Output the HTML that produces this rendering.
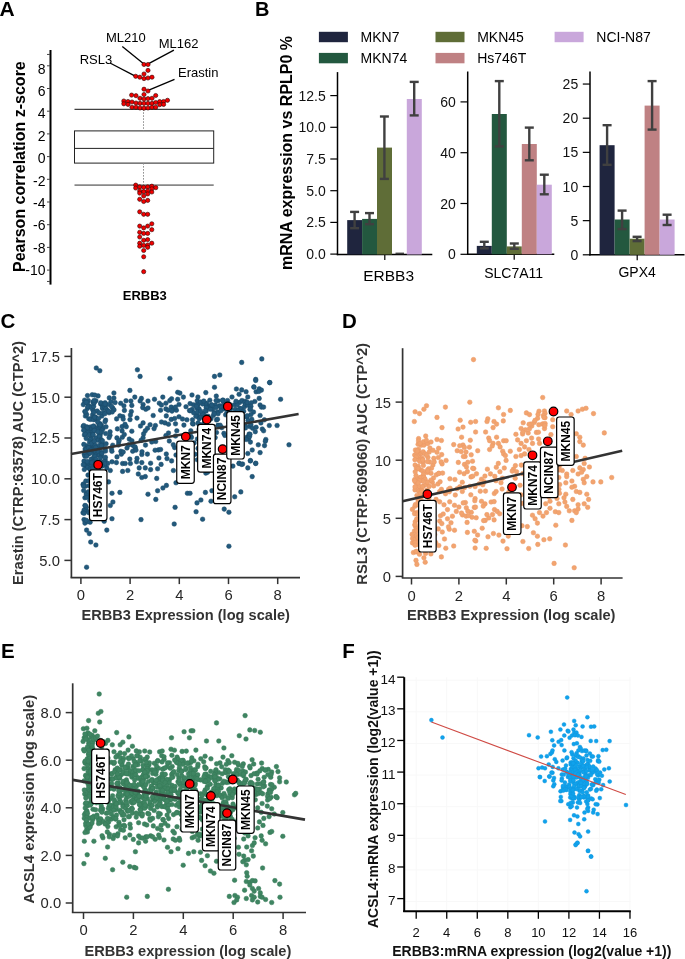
<!DOCTYPE html>
<html><head><meta charset="utf-8"><style>
html,body{margin:0;padding:0;background:#fff;width:685px;height:959px;overflow:hidden}
svg{display:block;will-change:transform}
text{font-family:"Liberation Sans",sans-serif}
</style></head><body>
<svg width="685" height="959" viewBox="0 0 685 959">
<rect width="685" height="959" fill="#fff"/>
<text x="-0.50" y="15.50" font-size="21" text-anchor="start" font-weight="bold" fill="#000">A</text>
<line x1="50.50" y1="50.00" x2="50.50" y2="284.60" stroke="#000" stroke-width="2"/>
<line x1="47.00" y1="54.45" x2="50.00" y2="54.45" stroke="#444" stroke-width="1"/>
<line x1="47.00" y1="65.80" x2="50.00" y2="65.80" stroke="#444" stroke-width="1"/>
<line x1="47.00" y1="88.50" x2="50.00" y2="88.50" stroke="#444" stroke-width="1"/>
<line x1="47.00" y1="111.20" x2="50.00" y2="111.20" stroke="#444" stroke-width="1"/>
<line x1="47.00" y1="133.90" x2="50.00" y2="133.90" stroke="#444" stroke-width="1"/>
<line x1="47.00" y1="156.60" x2="50.00" y2="156.60" stroke="#444" stroke-width="1"/>
<line x1="47.00" y1="179.30" x2="50.00" y2="179.30" stroke="#444" stroke-width="1"/>
<line x1="47.00" y1="202.00" x2="50.00" y2="202.00" stroke="#444" stroke-width="1"/>
<line x1="47.00" y1="224.70" x2="50.00" y2="224.70" stroke="#444" stroke-width="1"/>
<line x1="47.00" y1="247.40" x2="50.00" y2="247.40" stroke="#444" stroke-width="1"/>
<line x1="47.00" y1="270.10" x2="50.00" y2="270.10" stroke="#444" stroke-width="1"/>
<line x1="47.00" y1="281.45" x2="50.00" y2="281.45" stroke="#444" stroke-width="1"/>
<text x="45.50" y="73.68" font-size="14" text-anchor="end" font-weight="normal" fill="#000">8</text>
<text x="45.50" y="96.06" font-size="14" text-anchor="end" font-weight="normal" fill="#000">6</text>
<text x="45.50" y="118.44" font-size="14" text-anchor="end" font-weight="normal" fill="#000">4</text>
<text x="45.50" y="140.82" font-size="14" text-anchor="end" font-weight="normal" fill="#000">2</text>
<text x="45.50" y="163.20" font-size="14" text-anchor="end" font-weight="normal" fill="#000">0</text>
<text x="45.50" y="185.58" font-size="14" text-anchor="end" font-weight="normal" fill="#000">-2</text>
<text x="45.50" y="207.96" font-size="14" text-anchor="end" font-weight="normal" fill="#000">-4</text>
<text x="45.50" y="230.34" font-size="14" text-anchor="end" font-weight="normal" fill="#000">-6</text>
<text x="45.50" y="252.72" font-size="14" text-anchor="end" font-weight="normal" fill="#000">-8</text>
<text x="45.50" y="275.10" font-size="14" text-anchor="end" font-weight="normal" fill="#000">-10</text>
<text x="25.00" y="166.60" font-size="16" text-anchor="middle" font-weight="bold" fill="#000" transform="rotate(-90 25 166.6)">Pearson correlation z-score</text>
<rect x="74.5" y="130.9" width="139.2" height="32.2" fill="none" stroke="#222" stroke-width="1"/>
<line x1="74.50" y1="148.40" x2="213.70" y2="148.40" stroke="#222" stroke-width="1"/>
<line x1="74.50" y1="109.30" x2="213.70" y2="109.30" stroke="#111" stroke-width="1"/>
<line x1="74.50" y1="185.10" x2="213.70" y2="185.10" stroke="#888" stroke-width="1.6"/>
<line x1="143.50" y1="109.30" x2="143.50" y2="130.90" stroke="#888" stroke-width="1" stroke-dasharray="1.5,1.5"/>
<line x1="143.50" y1="163.10" x2="143.50" y2="185.10" stroke="#888" stroke-width="1" stroke-dasharray="1.5,1.5"/>
<text x="166.80" y="299.70" font-size="13" text-anchor="end" font-weight="bold" fill="#000">ERBB3</text>
<text x="106.00" y="41.70" font-size="13" text-anchor="start" font-weight="normal" fill="#000">ML210</text>
<line x1="122.30" y1="46.60" x2="143.90" y2="64.10" stroke="#000" stroke-width="1.3"/>
<text x="79.70" y="63.50" font-size="13" text-anchor="start" font-weight="normal" fill="#000">RSL3</text>
<line x1="110.00" y1="63.00" x2="135.70" y2="76.40" stroke="#000" stroke-width="1.3"/>
<text x="158.70" y="47.50" font-size="13" text-anchor="start" font-weight="normal" fill="#000">ML162</text>
<line x1="173.90" y1="50.10" x2="148.20" y2="63.90" stroke="#000" stroke-width="1.3"/>
<text x="178.00" y="77.30" font-size="13" text-anchor="start" font-weight="normal" fill="#000">Erastin</text>
<line x1="174.50" y1="79.30" x2="147.60" y2="90.70" stroke="#000" stroke-width="1.3"/>
<circle cx="144.00" cy="64.50" r="2.1" fill="#f20000" stroke="#300000" stroke-width="0.6"/>
<circle cx="148.00" cy="64.50" r="2.1" fill="#f20000" stroke="#300000" stroke-width="0.6"/>
<circle cx="148.00" cy="70.40" r="2.1" fill="#f20000" stroke="#300000" stroke-width="0.6"/>
<circle cx="144.00" cy="74.00" r="2.1" fill="#f20000" stroke="#300000" stroke-width="0.6"/>
<circle cx="135.70" cy="76.30" r="2.1" fill="#f20000" stroke="#300000" stroke-width="0.6"/>
<circle cx="139.80" cy="77.20" r="2.1" fill="#f20000" stroke="#300000" stroke-width="0.6"/>
<circle cx="144.00" cy="78.60" r="2.1" fill="#f20000" stroke="#300000" stroke-width="0.6"/>
<circle cx="148.00" cy="78.00" r="2.1" fill="#f20000" stroke="#300000" stroke-width="0.6"/>
<circle cx="152.00" cy="77.20" r="2.1" fill="#f20000" stroke="#300000" stroke-width="0.6"/>
<circle cx="144.00" cy="89.20" r="2.1" fill="#f20000" stroke="#300000" stroke-width="0.6"/>
<circle cx="148.00" cy="91.00" r="2.1" fill="#f20000" stroke="#300000" stroke-width="0.6"/>
<circle cx="131.60" cy="95.10" r="2.1" fill="#f20000" stroke="#300000" stroke-width="0.6"/>
<circle cx="136.00" cy="95.70" r="2.1" fill="#f20000" stroke="#300000" stroke-width="0.6"/>
<circle cx="144.00" cy="94.50" r="2.1" fill="#f20000" stroke="#300000" stroke-width="0.6"/>
<circle cx="155.70" cy="95.50" r="2.1" fill="#f20000" stroke="#300000" stroke-width="0.6"/>
<circle cx="140.00" cy="98.30" r="2.1" fill="#f20000" stroke="#300000" stroke-width="0.6"/>
<circle cx="144.00" cy="99.00" r="2.1" fill="#f20000" stroke="#300000" stroke-width="0.6"/>
<circle cx="148.00" cy="98.60" r="2.1" fill="#f20000" stroke="#300000" stroke-width="0.6"/>
<circle cx="152.00" cy="98.30" r="2.1" fill="#f20000" stroke="#300000" stroke-width="0.6"/>
<circle cx="123.80" cy="101.00" r="2.1" fill="#f20000" stroke="#300000" stroke-width="0.6"/>
<circle cx="128.00" cy="101.50" r="2.1" fill="#f20000" stroke="#300000" stroke-width="0.6"/>
<circle cx="132.00" cy="102.00" r="2.1" fill="#f20000" stroke="#300000" stroke-width="0.6"/>
<circle cx="136.00" cy="103.00" r="2.1" fill="#f20000" stroke="#300000" stroke-width="0.6"/>
<circle cx="140.00" cy="103.40" r="2.1" fill="#f20000" stroke="#300000" stroke-width="0.6"/>
<circle cx="144.00" cy="103.40" r="2.1" fill="#f20000" stroke="#300000" stroke-width="0.6"/>
<circle cx="148.00" cy="103.40" r="2.1" fill="#f20000" stroke="#300000" stroke-width="0.6"/>
<circle cx="152.00" cy="103.40" r="2.1" fill="#f20000" stroke="#300000" stroke-width="0.6"/>
<circle cx="155.70" cy="102.50" r="2.1" fill="#f20000" stroke="#300000" stroke-width="0.6"/>
<circle cx="159.70" cy="101.60" r="2.1" fill="#f20000" stroke="#300000" stroke-width="0.6"/>
<circle cx="163.60" cy="101.50" r="2.1" fill="#f20000" stroke="#300000" stroke-width="0.6"/>
<circle cx="167.50" cy="100.30" r="2.1" fill="#f20000" stroke="#300000" stroke-width="0.6"/>
<circle cx="123.80" cy="103.80" r="2.1" fill="#f20000" stroke="#300000" stroke-width="0.6"/>
<circle cx="128.00" cy="104.40" r="2.1" fill="#f20000" stroke="#300000" stroke-width="0.6"/>
<circle cx="159.70" cy="104.70" r="2.1" fill="#f20000" stroke="#300000" stroke-width="0.6"/>
<circle cx="163.60" cy="104.40" r="2.1" fill="#f20000" stroke="#300000" stroke-width="0.6"/>
<circle cx="132.00" cy="107.30" r="2.1" fill="#f20000" stroke="#300000" stroke-width="0.6"/>
<circle cx="136.00" cy="107.30" r="2.1" fill="#f20000" stroke="#300000" stroke-width="0.6"/>
<circle cx="140.00" cy="108.00" r="2.1" fill="#f20000" stroke="#300000" stroke-width="0.6"/>
<circle cx="144.00" cy="108.20" r="2.1" fill="#f20000" stroke="#300000" stroke-width="0.6"/>
<circle cx="148.00" cy="108.00" r="2.1" fill="#f20000" stroke="#300000" stroke-width="0.6"/>
<circle cx="152.00" cy="107.30" r="2.1" fill="#f20000" stroke="#300000" stroke-width="0.6"/>
<circle cx="155.70" cy="107.30" r="2.1" fill="#f20000" stroke="#300000" stroke-width="0.6"/>
<circle cx="135.70" cy="185.10" r="2.1" fill="#f20000" stroke="#300000" stroke-width="0.6"/>
<circle cx="135.70" cy="188.00" r="2.1" fill="#f20000" stroke="#300000" stroke-width="0.6"/>
<circle cx="139.70" cy="186.90" r="2.1" fill="#f20000" stroke="#300000" stroke-width="0.6"/>
<circle cx="143.70" cy="187.30" r="2.1" fill="#f20000" stroke="#300000" stroke-width="0.6"/>
<circle cx="147.70" cy="186.90" r="2.1" fill="#f20000" stroke="#300000" stroke-width="0.6"/>
<circle cx="151.80" cy="186.20" r="2.1" fill="#f20000" stroke="#300000" stroke-width="0.6"/>
<circle cx="155.80" cy="187.70" r="2.1" fill="#f20000" stroke="#300000" stroke-width="0.6"/>
<circle cx="151.80" cy="188.80" r="2.1" fill="#f20000" stroke="#300000" stroke-width="0.6"/>
<circle cx="139.70" cy="191.00" r="2.1" fill="#f20000" stroke="#300000" stroke-width="0.6"/>
<circle cx="143.70" cy="191.70" r="2.1" fill="#f20000" stroke="#300000" stroke-width="0.6"/>
<circle cx="147.70" cy="191.00" r="2.1" fill="#f20000" stroke="#300000" stroke-width="0.6"/>
<circle cx="151.80" cy="192.00" r="2.1" fill="#f20000" stroke="#300000" stroke-width="0.6"/>
<circle cx="139.70" cy="193.10" r="2.1" fill="#f20000" stroke="#300000" stroke-width="0.6"/>
<circle cx="147.70" cy="193.90" r="2.1" fill="#f20000" stroke="#300000" stroke-width="0.6"/>
<circle cx="143.70" cy="196.00" r="2.1" fill="#f20000" stroke="#300000" stroke-width="0.6"/>
<circle cx="139.70" cy="199.30" r="2.1" fill="#f20000" stroke="#300000" stroke-width="0.6"/>
<circle cx="143.70" cy="201.50" r="2.1" fill="#f20000" stroke="#300000" stroke-width="0.6"/>
<circle cx="147.70" cy="200.40" r="2.1" fill="#f20000" stroke="#300000" stroke-width="0.6"/>
<circle cx="139.70" cy="211.80" r="2.1" fill="#f20000" stroke="#300000" stroke-width="0.6"/>
<circle cx="143.70" cy="214.30" r="2.1" fill="#f20000" stroke="#300000" stroke-width="0.6"/>
<circle cx="147.70" cy="214.30" r="2.1" fill="#f20000" stroke="#300000" stroke-width="0.6"/>
<circle cx="139.70" cy="226.10" r="2.1" fill="#f20000" stroke="#300000" stroke-width="0.6"/>
<circle cx="143.70" cy="227.90" r="2.1" fill="#f20000" stroke="#300000" stroke-width="0.6"/>
<circle cx="147.70" cy="226.10" r="2.1" fill="#f20000" stroke="#300000" stroke-width="0.6"/>
<circle cx="151.80" cy="223.80" r="2.1" fill="#f20000" stroke="#300000" stroke-width="0.6"/>
<circle cx="151.80" cy="229.70" r="2.1" fill="#f20000" stroke="#300000" stroke-width="0.6"/>
<circle cx="139.70" cy="232.30" r="2.1" fill="#f20000" stroke="#300000" stroke-width="0.6"/>
<circle cx="143.70" cy="233.40" r="2.1" fill="#f20000" stroke="#300000" stroke-width="0.6"/>
<circle cx="147.70" cy="233.40" r="2.1" fill="#f20000" stroke="#300000" stroke-width="0.6"/>
<circle cx="139.70" cy="237.00" r="2.1" fill="#f20000" stroke="#300000" stroke-width="0.6"/>
<circle cx="143.70" cy="240.30" r="2.1" fill="#f20000" stroke="#300000" stroke-width="0.6"/>
<circle cx="147.70" cy="239.60" r="2.1" fill="#f20000" stroke="#300000" stroke-width="0.6"/>
<circle cx="139.70" cy="243.20" r="2.1" fill="#f20000" stroke="#300000" stroke-width="0.6"/>
<circle cx="151.80" cy="243.20" r="2.1" fill="#f20000" stroke="#300000" stroke-width="0.6"/>
<circle cx="139.70" cy="246.20" r="2.1" fill="#f20000" stroke="#300000" stroke-width="0.6"/>
<circle cx="143.70" cy="245.40" r="2.1" fill="#f20000" stroke="#300000" stroke-width="0.6"/>
<circle cx="147.70" cy="245.00" r="2.1" fill="#f20000" stroke="#300000" stroke-width="0.6"/>
<circle cx="147.70" cy="247.30" r="2.1" fill="#f20000" stroke="#300000" stroke-width="0.6"/>
<circle cx="143.70" cy="250.50" r="2.1" fill="#f20000" stroke="#300000" stroke-width="0.6"/>
<circle cx="143.70" cy="256.80" r="2.1" fill="#f20000" stroke="#300000" stroke-width="0.6"/>
<circle cx="143.70" cy="271.70" r="2.1" fill="#f20000" stroke="#300000" stroke-width="0.6"/>
<text x="255.00" y="15.50" font-size="20" text-anchor="start" font-weight="bold" fill="#000">B</text>
<rect x="318.90" y="31.80" width="29.00" height="10.40" fill="#1f253e"/>
<text x="360.60" y="42.10" font-size="14" text-anchor="start" font-weight="normal" fill="#000">MKN7</text>
<rect x="318.90" y="52.90" width="29.00" height="10.40" fill="#23583f"/>
<text x="360.60" y="63.20" font-size="14" text-anchor="start" font-weight="normal" fill="#000">MKN74</text>
<rect x="435.50" y="31.80" width="29.00" height="10.40" fill="#5f6d37"/>
<text x="477.20" y="42.10" font-size="14" text-anchor="start" font-weight="normal" fill="#000">MKN45</text>
<rect x="435.50" y="52.90" width="29.00" height="10.40" fill="#bf8183"/>
<text x="477.20" y="63.20" font-size="14" text-anchor="start" font-weight="normal" fill="#000">Hs746T</text>
<rect x="554.60" y="31.80" width="29.00" height="10.40" fill="#c9a7db"/>
<text x="596.30" y="42.10" font-size="14" text-anchor="start" font-weight="normal" fill="#000">NCI-N87</text>
<text x="292.00" y="153.00" font-size="16" text-anchor="middle" font-weight="bold" fill="#000" transform="rotate(-90 292 153)">mRNA expression vs RPLP0 %</text>
<line x1="337.50" y1="72.10" x2="337.50" y2="255.20" stroke="#000" stroke-width="1.5"/>
<line x1="336.80" y1="254.50" x2="432.30" y2="254.50" stroke="#000" stroke-width="1.5"/>
<line x1="330.30" y1="254.10" x2="337.50" y2="254.10" stroke="#000" stroke-width="1.2"/>
<text x="325.70" y="259.10" font-size="14" text-anchor="end" font-weight="normal" fill="#111">0.0</text>
<line x1="330.30" y1="222.40" x2="337.50" y2="222.40" stroke="#000" stroke-width="1.2"/>
<text x="325.70" y="227.40" font-size="14" text-anchor="end" font-weight="normal" fill="#111">2.5</text>
<line x1="330.30" y1="190.70" x2="337.50" y2="190.70" stroke="#000" stroke-width="1.2"/>
<text x="325.70" y="195.70" font-size="14" text-anchor="end" font-weight="normal" fill="#111">5.0</text>
<line x1="330.30" y1="159.00" x2="337.50" y2="159.00" stroke="#000" stroke-width="1.2"/>
<text x="325.70" y="164.00" font-size="14" text-anchor="end" font-weight="normal" fill="#111">7.5</text>
<line x1="330.30" y1="127.30" x2="337.50" y2="127.30" stroke="#000" stroke-width="1.2"/>
<text x="325.70" y="132.30" font-size="14" text-anchor="end" font-weight="normal" fill="#111">10.0</text>
<line x1="330.30" y1="95.60" x2="337.50" y2="95.60" stroke="#000" stroke-width="1.2"/>
<text x="325.70" y="100.60" font-size="14" text-anchor="end" font-weight="normal" fill="#111">12.5</text>
<line x1="384.80" y1="254.50" x2="384.80" y2="260.00" stroke="#000" stroke-width="1.2"/>
<rect x="347.20" y="220.10" width="15.00" height="34.40" fill="#1f253e"/>
<rect x="362.10" y="218.90" width="15.00" height="35.60" fill="#23583f"/>
<rect x="377.00" y="147.60" width="15.00" height="106.90" fill="#5f6d37"/>
<rect x="391.90" y="254.50" width="15.00" height="0.00" fill="#bf8183"/>
<rect x="406.80" y="99.00" width="15.00" height="155.50" fill="#c9a7db"/>
<line x1="354.60" y1="211.90" x2="354.60" y2="228.20" stroke="#404040" stroke-width="2.4"/>
<line x1="350.10" y1="211.90" x2="359.10" y2="211.90" stroke="#404040" stroke-width="2.4"/>
<line x1="350.10" y1="228.20" x2="359.10" y2="228.20" stroke="#404040" stroke-width="2.4"/>
<line x1="369.50" y1="213.10" x2="369.50" y2="224.20" stroke="#404040" stroke-width="2.4"/>
<line x1="365.00" y1="213.10" x2="374.00" y2="213.10" stroke="#404040" stroke-width="2.4"/>
<line x1="365.00" y1="224.20" x2="374.00" y2="224.20" stroke="#404040" stroke-width="2.4"/>
<line x1="384.40" y1="116.50" x2="384.40" y2="178.90" stroke="#404040" stroke-width="2.4"/>
<line x1="379.90" y1="116.50" x2="388.90" y2="116.50" stroke="#404040" stroke-width="2.4"/>
<line x1="379.90" y1="178.90" x2="388.90" y2="178.90" stroke="#404040" stroke-width="2.4"/>
<line x1="414.20" y1="81.90" x2="414.20" y2="115.40" stroke="#404040" stroke-width="2.4"/>
<line x1="409.70" y1="81.90" x2="418.70" y2="81.90" stroke="#404040" stroke-width="2.4"/>
<line x1="409.70" y1="115.40" x2="418.70" y2="115.40" stroke="#404040" stroke-width="2.4"/>
<text x="363.20" y="280.70" font-size="15.5" text-anchor="start" font-weight="normal" fill="#000">ERBB3</text>
<line x1="395.50" y1="253.40" x2="404.00" y2="253.40" stroke="#404040" stroke-width="1.6"/>
<line x1="467.70" y1="71.50" x2="467.70" y2="255.00" stroke="#000" stroke-width="1.5"/>
<line x1="467.00" y1="254.30" x2="554.30" y2="254.30" stroke="#000" stroke-width="1.5"/>
<line x1="460.50" y1="254.30" x2="467.70" y2="254.30" stroke="#000" stroke-width="1.2"/>
<text x="455.90" y="259.30" font-size="14" text-anchor="end" font-weight="normal" fill="#111">0</text>
<line x1="460.50" y1="203.50" x2="467.70" y2="203.50" stroke="#000" stroke-width="1.2"/>
<text x="455.90" y="208.50" font-size="14" text-anchor="end" font-weight="normal" fill="#111">20</text>
<line x1="460.50" y1="152.70" x2="467.70" y2="152.70" stroke="#000" stroke-width="1.2"/>
<text x="455.90" y="157.70" font-size="14" text-anchor="end" font-weight="normal" fill="#111">40</text>
<line x1="460.50" y1="101.90" x2="467.70" y2="101.90" stroke="#000" stroke-width="1.2"/>
<text x="455.90" y="106.90" font-size="14" text-anchor="end" font-weight="normal" fill="#111">60</text>
<line x1="514.20" y1="254.30" x2="514.20" y2="259.80" stroke="#000" stroke-width="1.2"/>
<rect x="476.80" y="245.90" width="15.00" height="8.40" fill="#1f253e"/>
<rect x="491.80" y="114.00" width="15.00" height="140.30" fill="#23583f"/>
<rect x="506.80" y="246.40" width="15.00" height="7.90" fill="#5f6d37"/>
<rect x="521.80" y="144.00" width="15.00" height="110.30" fill="#bf8183"/>
<rect x="536.80" y="184.70" width="15.00" height="69.60" fill="#c9a7db"/>
<line x1="484.30" y1="241.80" x2="484.30" y2="248.30" stroke="#404040" stroke-width="2.4"/>
<line x1="479.80" y1="241.80" x2="488.80" y2="241.80" stroke="#404040" stroke-width="2.4"/>
<line x1="479.80" y1="248.30" x2="488.80" y2="248.30" stroke="#404040" stroke-width="2.4"/>
<line x1="499.30" y1="81.10" x2="499.30" y2="146.40" stroke="#404040" stroke-width="2.4"/>
<line x1="494.80" y1="81.10" x2="503.80" y2="81.10" stroke="#404040" stroke-width="2.4"/>
<line x1="494.80" y1="146.40" x2="503.80" y2="146.40" stroke="#404040" stroke-width="2.4"/>
<line x1="514.30" y1="243.50" x2="514.30" y2="248.80" stroke="#404040" stroke-width="2.4"/>
<line x1="509.80" y1="243.50" x2="518.80" y2="243.50" stroke="#404040" stroke-width="2.4"/>
<line x1="509.80" y1="248.80" x2="518.80" y2="248.80" stroke="#404040" stroke-width="2.4"/>
<line x1="529.30" y1="127.60" x2="529.30" y2="160.30" stroke="#404040" stroke-width="2.4"/>
<line x1="524.80" y1="127.60" x2="533.80" y2="127.60" stroke="#404040" stroke-width="2.4"/>
<line x1="524.80" y1="160.30" x2="533.80" y2="160.30" stroke="#404040" stroke-width="2.4"/>
<line x1="544.30" y1="174.70" x2="544.30" y2="194.30" stroke="#404040" stroke-width="2.4"/>
<line x1="539.80" y1="174.70" x2="548.80" y2="174.70" stroke="#404040" stroke-width="2.4"/>
<line x1="539.80" y1="194.30" x2="548.80" y2="194.30" stroke="#404040" stroke-width="2.4"/>
<text x="513.60" y="277.70" font-size="14" text-anchor="middle" font-weight="normal" fill="#000">SLC7A11</text>
<line x1="590.00" y1="71.50" x2="590.00" y2="255.50" stroke="#000" stroke-width="1.5"/>
<line x1="589.30" y1="254.80" x2="684.50" y2="254.80" stroke="#000" stroke-width="1.5"/>
<line x1="582.80" y1="254.80" x2="590.00" y2="254.80" stroke="#000" stroke-width="1.2"/>
<text x="578.20" y="259.80" font-size="14" text-anchor="end" font-weight="normal" fill="#111">0</text>
<line x1="582.80" y1="220.65" x2="590.00" y2="220.65" stroke="#000" stroke-width="1.2"/>
<text x="578.20" y="225.65" font-size="14" text-anchor="end" font-weight="normal" fill="#111">5</text>
<line x1="582.80" y1="186.50" x2="590.00" y2="186.50" stroke="#000" stroke-width="1.2"/>
<text x="578.20" y="191.50" font-size="14" text-anchor="end" font-weight="normal" fill="#111">10</text>
<line x1="582.80" y1="152.35" x2="590.00" y2="152.35" stroke="#000" stroke-width="1.2"/>
<text x="578.20" y="157.35" font-size="14" text-anchor="end" font-weight="normal" fill="#111">15</text>
<line x1="582.80" y1="118.20" x2="590.00" y2="118.20" stroke="#000" stroke-width="1.2"/>
<text x="578.20" y="123.20" font-size="14" text-anchor="end" font-weight="normal" fill="#111">20</text>
<line x1="582.80" y1="84.05" x2="590.00" y2="84.05" stroke="#000" stroke-width="1.2"/>
<text x="578.20" y="89.05" font-size="14" text-anchor="end" font-weight="normal" fill="#111">25</text>
<line x1="637.20" y1="254.80" x2="637.20" y2="260.30" stroke="#000" stroke-width="1.2"/>
<rect x="599.60" y="145.20" width="15.00" height="109.60" fill="#1f253e"/>
<rect x="614.60" y="219.50" width="15.00" height="35.30" fill="#23583f"/>
<rect x="629.60" y="238.70" width="15.00" height="16.10" fill="#5f6d37"/>
<rect x="644.60" y="105.60" width="15.00" height="149.20" fill="#bf8183"/>
<rect x="659.60" y="219.50" width="15.00" height="35.30" fill="#c9a7db"/>
<line x1="607.10" y1="125.20" x2="607.10" y2="164.80" stroke="#404040" stroke-width="2.4"/>
<line x1="602.60" y1="125.20" x2="611.60" y2="125.20" stroke="#404040" stroke-width="2.4"/>
<line x1="602.60" y1="164.80" x2="611.60" y2="164.80" stroke="#404040" stroke-width="2.4"/>
<line x1="622.10" y1="210.60" x2="622.10" y2="229.10" stroke="#404040" stroke-width="2.4"/>
<line x1="617.60" y1="210.60" x2="626.60" y2="210.60" stroke="#404040" stroke-width="2.4"/>
<line x1="617.60" y1="229.10" x2="626.60" y2="229.10" stroke="#404040" stroke-width="2.4"/>
<line x1="637.10" y1="236.80" x2="637.10" y2="241.10" stroke="#404040" stroke-width="2.4"/>
<line x1="632.60" y1="236.80" x2="641.60" y2="236.80" stroke="#404040" stroke-width="2.4"/>
<line x1="632.60" y1="241.10" x2="641.60" y2="241.10" stroke="#404040" stroke-width="2.4"/>
<line x1="652.10" y1="81.10" x2="652.10" y2="129.60" stroke="#404040" stroke-width="2.4"/>
<line x1="647.60" y1="81.10" x2="656.60" y2="81.10" stroke="#404040" stroke-width="2.4"/>
<line x1="647.60" y1="129.60" x2="656.60" y2="129.60" stroke="#404040" stroke-width="2.4"/>
<line x1="667.10" y1="214.70" x2="667.10" y2="225.00" stroke="#404040" stroke-width="2.4"/>
<line x1="662.60" y1="214.70" x2="671.60" y2="214.70" stroke="#404040" stroke-width="2.4"/>
<line x1="662.60" y1="225.00" x2="671.60" y2="225.00" stroke="#404040" stroke-width="2.4"/>
<text x="637.10" y="277.30" font-size="14" text-anchor="middle" font-weight="normal" fill="#000">GPX4</text>
<text x="0.50" y="328.00" font-size="20.5" text-anchor="start" font-weight="bold" fill="#000">C</text>
<line x1="71.40" y1="348.00" x2="71.40" y2="577.60" stroke="#333" stroke-width="1.7"/>
<line x1="70.55" y1="577.60" x2="300.00" y2="577.60" stroke="#333" stroke-width="1.7"/>
<line x1="64.40" y1="560.40" x2="71.40" y2="560.40" stroke="#333" stroke-width="1.5"/>
<text x="59.90" y="565.80" font-size="14.8" text-anchor="end" font-weight="normal" fill="#262626">5.0</text>
<line x1="64.40" y1="519.60" x2="71.40" y2="519.60" stroke="#333" stroke-width="1.5"/>
<text x="59.90" y="525.00" font-size="14.8" text-anchor="end" font-weight="normal" fill="#262626">7.5</text>
<line x1="64.40" y1="478.80" x2="71.40" y2="478.80" stroke="#333" stroke-width="1.5"/>
<text x="59.90" y="484.20" font-size="14.8" text-anchor="end" font-weight="normal" fill="#262626">10.0</text>
<line x1="64.40" y1="438.00" x2="71.40" y2="438.00" stroke="#333" stroke-width="1.5"/>
<text x="59.90" y="443.40" font-size="14.8" text-anchor="end" font-weight="normal" fill="#262626">12.5</text>
<line x1="64.40" y1="397.20" x2="71.40" y2="397.20" stroke="#333" stroke-width="1.5"/>
<text x="59.90" y="402.60" font-size="14.8" text-anchor="end" font-weight="normal" fill="#262626">15.0</text>
<line x1="64.40" y1="356.40" x2="71.40" y2="356.40" stroke="#333" stroke-width="1.5"/>
<text x="59.90" y="361.80" font-size="14.8" text-anchor="end" font-weight="normal" fill="#262626">17.5</text>
<line x1="80.90" y1="577.60" x2="80.90" y2="584.10" stroke="#333" stroke-width="1.5"/>
<text x="80.90" y="600.40" font-size="14.8" text-anchor="middle" font-weight="normal" fill="#262626">0</text>
<line x1="130.10" y1="577.60" x2="130.10" y2="584.10" stroke="#333" stroke-width="1.5"/>
<text x="130.10" y="600.40" font-size="14.8" text-anchor="middle" font-weight="normal" fill="#262626">2</text>
<line x1="179.30" y1="577.60" x2="179.30" y2="584.10" stroke="#333" stroke-width="1.5"/>
<text x="179.30" y="600.40" font-size="14.8" text-anchor="middle" font-weight="normal" fill="#262626">4</text>
<line x1="228.50" y1="577.60" x2="228.50" y2="584.10" stroke="#333" stroke-width="1.5"/>
<text x="228.50" y="600.40" font-size="14.8" text-anchor="middle" font-weight="normal" fill="#262626">6</text>
<line x1="277.70" y1="577.60" x2="277.70" y2="584.10" stroke="#333" stroke-width="1.5"/>
<text x="277.70" y="600.40" font-size="14.8" text-anchor="middle" font-weight="normal" fill="#262626">8</text>
<text x="23.00" y="463.00" font-size="14.65" text-anchor="middle" font-weight="bold" fill="#333" transform="rotate(-90 23 463)">Erastin (CTRP:63578) AUC (CTP^2)</text>
<text x="81.50" y="619.50" font-size="14.6" text-anchor="start" font-weight="bold" fill="#333">ERBB3 Expression (log scale)</text>
<text x="342.10" y="327.70" font-size="20.5" text-anchor="start" font-weight="bold" fill="#000">D</text>
<line x1="402.60" y1="348.20" x2="402.60" y2="578.00" stroke="#333" stroke-width="1.7"/>
<line x1="401.75" y1="578.00" x2="622.60" y2="578.00" stroke="#333" stroke-width="1.7"/>
<line x1="395.60" y1="576.40" x2="402.60" y2="576.40" stroke="#333" stroke-width="1.5"/>
<text x="391.10" y="581.80" font-size="14.8" text-anchor="end" font-weight="normal" fill="#262626">0</text>
<line x1="395.60" y1="518.30" x2="402.60" y2="518.30" stroke="#333" stroke-width="1.5"/>
<text x="391.10" y="523.70" font-size="14.8" text-anchor="end" font-weight="normal" fill="#262626">5</text>
<line x1="395.60" y1="460.20" x2="402.60" y2="460.20" stroke="#333" stroke-width="1.5"/>
<text x="391.10" y="465.60" font-size="14.8" text-anchor="end" font-weight="normal" fill="#262626">10</text>
<line x1="395.60" y1="402.10" x2="402.60" y2="402.10" stroke="#333" stroke-width="1.5"/>
<text x="391.10" y="407.50" font-size="14.8" text-anchor="end" font-weight="normal" fill="#262626">15</text>
<line x1="411.50" y1="578.00" x2="411.50" y2="584.50" stroke="#333" stroke-width="1.5"/>
<text x="411.50" y="600.80" font-size="14.8" text-anchor="middle" font-weight="normal" fill="#262626">0</text>
<line x1="458.90" y1="578.00" x2="458.90" y2="584.50" stroke="#333" stroke-width="1.5"/>
<text x="458.90" y="600.80" font-size="14.8" text-anchor="middle" font-weight="normal" fill="#262626">2</text>
<line x1="506.30" y1="578.00" x2="506.30" y2="584.50" stroke="#333" stroke-width="1.5"/>
<text x="506.30" y="600.80" font-size="14.8" text-anchor="middle" font-weight="normal" fill="#262626">4</text>
<line x1="553.70" y1="578.00" x2="553.70" y2="584.50" stroke="#333" stroke-width="1.5"/>
<text x="553.70" y="600.80" font-size="14.8" text-anchor="middle" font-weight="normal" fill="#262626">6</text>
<line x1="601.10" y1="578.00" x2="601.10" y2="584.50" stroke="#333" stroke-width="1.5"/>
<text x="601.10" y="600.80" font-size="14.8" text-anchor="middle" font-weight="normal" fill="#262626">8</text>
<text x="367.00" y="463.80" font-size="14.75" text-anchor="middle" font-weight="bold" fill="#333" transform="rotate(-90 367 463.8)">RSL3 (CTRP:609060) AUC (CTP^2)</text>
<text x="407.00" y="619.50" font-size="14.6" text-anchor="start" font-weight="bold" fill="#333">ERBB3 Expression (log scale)</text>
<text x="1.00" y="658.00" font-size="20.5" text-anchor="start" font-weight="bold" fill="#000">E</text>
<line x1="72.70" y1="683.30" x2="72.70" y2="912.50" stroke="#333" stroke-width="1.7"/>
<line x1="71.85" y1="912.50" x2="306.00" y2="912.50" stroke="#333" stroke-width="1.7"/>
<line x1="65.70" y1="903.00" x2="72.70" y2="903.00" stroke="#333" stroke-width="1.5"/>
<text x="61.20" y="908.40" font-size="14.8" text-anchor="end" font-weight="normal" fill="#262626">0.0</text>
<line x1="65.70" y1="855.40" x2="72.70" y2="855.40" stroke="#333" stroke-width="1.5"/>
<text x="61.20" y="860.80" font-size="14.8" text-anchor="end" font-weight="normal" fill="#262626">2.0</text>
<line x1="65.70" y1="807.80" x2="72.70" y2="807.80" stroke="#333" stroke-width="1.5"/>
<text x="61.20" y="813.20" font-size="14.8" text-anchor="end" font-weight="normal" fill="#262626">4.0</text>
<line x1="65.70" y1="760.20" x2="72.70" y2="760.20" stroke="#333" stroke-width="1.5"/>
<text x="61.20" y="765.60" font-size="14.8" text-anchor="end" font-weight="normal" fill="#262626">6.0</text>
<line x1="65.70" y1="712.60" x2="72.70" y2="712.60" stroke="#333" stroke-width="1.5"/>
<text x="61.20" y="718.00" font-size="14.8" text-anchor="end" font-weight="normal" fill="#262626">8.0</text>
<line x1="83.50" y1="912.50" x2="83.50" y2="919.00" stroke="#333" stroke-width="1.5"/>
<text x="83.50" y="935.30" font-size="14.8" text-anchor="middle" font-weight="normal" fill="#262626">0</text>
<line x1="133.40" y1="912.50" x2="133.40" y2="919.00" stroke="#333" stroke-width="1.5"/>
<text x="133.40" y="935.30" font-size="14.8" text-anchor="middle" font-weight="normal" fill="#262626">2</text>
<line x1="183.30" y1="912.50" x2="183.30" y2="919.00" stroke="#333" stroke-width="1.5"/>
<text x="183.30" y="935.30" font-size="14.8" text-anchor="middle" font-weight="normal" fill="#262626">4</text>
<line x1="233.20" y1="912.50" x2="233.20" y2="919.00" stroke="#333" stroke-width="1.5"/>
<text x="233.20" y="935.30" font-size="14.8" text-anchor="middle" font-weight="normal" fill="#262626">6</text>
<line x1="283.10" y1="912.50" x2="283.10" y2="919.00" stroke="#333" stroke-width="1.5"/>
<text x="283.10" y="935.30" font-size="14.8" text-anchor="middle" font-weight="normal" fill="#262626">8</text>
<text x="34.50" y="799.20" font-size="14.85" text-anchor="middle" font-weight="bold" fill="#333" transform="rotate(-90 34.5 799.2)">ACSL4 expression (log scale)</text>
<text x="84.50" y="955.50" font-size="14.6" text-anchor="start" font-weight="bold" fill="#333">ERBB3 expression (log scale)</text>
<text x="342.30" y="657.60" font-size="20.5" text-anchor="start" font-weight="bold" fill="#000">F</text>
<line x1="404.20" y1="901.61" x2="630.80" y2="901.61" stroke="#f8f8f8" stroke-width="1"/>
<line x1="404.20" y1="869.98" x2="630.80" y2="869.98" stroke="#f8f8f8" stroke-width="1"/>
<line x1="404.20" y1="838.35" x2="630.80" y2="838.35" stroke="#f8f8f8" stroke-width="1"/>
<line x1="404.20" y1="806.72" x2="630.80" y2="806.72" stroke="#f8f8f8" stroke-width="1"/>
<line x1="404.20" y1="775.09" x2="630.80" y2="775.09" stroke="#f8f8f8" stroke-width="1"/>
<line x1="404.20" y1="743.46" x2="630.80" y2="743.46" stroke="#f8f8f8" stroke-width="1"/>
<line x1="404.20" y1="711.83" x2="630.80" y2="711.83" stroke="#f8f8f8" stroke-width="1"/>
<line x1="404.20" y1="680.20" x2="630.80" y2="680.20" stroke="#f8f8f8" stroke-width="1"/>
<line x1="416.20" y1="677.20" x2="416.20" y2="911.00" stroke="#f8f8f8" stroke-width="1"/>
<line x1="446.74" y1="677.20" x2="446.74" y2="911.00" stroke="#f8f8f8" stroke-width="1"/>
<line x1="477.28" y1="677.20" x2="477.28" y2="911.00" stroke="#f8f8f8" stroke-width="1"/>
<line x1="507.82" y1="677.20" x2="507.82" y2="911.00" stroke="#f8f8f8" stroke-width="1"/>
<line x1="538.36" y1="677.20" x2="538.36" y2="911.00" stroke="#f8f8f8" stroke-width="1"/>
<line x1="568.90" y1="677.20" x2="568.90" y2="911.00" stroke="#f8f8f8" stroke-width="1"/>
<line x1="599.44" y1="677.20" x2="599.44" y2="911.00" stroke="#f8f8f8" stroke-width="1"/>
<line x1="629.98" y1="677.20" x2="629.98" y2="911.00" stroke="#f8f8f8" stroke-width="1"/>
<line x1="404.20" y1="677.20" x2="404.20" y2="912.00" stroke="#000" stroke-width="2"/>
<line x1="403.20" y1="911.20" x2="630.80" y2="911.20" stroke="#000" stroke-width="2"/>
<line x1="397.20" y1="898.61" x2="404.20" y2="898.61" stroke="#000" stroke-width="1.3"/>
<text x="395.50" y="905.11" font-size="13.5" text-anchor="end" font-weight="normal" fill="#111">7</text>
<line x1="397.20" y1="866.98" x2="404.20" y2="866.98" stroke="#000" stroke-width="1.3"/>
<text x="395.50" y="873.48" font-size="13.5" text-anchor="end" font-weight="normal" fill="#111">8</text>
<line x1="397.20" y1="835.35" x2="404.20" y2="835.35" stroke="#000" stroke-width="1.3"/>
<text x="395.50" y="841.85" font-size="13.5" text-anchor="end" font-weight="normal" fill="#111">9</text>
<line x1="397.20" y1="803.72" x2="404.20" y2="803.72" stroke="#000" stroke-width="1.3"/>
<text x="395.50" y="810.22" font-size="13.5" text-anchor="end" font-weight="normal" fill="#111">10</text>
<line x1="397.20" y1="772.09" x2="404.20" y2="772.09" stroke="#000" stroke-width="1.3"/>
<text x="395.50" y="778.59" font-size="13.5" text-anchor="end" font-weight="normal" fill="#111">11</text>
<line x1="397.20" y1="740.46" x2="404.20" y2="740.46" stroke="#000" stroke-width="1.3"/>
<text x="395.50" y="746.96" font-size="13.5" text-anchor="end" font-weight="normal" fill="#111">12</text>
<line x1="397.20" y1="708.83" x2="404.20" y2="708.83" stroke="#000" stroke-width="1.3"/>
<text x="395.50" y="715.33" font-size="13.5" text-anchor="end" font-weight="normal" fill="#111">13</text>
<line x1="397.20" y1="677.20" x2="404.20" y2="677.20" stroke="#000" stroke-width="1.3"/>
<text x="395.50" y="683.70" font-size="13.5" text-anchor="end" font-weight="normal" fill="#111">14</text>
<line x1="416.20" y1="911.20" x2="416.20" y2="918.80" stroke="#000" stroke-width="1.3"/>
<text x="416.20" y="936.60" font-size="13" text-anchor="middle" font-weight="normal" fill="#111">2</text>
<line x1="446.74" y1="911.20" x2="446.74" y2="918.80" stroke="#000" stroke-width="1.3"/>
<text x="446.74" y="936.60" font-size="13" text-anchor="middle" font-weight="normal" fill="#111">4</text>
<line x1="477.28" y1="911.20" x2="477.28" y2="918.80" stroke="#000" stroke-width="1.3"/>
<text x="477.28" y="936.60" font-size="13" text-anchor="middle" font-weight="normal" fill="#111">6</text>
<line x1="507.82" y1="911.20" x2="507.82" y2="918.80" stroke="#000" stroke-width="1.3"/>
<text x="507.82" y="936.60" font-size="13" text-anchor="middle" font-weight="normal" fill="#111">8</text>
<line x1="538.36" y1="911.20" x2="538.36" y2="918.80" stroke="#000" stroke-width="1.3"/>
<text x="538.36" y="936.60" font-size="13" text-anchor="middle" font-weight="normal" fill="#111">10</text>
<line x1="568.90" y1="911.20" x2="568.90" y2="918.80" stroke="#000" stroke-width="1.3"/>
<text x="568.90" y="936.60" font-size="13" text-anchor="middle" font-weight="normal" fill="#111">12</text>
<line x1="599.44" y1="911.20" x2="599.44" y2="918.80" stroke="#000" stroke-width="1.3"/>
<text x="599.44" y="936.60" font-size="13" text-anchor="middle" font-weight="normal" fill="#111">14</text>
<line x1="629.98" y1="911.20" x2="629.98" y2="918.80" stroke="#000" stroke-width="1.3"/>
<text x="629.98" y="936.60" font-size="13" text-anchor="middle" font-weight="normal" fill="#111">16</text>
<text x="378.00" y="789.20" font-size="14" text-anchor="middle" font-weight="bold" fill="#111" transform="rotate(-90 378.0 789.2)">ACSL4:mRNA expression (log2(value +1))</text>
<text x="392.20" y="955.50" font-size="14" text-anchor="start" font-weight="bold" fill="#111">ERBB3:mRNA expression (log2(value +1))</text>
<g fill="#22597c" stroke="#1a4a68" stroke-width="0.5">
<circle cx="96.3" cy="368.0" r="2.3"/>
<circle cx="99.8" cy="370.7" r="2.3"/>
<circle cx="137.4" cy="369.8" r="2.3"/>
<circle cx="140.1" cy="376.4" r="2.3"/>
<circle cx="169.9" cy="378.5" r="2.3"/>
<circle cx="261.8" cy="358.9" r="2.3"/>
<circle cx="241.7" cy="362.4" r="2.3"/>
<circle cx="214.5" cy="376.4" r="2.3"/>
<circle cx="219.8" cy="375.0" r="2.3"/>
<circle cx="255.7" cy="379.4" r="2.3"/>
<circle cx="269.7" cy="382.6" r="2.3"/>
<circle cx="253.9" cy="387.0" r="2.3"/>
<circle cx="214.5" cy="387.3" r="2.3"/>
<circle cx="236.4" cy="389.0" r="2.3"/>
<circle cx="241.7" cy="389.9" r="2.3"/>
<circle cx="87.5" cy="395.6" r="2.3"/>
<circle cx="92.2" cy="394.7" r="2.3"/>
<circle cx="98.1" cy="395.9" r="2.3"/>
<circle cx="94.8" cy="395.1" r="2.3"/>
<circle cx="109.3" cy="397.9" r="2.3"/>
<circle cx="113.9" cy="393.0" r="2.3"/>
<circle cx="113.9" cy="398.1" r="2.3"/>
<circle cx="129.9" cy="390.4" r="2.3"/>
<circle cx="92.8" cy="409.6" r="2.3"/>
<circle cx="89.5" cy="406.2" r="2.3"/>
<circle cx="84.6" cy="400.2" r="2.3"/>
<circle cx="88.3" cy="400.6" r="2.3"/>
<circle cx="84.9" cy="402.4" r="2.3"/>
<circle cx="83.3" cy="404.6" r="2.3"/>
<circle cx="87.4" cy="408.4" r="2.3"/>
<circle cx="88.2" cy="406.4" r="2.3"/>
<circle cx="88.0" cy="406.6" r="2.3"/>
<circle cx="87.6" cy="402.8" r="2.3"/>
<circle cx="93.0" cy="410.0" r="2.3"/>
<circle cx="91.4" cy="407.1" r="2.3"/>
<circle cx="86.2" cy="402.3" r="2.3"/>
<circle cx="95.9" cy="400.7" r="2.3"/>
<circle cx="100.7" cy="404.0" r="2.3"/>
<circle cx="101.5" cy="403.9" r="2.3"/>
<circle cx="102.6" cy="408.5" r="2.3"/>
<circle cx="93.0" cy="402.1" r="2.3"/>
<circle cx="102.1" cy="404.7" r="2.3"/>
<circle cx="102.8" cy="404.0" r="2.3"/>
<circle cx="93.7" cy="406.3" r="2.3"/>
<circle cx="100.8" cy="402.7" r="2.3"/>
<circle cx="93.9" cy="403.3" r="2.3"/>
<circle cx="102.6" cy="407.6" r="2.3"/>
<circle cx="94.2" cy="402.5" r="2.3"/>
<circle cx="94.0" cy="400.6" r="2.3"/>
<circle cx="111.0" cy="401.8" r="2.3"/>
<circle cx="108.6" cy="404.5" r="2.3"/>
<circle cx="104.9" cy="407.3" r="2.3"/>
<circle cx="104.3" cy="406.4" r="2.3"/>
<circle cx="104.2" cy="404.2" r="2.3"/>
<circle cx="105.1" cy="402.7" r="2.3"/>
<circle cx="112.7" cy="408.0" r="2.3"/>
<circle cx="106.0" cy="408.8" r="2.3"/>
<circle cx="105.1" cy="403.9" r="2.3"/>
<circle cx="111.5" cy="406.4" r="2.3"/>
<circle cx="114.0" cy="409.9" r="2.3"/>
<circle cx="115.1" cy="402.6" r="2.3"/>
<circle cx="120.7" cy="403.3" r="2.3"/>
<circle cx="126.0" cy="400.7" r="2.3"/>
<circle cx="123.9" cy="405.8" r="2.3"/>
<circle cx="85.4" cy="416.0" r="2.3"/>
<circle cx="86.7" cy="414.5" r="2.3"/>
<circle cx="92.6" cy="414.8" r="2.3"/>
<circle cx="88.7" cy="418.7" r="2.3"/>
<circle cx="84.8" cy="411.5" r="2.3"/>
<circle cx="92.1" cy="418.2" r="2.3"/>
<circle cx="85.5" cy="411.9" r="2.3"/>
<circle cx="90.4" cy="419.4" r="2.3"/>
<circle cx="95.0" cy="419.5" r="2.3"/>
<circle cx="101.8" cy="416.0" r="2.3"/>
<circle cx="97.2" cy="411.0" r="2.3"/>
<circle cx="93.4" cy="419.6" r="2.3"/>
<circle cx="95.4" cy="417.0" r="2.3"/>
<circle cx="95.6" cy="418.2" r="2.3"/>
<circle cx="99.0" cy="412.9" r="2.3"/>
<circle cx="94.8" cy="417.2" r="2.3"/>
<circle cx="93.7" cy="412.3" r="2.3"/>
<circle cx="98.6" cy="418.5" r="2.3"/>
<circle cx="109.1" cy="412.8" r="2.3"/>
<circle cx="112.2" cy="412.0" r="2.3"/>
<circle cx="103.2" cy="412.7" r="2.3"/>
<circle cx="107.5" cy="410.6" r="2.3"/>
<circle cx="104.8" cy="413.7" r="2.3"/>
<circle cx="108.7" cy="411.3" r="2.3"/>
<circle cx="116.6" cy="418.9" r="2.3"/>
<circle cx="122.8" cy="416.6" r="2.3"/>
<circle cx="119.9" cy="415.8" r="2.3"/>
<circle cx="124.4" cy="410.4" r="2.3"/>
<circle cx="123.2" cy="419.1" r="2.3"/>
<circle cx="130.0" cy="419.6" r="2.3"/>
<circle cx="83.2" cy="426.4" r="2.3"/>
<circle cx="87.8" cy="427.3" r="2.3"/>
<circle cx="86.2" cy="430.0" r="2.3"/>
<circle cx="83.8" cy="425.5" r="2.3"/>
<circle cx="90.4" cy="429.0" r="2.3"/>
<circle cx="90.4" cy="427.0" r="2.3"/>
<circle cx="90.9" cy="429.2" r="2.3"/>
<circle cx="86.5" cy="426.9" r="2.3"/>
<circle cx="92.0" cy="428.7" r="2.3"/>
<circle cx="87.2" cy="427.9" r="2.3"/>
<circle cx="101.6" cy="425.7" r="2.3"/>
<circle cx="99.2" cy="423.8" r="2.3"/>
<circle cx="98.8" cy="426.1" r="2.3"/>
<circle cx="93.8" cy="426.4" r="2.3"/>
<circle cx="102.9" cy="428.8" r="2.3"/>
<circle cx="100.3" cy="423.9" r="2.3"/>
<circle cx="100.4" cy="425.8" r="2.3"/>
<circle cx="97.4" cy="428.4" r="2.3"/>
<circle cx="93.8" cy="427.5" r="2.3"/>
<circle cx="93.3" cy="426.0" r="2.3"/>
<circle cx="97.8" cy="422.3" r="2.3"/>
<circle cx="100.0" cy="425.0" r="2.3"/>
<circle cx="99.1" cy="429.2" r="2.3"/>
<circle cx="105.6" cy="420.1" r="2.3"/>
<circle cx="106.0" cy="426.8" r="2.3"/>
<circle cx="105.0" cy="421.7" r="2.3"/>
<circle cx="122.1" cy="426.6" r="2.3"/>
<circle cx="117.4" cy="428.9" r="2.3"/>
<circle cx="126.3" cy="426.7" r="2.3"/>
<circle cx="125.0" cy="424.3" r="2.3"/>
<circle cx="91.1" cy="439.1" r="2.3"/>
<circle cx="91.8" cy="433.8" r="2.3"/>
<circle cx="88.8" cy="433.2" r="2.3"/>
<circle cx="84.4" cy="435.0" r="2.3"/>
<circle cx="91.4" cy="438.5" r="2.3"/>
<circle cx="90.1" cy="439.5" r="2.3"/>
<circle cx="85.8" cy="431.7" r="2.3"/>
<circle cx="87.5" cy="432.8" r="2.3"/>
<circle cx="85.1" cy="434.1" r="2.3"/>
<circle cx="89.3" cy="434.9" r="2.3"/>
<circle cx="86.2" cy="438.4" r="2.3"/>
<circle cx="92.8" cy="434.5" r="2.3"/>
<circle cx="83.7" cy="430.3" r="2.3"/>
<circle cx="101.7" cy="430.4" r="2.3"/>
<circle cx="100.1" cy="435.7" r="2.3"/>
<circle cx="96.1" cy="437.9" r="2.3"/>
<circle cx="93.2" cy="431.4" r="2.3"/>
<circle cx="97.5" cy="430.2" r="2.3"/>
<circle cx="101.3" cy="432.4" r="2.3"/>
<circle cx="94.4" cy="430.5" r="2.3"/>
<circle cx="99.3" cy="434.5" r="2.3"/>
<circle cx="99.3" cy="436.6" r="2.3"/>
<circle cx="101.1" cy="439.6" r="2.3"/>
<circle cx="99.8" cy="432.0" r="2.3"/>
<circle cx="97.8" cy="431.8" r="2.3"/>
<circle cx="93.1" cy="434.7" r="2.3"/>
<circle cx="110.1" cy="431.8" r="2.3"/>
<circle cx="105.7" cy="433.5" r="2.3"/>
<circle cx="110.0" cy="435.2" r="2.3"/>
<circle cx="109.1" cy="437.6" r="2.3"/>
<circle cx="116.9" cy="437.9" r="2.3"/>
<circle cx="122.1" cy="430.9" r="2.3"/>
<circle cx="122.3" cy="437.2" r="2.3"/>
<circle cx="124.3" cy="434.5" r="2.3"/>
<circle cx="129.3" cy="439.1" r="2.3"/>
<circle cx="86.8" cy="445.7" r="2.3"/>
<circle cx="91.8" cy="448.0" r="2.3"/>
<circle cx="92.4" cy="444.6" r="2.3"/>
<circle cx="89.5" cy="442.0" r="2.3"/>
<circle cx="90.2" cy="448.2" r="2.3"/>
<circle cx="89.4" cy="447.2" r="2.3"/>
<circle cx="85.1" cy="449.0" r="2.3"/>
<circle cx="92.8" cy="449.8" r="2.3"/>
<circle cx="88.4" cy="447.9" r="2.3"/>
<circle cx="86.2" cy="449.1" r="2.3"/>
<circle cx="91.6" cy="443.5" r="2.3"/>
<circle cx="83.8" cy="444.4" r="2.3"/>
<circle cx="88.5" cy="447.7" r="2.3"/>
<circle cx="97.9" cy="440.3" r="2.3"/>
<circle cx="101.1" cy="440.6" r="2.3"/>
<circle cx="101.0" cy="441.7" r="2.3"/>
<circle cx="96.4" cy="447.9" r="2.3"/>
<circle cx="94.4" cy="441.5" r="2.3"/>
<circle cx="98.2" cy="447.2" r="2.3"/>
<circle cx="101.4" cy="446.9" r="2.3"/>
<circle cx="102.5" cy="444.9" r="2.3"/>
<circle cx="102.5" cy="440.9" r="2.3"/>
<circle cx="95.2" cy="445.3" r="2.3"/>
<circle cx="95.9" cy="447.3" r="2.3"/>
<circle cx="99.4" cy="445.2" r="2.3"/>
<circle cx="101.4" cy="445.6" r="2.3"/>
<circle cx="106.1" cy="443.8" r="2.3"/>
<circle cx="111.5" cy="449.0" r="2.3"/>
<circle cx="105.1" cy="448.5" r="2.3"/>
<circle cx="112.7" cy="445.2" r="2.3"/>
<circle cx="118.7" cy="442.0" r="2.3"/>
<circle cx="118.4" cy="445.0" r="2.3"/>
<circle cx="119.1" cy="440.3" r="2.3"/>
<circle cx="132.7" cy="445.2" r="2.3"/>
<circle cx="127.0" cy="448.0" r="2.3"/>
<circle cx="128.6" cy="444.9" r="2.3"/>
<circle cx="89.9" cy="450.7" r="2.3"/>
<circle cx="88.4" cy="454.1" r="2.3"/>
<circle cx="92.6" cy="459.2" r="2.3"/>
<circle cx="85.7" cy="454.7" r="2.3"/>
<circle cx="84.3" cy="454.3" r="2.3"/>
<circle cx="91.2" cy="459.0" r="2.3"/>
<circle cx="87.8" cy="453.2" r="2.3"/>
<circle cx="84.9" cy="456.2" r="2.3"/>
<circle cx="92.3" cy="451.3" r="2.3"/>
<circle cx="90.8" cy="450.2" r="2.3"/>
<circle cx="84.9" cy="452.3" r="2.3"/>
<circle cx="89.9" cy="453.2" r="2.3"/>
<circle cx="86.6" cy="456.2" r="2.3"/>
<circle cx="94.0" cy="457.3" r="2.3"/>
<circle cx="94.2" cy="455.1" r="2.3"/>
<circle cx="95.5" cy="452.0" r="2.3"/>
<circle cx="98.3" cy="454.4" r="2.3"/>
<circle cx="96.8" cy="454.1" r="2.3"/>
<circle cx="98.3" cy="451.6" r="2.3"/>
<circle cx="95.0" cy="456.3" r="2.3"/>
<circle cx="99.4" cy="455.3" r="2.3"/>
<circle cx="101.5" cy="456.1" r="2.3"/>
<circle cx="101.6" cy="452.3" r="2.3"/>
<circle cx="100.4" cy="458.1" r="2.3"/>
<circle cx="102.0" cy="453.2" r="2.3"/>
<circle cx="96.1" cy="459.2" r="2.3"/>
<circle cx="105.2" cy="460.0" r="2.3"/>
<circle cx="111.9" cy="451.3" r="2.3"/>
<circle cx="105.4" cy="457.3" r="2.3"/>
<circle cx="105.6" cy="451.0" r="2.3"/>
<circle cx="121.3" cy="454.2" r="2.3"/>
<circle cx="120.9" cy="451.3" r="2.3"/>
<circle cx="117.0" cy="456.9" r="2.3"/>
<circle cx="123.2" cy="452.0" r="2.3"/>
<circle cx="129.8" cy="459.1" r="2.3"/>
<circle cx="132.7" cy="451.2" r="2.3"/>
<circle cx="177.7" cy="392.3" r="2.3"/>
<circle cx="179.9" cy="393.1" r="2.3"/>
<circle cx="134.8" cy="397.1" r="2.3"/>
<circle cx="141.4" cy="398.4" r="2.3"/>
<circle cx="140.1" cy="401.0" r="2.3"/>
<circle cx="148.0" cy="401.0" r="2.3"/>
<circle cx="154.5" cy="399.3" r="2.3"/>
<circle cx="162.8" cy="397.1" r="2.3"/>
<circle cx="171.6" cy="398.8" r="2.3"/>
<circle cx="177.7" cy="399.3" r="2.3"/>
<circle cx="183.4" cy="397.1" r="2.3"/>
<circle cx="169.8" cy="400.6" r="2.3"/>
<circle cx="159.3" cy="403.2" r="2.3"/>
<circle cx="161.5" cy="405.0" r="2.3"/>
<circle cx="165.9" cy="403.2" r="2.3"/>
<circle cx="179.0" cy="404.5" r="2.3"/>
<circle cx="186.0" cy="406.7" r="2.3"/>
<circle cx="130.9" cy="401.0" r="2.3"/>
<circle cx="131.8" cy="405.4" r="2.3"/>
<circle cx="131.3" cy="411.5" r="2.3"/>
<circle cx="130.4" cy="415.0" r="2.3"/>
<circle cx="143.1" cy="404.5" r="2.3"/>
<circle cx="142.7" cy="407.6" r="2.3"/>
<circle cx="145.8" cy="409.3" r="2.3"/>
<circle cx="148.0" cy="408.0" r="2.3"/>
<circle cx="160.6" cy="410.2" r="2.3"/>
<circle cx="165.9" cy="408.9" r="2.3"/>
<circle cx="168.1" cy="410.2" r="2.3"/>
<circle cx="171.2" cy="407.1" r="2.3"/>
<circle cx="173.8" cy="408.9" r="2.3"/>
<circle cx="172.0" cy="411.1" r="2.3"/>
<circle cx="176.4" cy="410.2" r="2.3"/>
<circle cx="175.5" cy="407.1" r="2.3"/>
<circle cx="189.5" cy="410.6" r="2.3"/>
<circle cx="153.2" cy="415.5" r="2.3"/>
<circle cx="166.3" cy="415.9" r="2.3"/>
<circle cx="137.0" cy="418.1" r="2.3"/>
<circle cx="171.2" cy="419.4" r="2.3"/>
<circle cx="174.7" cy="418.5" r="2.3"/>
<circle cx="179.0" cy="416.8" r="2.3"/>
<circle cx="182.5" cy="419.0" r="2.3"/>
<circle cx="186.9" cy="419.8" r="2.3"/>
<circle cx="161.5" cy="422.0" r="2.3"/>
<circle cx="165.0" cy="422.9" r="2.3"/>
<circle cx="168.5" cy="424.2" r="2.3"/>
<circle cx="175.5" cy="423.8" r="2.3"/>
<circle cx="183.9" cy="425.1" r="2.3"/>
<circle cx="143.1" cy="422.9" r="2.3"/>
<circle cx="140.5" cy="426.0" r="2.3"/>
<circle cx="150.1" cy="424.7" r="2.3"/>
<circle cx="155.4" cy="425.5" r="2.3"/>
<circle cx="154.1" cy="428.6" r="2.3"/>
<circle cx="147.5" cy="428.2" r="2.3"/>
<circle cx="145.3" cy="430.8" r="2.3"/>
<circle cx="143.6" cy="433.9" r="2.3"/>
<circle cx="143.1" cy="437.8" r="2.3"/>
<circle cx="131.8" cy="431.2" r="2.3"/>
<circle cx="176.8" cy="430.8" r="2.3"/>
<circle cx="168.5" cy="433.0" r="2.3"/>
<circle cx="165.9" cy="435.6" r="2.3"/>
<circle cx="175.5" cy="436.0" r="2.3"/>
<circle cx="135.1" cy="447.6" r="2.3"/>
<circle cx="135.0" cy="446.9" r="2.3"/>
<circle cx="131.9" cy="440.7" r="2.3"/>
<circle cx="141.1" cy="440.4" r="2.3"/>
<circle cx="145.5" cy="445.1" r="2.3"/>
<circle cx="155.7" cy="441.5" r="2.3"/>
<circle cx="151.8" cy="442.0" r="2.3"/>
<circle cx="158.4" cy="449.9" r="2.3"/>
<circle cx="169.3" cy="441.0" r="2.3"/>
<circle cx="160.6" cy="449.5" r="2.3"/>
<circle cx="174.6" cy="447.6" r="2.3"/>
<circle cx="173.3" cy="444.7" r="2.3"/>
<circle cx="185.2" cy="444.3" r="2.3"/>
<circle cx="136.0" cy="450.1" r="2.3"/>
<circle cx="137.0" cy="458.4" r="2.3"/>
<circle cx="141.8" cy="454.5" r="2.3"/>
<circle cx="147.4" cy="454.1" r="2.3"/>
<circle cx="142.0" cy="451.7" r="2.3"/>
<circle cx="155.1" cy="450.2" r="2.3"/>
<circle cx="158.9" cy="458.0" r="2.3"/>
<circle cx="167.0" cy="458.6" r="2.3"/>
<circle cx="166.3" cy="454.0" r="2.3"/>
<circle cx="176.0" cy="455.0" r="2.3"/>
<circle cx="179.8" cy="458.0" r="2.3"/>
<circle cx="182.6" cy="459.1" r="2.3"/>
<circle cx="197.4" cy="407.8" r="2.3"/>
<circle cx="198.1" cy="404.1" r="2.3"/>
<circle cx="199.0" cy="408.8" r="2.3"/>
<circle cx="196.9" cy="407.7" r="2.3"/>
<circle cx="197.7" cy="404.1" r="2.3"/>
<circle cx="197.2" cy="400.7" r="2.3"/>
<circle cx="193.4" cy="404.7" r="2.3"/>
<circle cx="190.1" cy="403.6" r="2.3"/>
<circle cx="196.4" cy="406.2" r="2.3"/>
<circle cx="192.3" cy="409.4" r="2.3"/>
<circle cx="206.7" cy="403.4" r="2.3"/>
<circle cx="206.6" cy="405.7" r="2.3"/>
<circle cx="205.3" cy="403.9" r="2.3"/>
<circle cx="210.0" cy="406.4" r="2.3"/>
<circle cx="207.0" cy="407.6" r="2.3"/>
<circle cx="209.8" cy="400.2" r="2.3"/>
<circle cx="206.2" cy="407.4" r="2.3"/>
<circle cx="202.6" cy="404.0" r="2.3"/>
<circle cx="200.5" cy="402.0" r="2.3"/>
<circle cx="203.8" cy="401.0" r="2.3"/>
<circle cx="212.5" cy="409.1" r="2.3"/>
<circle cx="215.5" cy="405.1" r="2.3"/>
<circle cx="219.7" cy="405.7" r="2.3"/>
<circle cx="220.0" cy="406.4" r="2.3"/>
<circle cx="218.1" cy="400.8" r="2.3"/>
<circle cx="216.0" cy="407.6" r="2.3"/>
<circle cx="210.5" cy="409.3" r="2.3"/>
<circle cx="211.6" cy="404.7" r="2.3"/>
<circle cx="211.7" cy="405.0" r="2.3"/>
<circle cx="216.1" cy="400.6" r="2.3"/>
<circle cx="229.5" cy="404.2" r="2.3"/>
<circle cx="225.3" cy="406.0" r="2.3"/>
<circle cx="223.7" cy="402.9" r="2.3"/>
<circle cx="226.6" cy="405.6" r="2.3"/>
<circle cx="222.8" cy="407.2" r="2.3"/>
<circle cx="223.0" cy="400.1" r="2.3"/>
<circle cx="222.5" cy="400.4" r="2.3"/>
<circle cx="221.6" cy="407.5" r="2.3"/>
<circle cx="223.9" cy="409.0" r="2.3"/>
<circle cx="227.5" cy="400.5" r="2.3"/>
<circle cx="239.9" cy="409.4" r="2.3"/>
<circle cx="230.7" cy="409.1" r="2.3"/>
<circle cx="234.3" cy="404.8" r="2.3"/>
<circle cx="239.7" cy="402.4" r="2.3"/>
<circle cx="235.2" cy="409.4" r="2.3"/>
<circle cx="237.2" cy="404.7" r="2.3"/>
<circle cx="239.8" cy="408.2" r="2.3"/>
<circle cx="236.0" cy="401.2" r="2.3"/>
<circle cx="246.2" cy="404.6" r="2.3"/>
<circle cx="242.0" cy="400.5" r="2.3"/>
<circle cx="245.3" cy="401.2" r="2.3"/>
<circle cx="244.4" cy="406.7" r="2.3"/>
<circle cx="244.6" cy="402.6" r="2.3"/>
<circle cx="245.8" cy="404.2" r="2.3"/>
<circle cx="247.8" cy="405.3" r="2.3"/>
<circle cx="250.0" cy="409.5" r="2.3"/>
<circle cx="247.3" cy="402.4" r="2.3"/>
<circle cx="241.1" cy="408.9" r="2.3"/>
<circle cx="197.8" cy="416.2" r="2.3"/>
<circle cx="193.6" cy="412.7" r="2.3"/>
<circle cx="196.9" cy="415.6" r="2.3"/>
<circle cx="195.9" cy="416.3" r="2.3"/>
<circle cx="197.5" cy="411.9" r="2.3"/>
<circle cx="192.5" cy="419.8" r="2.3"/>
<circle cx="199.2" cy="418.8" r="2.3"/>
<circle cx="190.4" cy="410.6" r="2.3"/>
<circle cx="202.7" cy="414.3" r="2.3"/>
<circle cx="206.2" cy="411.0" r="2.3"/>
<circle cx="205.4" cy="410.7" r="2.3"/>
<circle cx="200.9" cy="416.8" r="2.3"/>
<circle cx="205.5" cy="416.3" r="2.3"/>
<circle cx="203.7" cy="414.8" r="2.3"/>
<circle cx="202.1" cy="413.4" r="2.3"/>
<circle cx="207.4" cy="418.4" r="2.3"/>
<circle cx="200.7" cy="411.2" r="2.3"/>
<circle cx="208.1" cy="416.2" r="2.3"/>
<circle cx="217.7" cy="412.1" r="2.3"/>
<circle cx="214.2" cy="412.6" r="2.3"/>
<circle cx="218.1" cy="413.7" r="2.3"/>
<circle cx="216.5" cy="419.9" r="2.3"/>
<circle cx="213.3" cy="415.5" r="2.3"/>
<circle cx="217.5" cy="419.2" r="2.3"/>
<circle cx="214.3" cy="413.7" r="2.3"/>
<circle cx="211.0" cy="418.8" r="2.3"/>
<circle cx="220.8" cy="410.8" r="2.3"/>
<circle cx="225.6" cy="414.8" r="2.3"/>
<circle cx="226.9" cy="413.0" r="2.3"/>
<circle cx="237.8" cy="410.8" r="2.3"/>
<circle cx="232.1" cy="416.6" r="2.3"/>
<circle cx="240.8" cy="413.0" r="2.3"/>
<circle cx="247.2" cy="416.9" r="2.3"/>
<circle cx="242.8" cy="411.4" r="2.3"/>
<circle cx="243.6" cy="417.3" r="2.3"/>
<circle cx="243.7" cy="411.2" r="2.3"/>
<circle cx="247.1" cy="415.7" r="2.3"/>
<circle cx="199.2" cy="429.4" r="2.3"/>
<circle cx="199.1" cy="424.4" r="2.3"/>
<circle cx="198.0" cy="423.0" r="2.3"/>
<circle cx="193.2" cy="424.0" r="2.3"/>
<circle cx="199.3" cy="428.9" r="2.3"/>
<circle cx="192.5" cy="423.6" r="2.3"/>
<circle cx="203.7" cy="423.6" r="2.3"/>
<circle cx="204.0" cy="423.9" r="2.3"/>
<circle cx="201.9" cy="425.6" r="2.3"/>
<circle cx="218.0" cy="425.4" r="2.3"/>
<circle cx="218.4" cy="425.6" r="2.3"/>
<circle cx="221.8" cy="427.6" r="2.3"/>
<circle cx="228.8" cy="422.8" r="2.3"/>
<circle cx="220.2" cy="425.2" r="2.3"/>
<circle cx="245.4" cy="425.7" r="2.3"/>
<circle cx="249.7" cy="426.5" r="2.3"/>
<circle cx="248.0" cy="420.6" r="2.3"/>
<circle cx="245.5" cy="427.9" r="2.3"/>
<circle cx="190.8" cy="430.8" r="2.3"/>
<circle cx="197.4" cy="439.0" r="2.3"/>
<circle cx="190.8" cy="436.3" r="2.3"/>
<circle cx="191.4" cy="437.5" r="2.3"/>
<circle cx="216.5" cy="432.5" r="2.3"/>
<circle cx="212.2" cy="437.7" r="2.3"/>
<circle cx="215.2" cy="437.6" r="2.3"/>
<circle cx="223.9" cy="433.4" r="2.3"/>
<circle cx="229.7" cy="436.7" r="2.3"/>
<circle cx="224.9" cy="435.4" r="2.3"/>
<circle cx="247.2" cy="437.1" r="2.3"/>
<circle cx="249.1" cy="434.1" r="2.3"/>
<circle cx="248.3" cy="436.7" r="2.3"/>
<circle cx="248.5" cy="438.1" r="2.3"/>
<circle cx="248.3" cy="438.9" r="2.3"/>
<circle cx="249.6" cy="436.4" r="2.3"/>
<circle cx="205.8" cy="392.6" r="2.3"/>
<circle cx="197.9" cy="397.0" r="2.3"/>
<circle cx="216.3" cy="396.1" r="2.3"/>
<circle cx="232.0" cy="397.0" r="2.3"/>
<circle cx="239.1" cy="394.3" r="2.3"/>
<circle cx="246.1" cy="391.7" r="2.3"/>
<circle cx="247.8" cy="397.0" r="2.3"/>
<circle cx="192.0" cy="395.0" r="2.3"/>
<circle cx="255.7" cy="380.4" r="2.3"/>
<circle cx="269.7" cy="382.6" r="2.3"/>
<circle cx="253.9" cy="387.0" r="2.3"/>
<circle cx="259.2" cy="388.8" r="2.3"/>
<circle cx="261.4" cy="390.1" r="2.3"/>
<circle cx="256.1" cy="391.8" r="2.3"/>
<circle cx="258.8" cy="391.4" r="2.3"/>
<circle cx="259.2" cy="398.4" r="2.3"/>
<circle cx="280.6" cy="399.3" r="2.3"/>
<circle cx="254.8" cy="401.5" r="2.3"/>
<circle cx="251.3" cy="402.8" r="2.3"/>
<circle cx="250.9" cy="406.3" r="2.3"/>
<circle cx="250.4" cy="408.9" r="2.3"/>
<circle cx="260.1" cy="405.0" r="2.3"/>
<circle cx="261.4" cy="407.1" r="2.3"/>
<circle cx="263.6" cy="407.1" r="2.3"/>
<circle cx="253.5" cy="412.0" r="2.3"/>
<circle cx="250.9" cy="414.6" r="2.3"/>
<circle cx="260.1" cy="415.5" r="2.3"/>
<circle cx="251.8" cy="419.4" r="2.3"/>
<circle cx="264.4" cy="419.8" r="2.3"/>
<circle cx="260.9" cy="422.9" r="2.3"/>
<circle cx="269.3" cy="425.5" r="2.3"/>
<circle cx="277.1" cy="425.5" r="2.3"/>
<circle cx="250.9" cy="424.7" r="2.3"/>
<circle cx="252.6" cy="428.2" r="2.3"/>
<circle cx="256.1" cy="427.3" r="2.3"/>
<circle cx="255.3" cy="431.7" r="2.3"/>
<circle cx="262.3" cy="429.0" r="2.3"/>
<circle cx="263.6" cy="430.8" r="2.3"/>
<circle cx="250.0" cy="434.3" r="2.3"/>
<circle cx="265.8" cy="439.5" r="2.3"/>
<circle cx="246.1" cy="439.5" r="2.3"/>
<circle cx="250.4" cy="442.1" r="2.3"/>
<circle cx="258.3" cy="444.8" r="2.3"/>
<circle cx="265.3" cy="441.3" r="2.3"/>
<circle cx="264.5" cy="445.6" r="2.3"/>
<circle cx="289.0" cy="444.8" r="2.3"/>
<circle cx="252.2" cy="450.0" r="2.3"/>
<circle cx="260.1" cy="452.6" r="2.3"/>
<circle cx="247.8" cy="453.5" r="2.3"/>
<circle cx="250.4" cy="460.5" r="2.3"/>
<circle cx="255.7" cy="463.2" r="2.3"/>
<circle cx="239.1" cy="463.2" r="2.3"/>
<circle cx="242.6" cy="464.0" r="2.3"/>
<circle cx="195.2" cy="454.2" r="2.3"/>
<circle cx="198.0" cy="448.4" r="2.3"/>
<circle cx="194.2" cy="442.9" r="2.3"/>
<circle cx="197.4" cy="459.8" r="2.3"/>
<circle cx="112.0" cy="461.8" r="2.3"/>
<circle cx="116.4" cy="462.6" r="2.3"/>
<circle cx="122.6" cy="463.5" r="2.3"/>
<circle cx="125.2" cy="463.5" r="2.3"/>
<circle cx="130.4" cy="463.5" r="2.3"/>
<circle cx="136.6" cy="461.8" r="2.3"/>
<circle cx="141.8" cy="462.6" r="2.3"/>
<circle cx="150.6" cy="463.2" r="2.3"/>
<circle cx="161.1" cy="464.4" r="2.3"/>
<circle cx="171.6" cy="460.9" r="2.3"/>
<circle cx="139.2" cy="467.9" r="2.3"/>
<circle cx="145.3" cy="467.9" r="2.3"/>
<circle cx="150.6" cy="469.6" r="2.3"/>
<circle cx="157.6" cy="468.8" r="2.3"/>
<circle cx="173.4" cy="470.5" r="2.3"/>
<circle cx="122.6" cy="471.4" r="2.3"/>
<circle cx="127.8" cy="470.5" r="2.3"/>
<circle cx="110.3" cy="470.5" r="2.3"/>
<circle cx="106.8" cy="467.9" r="2.3"/>
<circle cx="138.3" cy="474.0" r="2.3"/>
<circle cx="141.8" cy="477.5" r="2.3"/>
<circle cx="145.3" cy="476.6" r="2.3"/>
<circle cx="156.7" cy="478.4" r="2.3"/>
<circle cx="166.4" cy="485.4" r="2.3"/>
<circle cx="162.9" cy="488.0" r="2.3"/>
<circle cx="157.6" cy="490.7" r="2.3"/>
<circle cx="176.0" cy="482.8" r="2.3"/>
<circle cx="187.4" cy="493.3" r="2.3"/>
<circle cx="148.0" cy="494.2" r="2.3"/>
<circle cx="155.8" cy="499.4" r="2.3"/>
<circle cx="175.1" cy="507.3" r="2.3"/>
<circle cx="174.2" cy="524.0" r="2.3"/>
<circle cx="141.0" cy="519.6" r="2.3"/>
<circle cx="119.9" cy="492.4" r="2.3"/>
<circle cx="112.0" cy="493.3" r="2.3"/>
<circle cx="112.9" cy="502.0" r="2.3"/>
<circle cx="110.3" cy="505.5" r="2.3"/>
<circle cx="112.0" cy="518.7" r="2.3"/>
<circle cx="106.8" cy="530.1" r="2.3"/>
<circle cx="95.9" cy="545.0" r="2.3"/>
<circle cx="90.7" cy="542.0" r="2.3"/>
<circle cx="86.6" cy="530.1" r="2.3"/>
<circle cx="89.3" cy="533.6" r="2.3"/>
<circle cx="84.0" cy="519.6" r="2.3"/>
<circle cx="84.9" cy="523.1" r="2.3"/>
<circle cx="90.1" cy="522.2" r="2.3"/>
<circle cx="104.2" cy="521.3" r="2.3"/>
<circle cx="86.6" cy="567.2" r="2.3"/>
<circle cx="83.1" cy="484.5" r="2.3"/>
<circle cx="85.8" cy="481.0" r="2.3"/>
<circle cx="86.6" cy="493.3" r="2.3"/>
<circle cx="84.9" cy="505.5" r="2.3"/>
<circle cx="86.6" cy="510.8" r="2.3"/>
<circle cx="108.5" cy="481.9" r="2.3"/>
<circle cx="205.8" cy="473.1" r="2.3"/>
<circle cx="207.5" cy="472.3" r="2.3"/>
<circle cx="232.9" cy="466.1" r="2.3"/>
<circle cx="239.1" cy="463.5" r="2.3"/>
<circle cx="241.7" cy="464.4" r="2.3"/>
<circle cx="250.4" cy="460.9" r="2.3"/>
<circle cx="255.7" cy="463.5" r="2.3"/>
<circle cx="247.8" cy="467.9" r="2.3"/>
<circle cx="252.2" cy="476.6" r="2.3"/>
<circle cx="240.8" cy="491.9" r="2.3"/>
<circle cx="234.7" cy="496.8" r="2.3"/>
<circle cx="205.4" cy="492.4" r="2.3"/>
<circle cx="211.9" cy="490.7" r="2.3"/>
<circle cx="200.9" cy="500.0" r="2.3"/>
<circle cx="197.0" cy="502.9" r="2.3"/>
<circle cx="211.0" cy="501.2" r="2.3"/>
<circle cx="196.1" cy="511.7" r="2.3"/>
<circle cx="202.6" cy="519.2" r="2.3"/>
<circle cx="224.2" cy="509.1" r="2.3"/>
<circle cx="228.9" cy="512.2" r="2.3"/>
<circle cx="228.9" cy="546.2" r="2.3"/>
<circle cx="190.0" cy="493.3" r="2.3"/>
<circle cx="93.1" cy="461.7" r="2.3"/>
<circle cx="88.5" cy="464.2" r="2.3"/>
<circle cx="90.9" cy="469.7" r="2.3"/>
<circle cx="84.6" cy="463.1" r="2.3"/>
<circle cx="86.1" cy="466.5" r="2.3"/>
<circle cx="104.0" cy="461.8" r="2.3"/>
<circle cx="84.7" cy="464.6" r="2.3"/>
<circle cx="98.8" cy="469.1" r="2.3"/>
<circle cx="84.0" cy="461.1" r="2.3"/>
<circle cx="88.0" cy="462.2" r="2.3"/>
<circle cx="89.4" cy="467.2" r="2.3"/>
<circle cx="99.1" cy="462.2" r="2.3"/>
<circle cx="88.0" cy="462.8" r="2.3"/>
<circle cx="87.7" cy="467.6" r="2.3"/>
<circle cx="91.4" cy="465.5" r="2.3"/>
<circle cx="105.1" cy="464.8" r="2.3"/>
<circle cx="90.0" cy="468.9" r="2.3"/>
<circle cx="107.7" cy="463.4" r="2.3"/>
<circle cx="97.8" cy="469.6" r="2.3"/>
<circle cx="96.0" cy="462.2" r="2.3"/>
<circle cx="84.3" cy="469.5" r="2.3"/>
<circle cx="104.6" cy="463.8" r="2.3"/>
<circle cx="97.2" cy="465.2" r="2.3"/>
<circle cx="90.4" cy="469.9" r="2.3"/>
<circle cx="100.8" cy="462.4" r="2.3"/>
<circle cx="83.3" cy="464.7" r="2.3"/>
<circle cx="93.0" cy="468.0" r="2.3"/>
<circle cx="102.3" cy="466.1" r="2.3"/>
<circle cx="87.2" cy="461.6" r="2.3"/>
<circle cx="91.7" cy="462.6" r="2.3"/>
<circle cx="89.1" cy="496.8" r="2.3"/>
<circle cx="87.5" cy="521.6" r="2.3"/>
<circle cx="84.9" cy="497.8" r="2.3"/>
<circle cx="84.1" cy="510.1" r="2.3"/>
<circle cx="83.0" cy="512.7" r="2.3"/>
<circle cx="88.9" cy="512.7" r="2.3"/>
<circle cx="83.6" cy="484.0" r="2.3"/>
<circle cx="88.0" cy="475.1" r="2.3"/>
<circle cx="86.4" cy="494.4" r="2.3"/>
<circle cx="89.7" cy="500.5" r="2.3"/>
<circle cx="89.0" cy="485.8" r="2.3"/>
<circle cx="88.5" cy="491.7" r="2.3"/>
<circle cx="89.4" cy="474.7" r="2.3"/>
<circle cx="88.8" cy="480.8" r="2.3"/>
<circle cx="86.8" cy="497.3" r="2.3"/>
<circle cx="84.1" cy="513.3" r="2.3"/>
<circle cx="85.2" cy="486.2" r="2.3"/>
<circle cx="83.5" cy="485.9" r="2.3"/>
<circle cx="86.3" cy="507.2" r="2.3"/>
<circle cx="85.5" cy="505.7" r="2.3"/>
<circle cx="83.7" cy="490.5" r="2.3"/>
<circle cx="86.2" cy="520.3" r="2.3"/>
</g>
<line x1="71.00" y1="454.00" x2="298.60" y2="414.00" stroke="#333" stroke-width="2.6"/>
<circle cx="98.10" cy="464.80" r="4.3" fill="#f00" stroke="#000" stroke-width="1.2"/>
<rect x="89.45" y="469.80" width="17.5" height="50.80" rx="2.5" fill="#fff" stroke="#000" stroke-width="1.2"/>
<text x="102.50" y="495.20" font-size="12" font-weight="bold" text-anchor="middle" fill="#000" transform="rotate(-90 102.50 495.20)">HS746T</text>
<circle cx="185.80" cy="436.60" r="4.3" fill="#f00" stroke="#000" stroke-width="1.2"/>
<rect x="176.75" y="441.20" width="17.5" height="42.10" rx="2.5" fill="#fff" stroke="#000" stroke-width="1.2"/>
<text x="189.80" y="462.25" font-size="12" font-weight="bold" text-anchor="middle" fill="#000" transform="rotate(-90 189.80 462.25)">MKN7</text>
<circle cx="206.80" cy="419.60" r="4.3" fill="#f00" stroke="#000" stroke-width="1.2"/>
<rect x="197.65" y="424.40" width="17.5" height="47.70" rx="2.5" fill="#fff" stroke="#000" stroke-width="1.2"/>
<text x="210.70" y="448.25" font-size="12" font-weight="bold" text-anchor="middle" fill="#000" transform="rotate(-90 210.70 448.25)">MKN74</text>
<circle cx="222.60" cy="449.10" r="4.3" fill="#f00" stroke="#000" stroke-width="1.2"/>
<rect x="213.45" y="454.10" width="17.5" height="49.60" rx="2.5" fill="#fff" stroke="#000" stroke-width="1.2"/>
<text x="226.50" y="478.90" font-size="12" font-weight="bold" text-anchor="middle" fill="#000" transform="rotate(-90 226.50 478.90)">NCIN87</text>
<circle cx="227.80" cy="406.40" r="4.3" fill="#f00" stroke="#000" stroke-width="1.2"/>
<rect x="226.75" y="411.70" width="17.5" height="47.30" rx="2.5" fill="#fff" stroke="#000" stroke-width="1.2"/>
<text x="239.80" y="435.35" font-size="12" font-weight="bold" text-anchor="middle" fill="#000" transform="rotate(-90 239.80 435.35)">MKN45</text>
<g fill="#f2a46f" stroke="#ea9866" stroke-width="0.5">
<circle cx="473.5" cy="359.6" r="2.3"/>
<circle cx="469.8" cy="402.2" r="2.3"/>
<circle cx="426.5" cy="405.7" r="2.3"/>
<circle cx="423.9" cy="409.2" r="2.3"/>
<circle cx="415.1" cy="411.8" r="2.3"/>
<circle cx="419.5" cy="413.6" r="2.3"/>
<circle cx="445.4" cy="407.1" r="2.3"/>
<circle cx="414.3" cy="421.5" r="2.3"/>
<circle cx="437.0" cy="417.4" r="2.3"/>
<circle cx="442.0" cy="427.6" r="2.3"/>
<circle cx="460.2" cy="420.2" r="2.3"/>
<circle cx="458.1" cy="429.0" r="2.3"/>
<circle cx="463.0" cy="427.1" r="2.3"/>
<circle cx="470.7" cy="422.3" r="2.3"/>
<circle cx="475.6" cy="421.5" r="2.3"/>
<circle cx="475.6" cy="432.0" r="2.3"/>
<circle cx="498.4" cy="407.8" r="2.3"/>
<circle cx="510.3" cy="410.4" r="2.3"/>
<circle cx="503.6" cy="414.5" r="2.3"/>
<circle cx="503.3" cy="420.9" r="2.3"/>
<circle cx="487.8" cy="418.8" r="2.3"/>
<circle cx="487.0" cy="421.5" r="2.3"/>
<circle cx="494.0" cy="421.5" r="2.3"/>
<circle cx="496.6" cy="424.1" r="2.3"/>
<circle cx="493.1" cy="427.6" r="2.3"/>
<circle cx="485.6" cy="432.0" r="2.3"/>
<circle cx="521.1" cy="428.5" r="2.3"/>
<circle cx="418.6" cy="438.6" r="2.3"/>
<circle cx="425.7" cy="436.0" r="2.3"/>
<circle cx="437.0" cy="439.5" r="2.3"/>
<circle cx="461.6" cy="437.2" r="2.3"/>
<circle cx="470.3" cy="440.2" r="2.3"/>
<circle cx="469.4" cy="447.2" r="2.3"/>
<circle cx="477.7" cy="450.7" r="2.3"/>
<circle cx="466.0" cy="452.1" r="2.3"/>
<circle cx="471.2" cy="454.8" r="2.3"/>
<circle cx="465.1" cy="456.5" r="2.3"/>
<circle cx="489.6" cy="449.5" r="2.3"/>
<circle cx="496.6" cy="437.2" r="2.3"/>
<circle cx="488.7" cy="438.1" r="2.3"/>
<circle cx="489.6" cy="440.7" r="2.3"/>
<circle cx="493.1" cy="443.4" r="2.3"/>
<circle cx="492.2" cy="446.0" r="2.3"/>
<circle cx="503.6" cy="440.7" r="2.3"/>
<circle cx="506.2" cy="440.7" r="2.3"/>
<circle cx="498.4" cy="443.4" r="2.3"/>
<circle cx="500.1" cy="446.9" r="2.3"/>
<circle cx="502.7" cy="451.2" r="2.3"/>
<circle cx="503.6" cy="453.9" r="2.3"/>
<circle cx="505.4" cy="455.6" r="2.3"/>
<circle cx="510.3" cy="451.2" r="2.3"/>
<circle cx="515.9" cy="434.3" r="2.3"/>
<circle cx="517.6" cy="439.9" r="2.3"/>
<circle cx="521.1" cy="443.4" r="2.3"/>
<circle cx="519.4" cy="449.5" r="2.3"/>
<circle cx="515.9" cy="456.5" r="2.3"/>
<circle cx="521.1" cy="455.6" r="2.3"/>
<circle cx="542.7" cy="397.5" r="2.3"/>
<circle cx="544.4" cy="411.0" r="2.3"/>
<circle cx="552.7" cy="419.7" r="2.3"/>
<circle cx="552.7" cy="426.7" r="2.3"/>
<circle cx="566.7" cy="411.0" r="2.3"/>
<circle cx="571.1" cy="414.5" r="2.3"/>
<circle cx="578.1" cy="411.0" r="2.3"/>
<circle cx="582.4" cy="409.2" r="2.3"/>
<circle cx="586.0" cy="408.3" r="2.3"/>
<circle cx="593.5" cy="413.6" r="2.3"/>
<circle cx="604.3" cy="432.9" r="2.3"/>
<circle cx="576.3" cy="433.7" r="2.3"/>
<circle cx="579.8" cy="437.2" r="2.3"/>
<circle cx="579.8" cy="441.6" r="2.3"/>
<circle cx="583.3" cy="445.1" r="2.3"/>
<circle cx="550.9" cy="434.6" r="2.3"/>
<circle cx="538.6" cy="439.0" r="2.3"/>
<circle cx="531.6" cy="438.1" r="2.3"/>
<circle cx="526.4" cy="440.7" r="2.3"/>
<circle cx="532.5" cy="443.4" r="2.3"/>
<circle cx="539.5" cy="443.4" r="2.3"/>
<circle cx="524.6" cy="446.9" r="2.3"/>
<circle cx="529.0" cy="449.5" r="2.3"/>
<circle cx="524.6" cy="453.9" r="2.3"/>
<circle cx="576.3" cy="456.5" r="2.3"/>
<circle cx="585.1" cy="458.3" r="2.3"/>
<circle cx="545.0" cy="413.4" r="2.3"/>
<circle cx="522.6" cy="434.0" r="2.3"/>
<circle cx="526.4" cy="412.9" r="2.3"/>
<circle cx="537.6" cy="418.3" r="2.3"/>
<circle cx="543.3" cy="415.6" r="2.3"/>
<circle cx="545.0" cy="417.7" r="2.3"/>
<circle cx="536.4" cy="432.4" r="2.3"/>
<circle cx="538.4" cy="432.2" r="2.3"/>
<circle cx="539.0" cy="411.2" r="2.3"/>
<circle cx="543.2" cy="424.1" r="2.3"/>
<circle cx="529.5" cy="414.6" r="2.3"/>
<circle cx="542.4" cy="424.0" r="2.3"/>
<circle cx="544.5" cy="428.6" r="2.3"/>
<circle cx="545.1" cy="423.6" r="2.3"/>
<circle cx="538.8" cy="424.7" r="2.3"/>
<circle cx="528.2" cy="433.0" r="2.3"/>
<circle cx="529.5" cy="428.7" r="2.3"/>
<circle cx="544.9" cy="425.6" r="2.3"/>
<circle cx="525.4" cy="429.8" r="2.3"/>
<circle cx="538.0" cy="414.4" r="2.3"/>
<circle cx="523.2" cy="422.8" r="2.3"/>
<circle cx="522.8" cy="432.2" r="2.3"/>
<circle cx="534.2" cy="422.4" r="2.3"/>
<circle cx="531.8" cy="425.9" r="2.3"/>
<circle cx="544.0" cy="417.4" r="2.3"/>
<circle cx="531.0" cy="424.0" r="2.3"/>
<circle cx="529.1" cy="424.3" r="2.3"/>
<circle cx="535.0" cy="420.4" r="2.3"/>
<circle cx="421.2" cy="445.3" r="2.3"/>
<circle cx="415.4" cy="450.0" r="2.3"/>
<circle cx="418.1" cy="444.3" r="2.3"/>
<circle cx="418.5" cy="449.3" r="2.3"/>
<circle cx="424.0" cy="445.1" r="2.3"/>
<circle cx="418.5" cy="441.0" r="2.3"/>
<circle cx="423.5" cy="441.7" r="2.3"/>
<circle cx="420.0" cy="443.5" r="2.3"/>
<circle cx="427.8" cy="443.6" r="2.3"/>
<circle cx="426.4" cy="440.4" r="2.3"/>
<circle cx="429.9" cy="448.0" r="2.3"/>
<circle cx="431.0" cy="442.0" r="2.3"/>
<circle cx="441.4" cy="440.5" r="2.3"/>
<circle cx="438.6" cy="448.3" r="2.3"/>
<circle cx="453.7" cy="444.6" r="2.3"/>
<circle cx="463.0" cy="445.0" r="2.3"/>
<circle cx="459.7" cy="445.8" r="2.3"/>
<circle cx="464.4" cy="447.4" r="2.3"/>
<circle cx="419.2" cy="457.3" r="2.3"/>
<circle cx="420.9" cy="453.5" r="2.3"/>
<circle cx="422.3" cy="458.2" r="2.3"/>
<circle cx="420.6" cy="459.4" r="2.3"/>
<circle cx="414.7" cy="455.0" r="2.3"/>
<circle cx="420.8" cy="453.4" r="2.3"/>
<circle cx="416.2" cy="456.9" r="2.3"/>
<circle cx="418.8" cy="452.7" r="2.3"/>
<circle cx="414.9" cy="459.7" r="2.3"/>
<circle cx="418.0" cy="451.2" r="2.3"/>
<circle cx="416.7" cy="452.5" r="2.3"/>
<circle cx="423.2" cy="451.8" r="2.3"/>
<circle cx="417.3" cy="451.0" r="2.3"/>
<circle cx="429.2" cy="452.1" r="2.3"/>
<circle cx="427.9" cy="457.3" r="2.3"/>
<circle cx="433.8" cy="458.3" r="2.3"/>
<circle cx="424.9" cy="453.8" r="2.3"/>
<circle cx="433.0" cy="450.3" r="2.3"/>
<circle cx="426.5" cy="454.9" r="2.3"/>
<circle cx="438.3" cy="457.5" r="2.3"/>
<circle cx="441.7" cy="454.6" r="2.3"/>
<circle cx="437.0" cy="452.3" r="2.3"/>
<circle cx="457.2" cy="450.7" r="2.3"/>
<circle cx="461.2" cy="451.6" r="2.3"/>
<circle cx="463.4" cy="456.5" r="2.3"/>
<circle cx="415.1" cy="465.0" r="2.3"/>
<circle cx="420.5" cy="460.4" r="2.3"/>
<circle cx="419.4" cy="460.3" r="2.3"/>
<circle cx="422.2" cy="460.0" r="2.3"/>
<circle cx="420.8" cy="469.9" r="2.3"/>
<circle cx="423.0" cy="462.3" r="2.3"/>
<circle cx="419.8" cy="461.4" r="2.3"/>
<circle cx="417.9" cy="468.6" r="2.3"/>
<circle cx="422.7" cy="460.1" r="2.3"/>
<circle cx="418.3" cy="466.4" r="2.3"/>
<circle cx="416.3" cy="468.0" r="2.3"/>
<circle cx="423.4" cy="465.5" r="2.3"/>
<circle cx="418.1" cy="468.5" r="2.3"/>
<circle cx="429.6" cy="461.9" r="2.3"/>
<circle cx="427.3" cy="461.6" r="2.3"/>
<circle cx="432.9" cy="465.1" r="2.3"/>
<circle cx="431.5" cy="468.2" r="2.3"/>
<circle cx="434.2" cy="461.9" r="2.3"/>
<circle cx="428.6" cy="468.7" r="2.3"/>
<circle cx="442.1" cy="463.9" r="2.3"/>
<circle cx="441.1" cy="461.9" r="2.3"/>
<circle cx="446.1" cy="460.5" r="2.3"/>
<circle cx="458.3" cy="462.4" r="2.3"/>
<circle cx="419.7" cy="479.7" r="2.3"/>
<circle cx="416.0" cy="475.6" r="2.3"/>
<circle cx="423.1" cy="476.0" r="2.3"/>
<circle cx="419.8" cy="477.7" r="2.3"/>
<circle cx="414.7" cy="479.5" r="2.3"/>
<circle cx="421.4" cy="478.1" r="2.3"/>
<circle cx="422.8" cy="471.0" r="2.3"/>
<circle cx="415.2" cy="471.8" r="2.3"/>
<circle cx="419.5" cy="479.4" r="2.3"/>
<circle cx="423.6" cy="474.1" r="2.3"/>
<circle cx="420.7" cy="477.4" r="2.3"/>
<circle cx="417.8" cy="479.7" r="2.3"/>
<circle cx="423.9" cy="477.3" r="2.3"/>
<circle cx="433.5" cy="478.0" r="2.3"/>
<circle cx="431.0" cy="473.2" r="2.3"/>
<circle cx="427.3" cy="472.4" r="2.3"/>
<circle cx="425.1" cy="479.3" r="2.3"/>
<circle cx="427.5" cy="470.2" r="2.3"/>
<circle cx="427.7" cy="471.0" r="2.3"/>
<circle cx="439.0" cy="473.3" r="2.3"/>
<circle cx="436.3" cy="474.8" r="2.3"/>
<circle cx="438.6" cy="473.5" r="2.3"/>
<circle cx="442.6" cy="473.1" r="2.3"/>
<circle cx="449.9" cy="478.8" r="2.3"/>
<circle cx="464.1" cy="473.7" r="2.3"/>
<circle cx="454.9" cy="479.5" r="2.3"/>
<circle cx="459.6" cy="472.2" r="2.3"/>
<circle cx="415.8" cy="482.4" r="2.3"/>
<circle cx="417.6" cy="481.4" r="2.3"/>
<circle cx="415.0" cy="489.9" r="2.3"/>
<circle cx="422.7" cy="481.1" r="2.3"/>
<circle cx="419.3" cy="488.0" r="2.3"/>
<circle cx="419.5" cy="480.7" r="2.3"/>
<circle cx="417.9" cy="483.8" r="2.3"/>
<circle cx="423.6" cy="485.8" r="2.3"/>
<circle cx="419.1" cy="486.3" r="2.3"/>
<circle cx="415.0" cy="486.9" r="2.3"/>
<circle cx="422.6" cy="486.7" r="2.3"/>
<circle cx="418.1" cy="482.9" r="2.3"/>
<circle cx="414.6" cy="480.8" r="2.3"/>
<circle cx="426.0" cy="484.5" r="2.3"/>
<circle cx="432.3" cy="482.2" r="2.3"/>
<circle cx="429.2" cy="486.4" r="2.3"/>
<circle cx="430.8" cy="480.2" r="2.3"/>
<circle cx="433.7" cy="485.9" r="2.3"/>
<circle cx="427.5" cy="482.4" r="2.3"/>
<circle cx="441.4" cy="489.3" r="2.3"/>
<circle cx="437.9" cy="484.0" r="2.3"/>
<circle cx="440.1" cy="481.7" r="2.3"/>
<circle cx="448.6" cy="489.2" r="2.3"/>
<circle cx="450.1" cy="488.2" r="2.3"/>
<circle cx="457.1" cy="488.7" r="2.3"/>
<circle cx="462.3" cy="482.3" r="2.3"/>
<circle cx="459.8" cy="486.8" r="2.3"/>
<circle cx="420.2" cy="496.0" r="2.3"/>
<circle cx="416.9" cy="495.5" r="2.3"/>
<circle cx="418.0" cy="498.0" r="2.3"/>
<circle cx="418.2" cy="499.8" r="2.3"/>
<circle cx="420.3" cy="492.3" r="2.3"/>
<circle cx="418.7" cy="491.3" r="2.3"/>
<circle cx="421.9" cy="490.5" r="2.3"/>
<circle cx="420.5" cy="493.1" r="2.3"/>
<circle cx="422.3" cy="491.3" r="2.3"/>
<circle cx="421.3" cy="497.1" r="2.3"/>
<circle cx="426.8" cy="491.3" r="2.3"/>
<circle cx="428.2" cy="496.5" r="2.3"/>
<circle cx="427.1" cy="490.1" r="2.3"/>
<circle cx="428.9" cy="498.1" r="2.3"/>
<circle cx="436.1" cy="499.4" r="2.3"/>
<circle cx="439.6" cy="491.6" r="2.3"/>
<circle cx="445.5" cy="493.7" r="2.3"/>
<circle cx="449.3" cy="491.8" r="2.3"/>
<circle cx="455.3" cy="495.0" r="2.3"/>
<circle cx="464.5" cy="464.4" r="2.3"/>
<circle cx="466.5" cy="467.0" r="2.3"/>
<circle cx="467.8" cy="462.3" r="2.3"/>
<circle cx="473.8" cy="468.6" r="2.3"/>
<circle cx="472.5" cy="461.2" r="2.3"/>
<circle cx="472.7" cy="468.3" r="2.3"/>
<circle cx="487.4" cy="469.2" r="2.3"/>
<circle cx="498.3" cy="463.4" r="2.3"/>
<circle cx="496.3" cy="467.3" r="2.3"/>
<circle cx="504.3" cy="468.0" r="2.3"/>
<circle cx="506.1" cy="460.4" r="2.3"/>
<circle cx="515.4" cy="465.6" r="2.3"/>
<circle cx="513.5" cy="469.1" r="2.3"/>
<circle cx="521.3" cy="465.1" r="2.3"/>
<circle cx="471.0" cy="476.9" r="2.3"/>
<circle cx="467.4" cy="471.6" r="2.3"/>
<circle cx="481.5" cy="479.2" r="2.3"/>
<circle cx="476.5" cy="473.8" r="2.3"/>
<circle cx="472.7" cy="476.2" r="2.3"/>
<circle cx="490.5" cy="473.9" r="2.3"/>
<circle cx="484.9" cy="476.1" r="2.3"/>
<circle cx="499.9" cy="471.7" r="2.3"/>
<circle cx="494.8" cy="476.4" r="2.3"/>
<circle cx="502.4" cy="478.2" r="2.3"/>
<circle cx="515.2" cy="478.3" r="2.3"/>
<circle cx="516.5" cy="471.7" r="2.3"/>
<circle cx="512.2" cy="471.1" r="2.3"/>
<circle cx="464.6" cy="487.6" r="2.3"/>
<circle cx="469.9" cy="486.3" r="2.3"/>
<circle cx="475.1" cy="486.6" r="2.3"/>
<circle cx="479.3" cy="483.7" r="2.3"/>
<circle cx="482.8" cy="484.7" r="2.3"/>
<circle cx="484.2" cy="481.9" r="2.3"/>
<circle cx="495.9" cy="480.7" r="2.3"/>
<circle cx="501.0" cy="482.8" r="2.3"/>
<circle cx="511.0" cy="487.4" r="2.3"/>
<circle cx="502.1" cy="489.0" r="2.3"/>
<circle cx="520.1" cy="485.3" r="2.3"/>
<circle cx="470.8" cy="494.8" r="2.3"/>
<circle cx="462.3" cy="491.5" r="2.3"/>
<circle cx="475.1" cy="498.6" r="2.3"/>
<circle cx="480.3" cy="491.2" r="2.3"/>
<circle cx="485.5" cy="491.1" r="2.3"/>
<circle cx="494.3" cy="493.5" r="2.3"/>
<circle cx="496.1" cy="491.5" r="2.3"/>
<circle cx="508.6" cy="492.4" r="2.3"/>
<circle cx="520.9" cy="494.8" r="2.3"/>
<circle cx="466.3" cy="507.7" r="2.3"/>
<circle cx="465.4" cy="502.6" r="2.3"/>
<circle cx="463.2" cy="502.9" r="2.3"/>
<circle cx="474.3" cy="507.4" r="2.3"/>
<circle cx="475.5" cy="507.1" r="2.3"/>
<circle cx="474.8" cy="500.7" r="2.3"/>
<circle cx="485.0" cy="503.9" r="2.3"/>
<circle cx="491.1" cy="502.0" r="2.3"/>
<circle cx="494.1" cy="501.6" r="2.3"/>
<circle cx="494.5" cy="509.6" r="2.3"/>
<circle cx="471.3" cy="512.3" r="2.3"/>
<circle cx="462.5" cy="514.9" r="2.3"/>
<circle cx="467.8" cy="511.1" r="2.3"/>
<circle cx="476.2" cy="517.7" r="2.3"/>
<circle cx="472.0" cy="517.2" r="2.3"/>
<circle cx="488.8" cy="517.9" r="2.3"/>
<circle cx="486.9" cy="514.6" r="2.3"/>
<circle cx="497.2" cy="511.4" r="2.3"/>
<circle cx="467.1" cy="522.4" r="2.3"/>
<circle cx="485.2" cy="520.4" r="2.3"/>
<circle cx="483.6" cy="520.6" r="2.3"/>
<circle cx="467.4" cy="532.4" r="2.3"/>
<circle cx="477.6" cy="535.0" r="2.3"/>
<circle cx="474.3" cy="531.3" r="2.3"/>
<circle cx="488.0" cy="536.8" r="2.3"/>
<circle cx="498.9" cy="535.1" r="2.3"/>
<circle cx="507.8" cy="530.2" r="2.3"/>
<circle cx="475.1" cy="548.0" r="2.3"/>
<circle cx="475.8" cy="541.0" r="2.3"/>
<circle cx="486.2" cy="548.3" r="2.3"/>
<circle cx="503.0" cy="541.1" r="2.3"/>
<circle cx="507.0" cy="548.7" r="2.3"/>
<circle cx="439.7" cy="501.8" r="2.3"/>
<circle cx="444.0" cy="504.8" r="2.3"/>
<circle cx="447.5" cy="509.6" r="2.3"/>
<circle cx="449.7" cy="501.8" r="2.3"/>
<circle cx="454.5" cy="505.3" r="2.3"/>
<circle cx="458.9" cy="507.0" r="2.3"/>
<circle cx="456.3" cy="511.4" r="2.3"/>
<circle cx="461.5" cy="513.1" r="2.3"/>
<circle cx="440.5" cy="515.8" r="2.3"/>
<circle cx="443.2" cy="514.0" r="2.3"/>
<circle cx="447.5" cy="518.8" r="2.3"/>
<circle cx="452.4" cy="516.2" r="2.3"/>
<circle cx="439.7" cy="521.0" r="2.3"/>
<circle cx="441.8" cy="523.6" r="2.3"/>
<circle cx="451.0" cy="522.8" r="2.3"/>
<circle cx="449.3" cy="529.3" r="2.3"/>
<circle cx="454.5" cy="530.2" r="2.3"/>
<circle cx="442.3" cy="532.0" r="2.3"/>
<circle cx="438.3" cy="528.9" r="2.3"/>
<circle cx="444.5" cy="539.0" r="2.3"/>
<circle cx="438.8" cy="545.5" r="2.3"/>
<circle cx="445.8" cy="548.2" r="2.3"/>
<circle cx="453.7" cy="546.0" r="2.3"/>
<circle cx="441.4" cy="556.9" r="2.3"/>
<circle cx="425.6" cy="553.4" r="2.3"/>
<circle cx="430.9" cy="553.9" r="2.3"/>
<circle cx="423.9" cy="557.8" r="2.3"/>
<circle cx="425.2" cy="562.2" r="2.3"/>
<circle cx="416.0" cy="560.4" r="2.3"/>
<circle cx="416.9" cy="564.4" r="2.3"/>
<circle cx="413.4" cy="552.5" r="2.3"/>
<circle cx="419.5" cy="554.3" r="2.3"/>
<circle cx="412.5" cy="542.9" r="2.3"/>
<circle cx="415.1" cy="512.9" r="2.3"/>
<circle cx="418.1" cy="504.9" r="2.3"/>
<circle cx="414.4" cy="531.1" r="2.3"/>
<circle cx="418.8" cy="544.8" r="2.3"/>
<circle cx="414.6" cy="513.8" r="2.3"/>
<circle cx="414.9" cy="506.3" r="2.3"/>
<circle cx="414.2" cy="539.9" r="2.3"/>
<circle cx="419.8" cy="514.1" r="2.3"/>
<circle cx="412.6" cy="538.5" r="2.3"/>
<circle cx="419.7" cy="541.3" r="2.3"/>
<circle cx="415.3" cy="538.7" r="2.3"/>
<circle cx="418.1" cy="538.7" r="2.3"/>
<circle cx="415.9" cy="551.9" r="2.3"/>
<circle cx="418.2" cy="512.2" r="2.3"/>
<circle cx="415.4" cy="504.6" r="2.3"/>
<circle cx="415.0" cy="542.5" r="2.3"/>
<circle cx="415.9" cy="527.3" r="2.3"/>
<circle cx="418.2" cy="504.5" r="2.3"/>
<circle cx="414.8" cy="525.1" r="2.3"/>
<circle cx="416.0" cy="535.6" r="2.3"/>
<circle cx="419.5" cy="541.7" r="2.3"/>
<circle cx="416.4" cy="535.6" r="2.3"/>
<circle cx="416.3" cy="551.3" r="2.3"/>
<circle cx="416.8" cy="530.9" r="2.3"/>
<circle cx="415.2" cy="521.8" r="2.3"/>
<circle cx="418.1" cy="519.4" r="2.3"/>
<circle cx="419.2" cy="537.8" r="2.3"/>
<circle cx="419.6" cy="536.7" r="2.3"/>
<circle cx="416.6" cy="519.1" r="2.3"/>
<circle cx="412.1" cy="534.4" r="2.3"/>
<circle cx="418.0" cy="537.6" r="2.3"/>
<circle cx="418.1" cy="501.9" r="2.3"/>
<circle cx="417.5" cy="514.5" r="2.3"/>
<circle cx="415.1" cy="545.2" r="2.3"/>
<circle cx="415.2" cy="524.3" r="2.3"/>
<circle cx="412.4" cy="509.4" r="2.3"/>
<circle cx="422.6" cy="511.2" r="2.3"/>
<circle cx="427.9" cy="502.5" r="2.3"/>
<circle cx="420.5" cy="504.5" r="2.3"/>
<circle cx="431.5" cy="550.5" r="2.3"/>
<circle cx="431.8" cy="526.8" r="2.3"/>
<circle cx="421.2" cy="540.8" r="2.3"/>
<circle cx="421.2" cy="504.0" r="2.3"/>
<circle cx="427.7" cy="544.8" r="2.3"/>
<circle cx="424.3" cy="544.9" r="2.3"/>
<circle cx="424.6" cy="550.3" r="2.3"/>
<circle cx="431.6" cy="545.0" r="2.3"/>
<circle cx="435.7" cy="542.5" r="2.3"/>
<circle cx="422.3" cy="526.8" r="2.3"/>
<circle cx="428.3" cy="537.6" r="2.3"/>
<circle cx="422.9" cy="530.0" r="2.3"/>
<circle cx="423.8" cy="509.6" r="2.3"/>
<circle cx="426.6" cy="541.8" r="2.3"/>
<circle cx="428.4" cy="518.4" r="2.3"/>
<circle cx="422.8" cy="518.7" r="2.3"/>
<circle cx="425.8" cy="514.1" r="2.3"/>
<circle cx="424.3" cy="511.8" r="2.3"/>
<circle cx="424.0" cy="535.0" r="2.3"/>
<circle cx="429.6" cy="532.6" r="2.3"/>
<circle cx="434.7" cy="534.6" r="2.3"/>
<circle cx="421.2" cy="521.0" r="2.3"/>
<circle cx="427.9" cy="538.8" r="2.3"/>
<circle cx="428.0" cy="504.8" r="2.3"/>
<circle cx="427.1" cy="534.1" r="2.3"/>
<circle cx="432.3" cy="523.2" r="2.3"/>
<circle cx="422.6" cy="501.8" r="2.3"/>
<circle cx="584.2" cy="463.5" r="2.3"/>
<circle cx="589.4" cy="467.0" r="2.3"/>
<circle cx="579.8" cy="467.9" r="2.3"/>
<circle cx="583.3" cy="469.6" r="2.3"/>
<circle cx="572.8" cy="470.5" r="2.3"/>
<circle cx="578.1" cy="474.0" r="2.3"/>
<circle cx="581.6" cy="472.3" r="2.3"/>
<circle cx="586.8" cy="476.6" r="2.3"/>
<circle cx="583.3" cy="479.3" r="2.3"/>
<circle cx="584.2" cy="482.8" r="2.3"/>
<circle cx="593.0" cy="481.9" r="2.3"/>
<circle cx="600.8" cy="481.9" r="2.3"/>
<circle cx="611.7" cy="477.5" r="2.3"/>
<circle cx="571.9" cy="481.0" r="2.3"/>
<circle cx="565.8" cy="482.8" r="2.3"/>
<circle cx="574.6" cy="486.3" r="2.3"/>
<circle cx="571.9" cy="487.2" r="2.3"/>
<circle cx="576.3" cy="491.5" r="2.3"/>
<circle cx="579.8" cy="492.4" r="2.3"/>
<circle cx="586.8" cy="494.2" r="2.3"/>
<circle cx="588.6" cy="499.4" r="2.3"/>
<circle cx="572.8" cy="499.4" r="2.3"/>
<circle cx="565.8" cy="494.2" r="2.3"/>
<circle cx="564.0" cy="497.7" r="2.3"/>
<circle cx="564.9" cy="502.0" r="2.3"/>
<circle cx="557.0" cy="498.5" r="2.3"/>
<circle cx="558.8" cy="503.8" r="2.3"/>
<circle cx="550.0" cy="501.2" r="2.3"/>
<circle cx="545.7" cy="503.8" r="2.3"/>
<circle cx="550.0" cy="508.2" r="2.3"/>
<circle cx="566.7" cy="506.4" r="2.3"/>
<circle cx="569.3" cy="510.8" r="2.3"/>
<circle cx="574.6" cy="510.8" r="2.3"/>
<circle cx="578.1" cy="509.1" r="2.3"/>
<circle cx="576.3" cy="512.6" r="2.3"/>
<circle cx="584.2" cy="503.8" r="2.3"/>
<circle cx="587.7" cy="507.3" r="2.3"/>
<circle cx="578.1" cy="504.7" r="2.3"/>
<circle cx="562.3" cy="470.5" r="2.3"/>
<circle cx="566.7" cy="474.0" r="2.3"/>
<circle cx="566.7" cy="476.6" r="2.3"/>
<circle cx="559.7" cy="484.5" r="2.3"/>
<circle cx="558.8" cy="477.5" r="2.3"/>
<circle cx="557.9" cy="491.5" r="2.3"/>
<circle cx="555.3" cy="511.7" r="2.3"/>
<circle cx="558.8" cy="512.6" r="2.3"/>
<circle cx="546.5" cy="512.6" r="2.3"/>
<circle cx="543.0" cy="516.1" r="2.3"/>
<circle cx="539.5" cy="512.6" r="2.3"/>
<circle cx="532.5" cy="515.2" r="2.3"/>
<circle cx="535.1" cy="518.7" r="2.3"/>
<circle cx="537.4" cy="523.1" r="2.3"/>
<circle cx="527.3" cy="526.6" r="2.3"/>
<circle cx="522.0" cy="525.7" r="2.3"/>
<circle cx="571.9" cy="520.4" r="2.3"/>
<circle cx="555.8" cy="525.2" r="2.3"/>
<circle cx="533.4" cy="532.7" r="2.3"/>
<circle cx="537.4" cy="536.2" r="2.3"/>
<circle cx="543.9" cy="539.7" r="2.3"/>
<circle cx="549.7" cy="538.8" r="2.3"/>
<circle cx="522.9" cy="541.5" r="2.3"/>
<circle cx="537.8" cy="544.4" r="2.3"/>
<circle cx="528.7" cy="548.5" r="2.3"/>
<circle cx="565.4" cy="545.0" r="2.3"/>
<circle cx="554.1" cy="563.4" r="2.3"/>
<circle cx="574.2" cy="567.7" r="2.3"/>
<circle cx="541.1" cy="490.5" r="2.3"/>
<circle cx="526.2" cy="481.9" r="2.3"/>
<circle cx="544.7" cy="483.3" r="2.3"/>
<circle cx="530.8" cy="465.5" r="2.3"/>
<circle cx="522.8" cy="473.6" r="2.3"/>
<circle cx="556.1" cy="477.9" r="2.3"/>
<circle cx="559.5" cy="493.3" r="2.3"/>
<circle cx="544.2" cy="478.7" r="2.3"/>
<circle cx="543.4" cy="493.9" r="2.3"/>
<circle cx="534.7" cy="467.9" r="2.3"/>
<circle cx="556.2" cy="486.0" r="2.3"/>
<circle cx="536.4" cy="477.2" r="2.3"/>
<circle cx="525.8" cy="483.6" r="2.3"/>
<circle cx="551.9" cy="480.9" r="2.3"/>
<circle cx="548.5" cy="490.1" r="2.3"/>
<circle cx="534.6" cy="486.2" r="2.3"/>
<circle cx="558.9" cy="489.2" r="2.3"/>
<circle cx="529.0" cy="487.2" r="2.3"/>
<circle cx="546.5" cy="491.5" r="2.3"/>
<circle cx="548.7" cy="496.7" r="2.3"/>
<circle cx="559.1" cy="470.0" r="2.3"/>
<circle cx="540.2" cy="463.7" r="2.3"/>
<circle cx="559.5" cy="466.1" r="2.3"/>
<circle cx="538.2" cy="485.4" r="2.3"/>
<circle cx="538.3" cy="468.5" r="2.3"/>
<circle cx="483.2" cy="506.1" r="2.3"/>
<circle cx="482.2" cy="528.2" r="2.3"/>
<circle cx="466.1" cy="516.1" r="2.3"/>
<circle cx="494.1" cy="519.9" r="2.3"/>
<circle cx="508.3" cy="536.1" r="2.3"/>
<circle cx="522.2" cy="503.4" r="2.3"/>
<circle cx="481.5" cy="501.3" r="2.3"/>
<circle cx="499.7" cy="513.8" r="2.3"/>
<circle cx="512.4" cy="517.8" r="2.3"/>
<circle cx="508.1" cy="497.4" r="2.3"/>
<circle cx="492.5" cy="514.6" r="2.3"/>
<circle cx="511.0" cy="500.6" r="2.3"/>
<circle cx="448.5" cy="526.9" r="2.3"/>
<circle cx="468.4" cy="515.6" r="2.3"/>
<circle cx="474.9" cy="540.3" r="2.3"/>
<circle cx="493.4" cy="533.5" r="2.3"/>
</g>
<line x1="402.60" y1="501.20" x2="622.20" y2="450.80" stroke="#333" stroke-width="2.6"/>
<circle cx="427.40" cy="494.20" r="4.3" fill="#f00" stroke="#000" stroke-width="1.2"/>
<rect x="418.65" y="500.30" width="17.5" height="51.70" rx="2.5" fill="#fff" stroke="#000" stroke-width="1.2"/>
<text x="431.70" y="526.15" font-size="12" font-weight="bold" text-anchor="middle" fill="#000" transform="rotate(-90 431.70 526.15)">HS746T</text>
<circle cx="512.00" cy="487.20" r="4.3" fill="#f00" stroke="#000" stroke-width="1.2"/>
<rect x="503.45" y="492.90" width="17.5" height="41.60" rx="2.5" fill="#fff" stroke="#000" stroke-width="1.2"/>
<text x="516.50" y="513.70" font-size="12" font-weight="bold" text-anchor="middle" fill="#000" transform="rotate(-90 516.50 513.70)">MKN7</text>
<circle cx="532.50" cy="455.30" r="4.3" fill="#f00" stroke="#000" stroke-width="1.2"/>
<rect x="523.75" y="461.80" width="17.5" height="47.20" rx="2.5" fill="#fff" stroke="#000" stroke-width="1.2"/>
<text x="536.80" y="485.40" font-size="12" font-weight="bold" text-anchor="middle" fill="#000" transform="rotate(-90 536.80 485.40)">MKN74</text>
<circle cx="547.80" cy="441.30" r="4.3" fill="#f00" stroke="#000" stroke-width="1.2"/>
<rect x="540.45" y="447.20" width="17.5" height="50.50" rx="2.5" fill="#fff" stroke="#000" stroke-width="1.2"/>
<text x="553.50" y="472.45" font-size="12" font-weight="bold" text-anchor="middle" fill="#000" transform="rotate(-90 553.50 472.45)">NCIN87</text>
<circle cx="553.50" cy="411.50" r="4.3" fill="#f00" stroke="#000" stroke-width="1.2"/>
<rect x="556.65" y="417.00" width="17.5" height="48.30" rx="2.5" fill="#fff" stroke="#000" stroke-width="1.2"/>
<text x="569.70" y="441.15" font-size="12" font-weight="bold" text-anchor="middle" fill="#000" transform="rotate(-90 569.70 441.15)">MKN45</text>
<g fill="#3f8562" stroke="#377a58" stroke-width="0.5">
<circle cx="99.2" cy="694.0" r="2.3"/>
<circle cx="98.3" cy="713.3" r="2.3"/>
<circle cx="100.9" cy="711.5" r="2.3"/>
<circle cx="88.6" cy="720.6" r="2.3"/>
<circle cx="99.7" cy="722.0" r="2.3"/>
<circle cx="83.4" cy="728.7" r="2.3"/>
<circle cx="86.9" cy="728.2" r="2.3"/>
<circle cx="94.8" cy="730.8" r="2.3"/>
<circle cx="116.7" cy="732.6" r="2.3"/>
<circle cx="128.9" cy="736.9" r="2.3"/>
<circle cx="184.1" cy="731.7" r="2.3"/>
<circle cx="191.1" cy="730.8" r="2.3"/>
<circle cx="189.4" cy="737.8" r="2.3"/>
<circle cx="171.5" cy="737.8" r="2.3"/>
<circle cx="107.9" cy="740.4" r="2.3"/>
<circle cx="122.8" cy="742.2" r="2.3"/>
<circle cx="120.2" cy="744.8" r="2.3"/>
<circle cx="132.4" cy="746.2" r="2.3"/>
<circle cx="128.1" cy="750.1" r="2.3"/>
<circle cx="124.6" cy="753.6" r="2.3"/>
<circle cx="112.3" cy="744.8" r="2.3"/>
<circle cx="114.0" cy="751.8" r="2.3"/>
<circle cx="117.5" cy="755.3" r="2.3"/>
<circle cx="139.4" cy="751.8" r="2.3"/>
<circle cx="144.7" cy="751.0" r="2.3"/>
<circle cx="137.7" cy="755.7" r="2.3"/>
<circle cx="147.3" cy="757.1" r="2.3"/>
<circle cx="159.6" cy="751.8" r="2.3"/>
<circle cx="162.2" cy="751.0" r="2.3"/>
<circle cx="171.0" cy="749.2" r="2.3"/>
<circle cx="171.9" cy="755.3" r="2.3"/>
<circle cx="177.1" cy="757.1" r="2.3"/>
<circle cx="183.2" cy="760.9" r="2.3"/>
<circle cx="157.8" cy="760.6" r="2.3"/>
<circle cx="190.3" cy="767.6" r="2.3"/>
<circle cx="88.7" cy="743.4" r="2.3"/>
<circle cx="91.2" cy="737.0" r="2.3"/>
<circle cx="89.5" cy="748.0" r="2.3"/>
<circle cx="92.1" cy="735.4" r="2.3"/>
<circle cx="89.5" cy="743.1" r="2.3"/>
<circle cx="88.0" cy="749.4" r="2.3"/>
<circle cx="88.3" cy="740.0" r="2.3"/>
<circle cx="92.4" cy="743.4" r="2.3"/>
<circle cx="86.0" cy="737.6" r="2.3"/>
<circle cx="88.0" cy="732.9" r="2.3"/>
<circle cx="89.1" cy="745.2" r="2.3"/>
<circle cx="87.3" cy="747.2" r="2.3"/>
<circle cx="92.3" cy="742.0" r="2.3"/>
<circle cx="89.8" cy="734.1" r="2.3"/>
<circle cx="83.6" cy="749.6" r="2.3"/>
<circle cx="85.8" cy="735.8" r="2.3"/>
<circle cx="92.0" cy="745.5" r="2.3"/>
<circle cx="84.2" cy="737.8" r="2.3"/>
<circle cx="85.4" cy="736.9" r="2.3"/>
<circle cx="83.1" cy="741.4" r="2.3"/>
<circle cx="86.0" cy="739.1" r="2.3"/>
<circle cx="84.9" cy="734.0" r="2.3"/>
<circle cx="92.6" cy="748.1" r="2.3"/>
<circle cx="105.5" cy="743.4" r="2.3"/>
<circle cx="94.2" cy="737.2" r="2.3"/>
<circle cx="94.2" cy="739.7" r="2.3"/>
<circle cx="93.0" cy="739.1" r="2.3"/>
<circle cx="95.7" cy="737.9" r="2.3"/>
<circle cx="103.8" cy="741.9" r="2.3"/>
<circle cx="100.5" cy="740.4" r="2.3"/>
<circle cx="101.7" cy="746.8" r="2.3"/>
<circle cx="97.5" cy="736.1" r="2.3"/>
<circle cx="88.8" cy="753.8" r="2.3"/>
<circle cx="91.8" cy="751.1" r="2.3"/>
<circle cx="92.7" cy="750.1" r="2.3"/>
<circle cx="89.4" cy="754.4" r="2.3"/>
<circle cx="87.2" cy="758.9" r="2.3"/>
<circle cx="91.0" cy="751.6" r="2.3"/>
<circle cx="88.9" cy="756.1" r="2.3"/>
<circle cx="84.3" cy="750.9" r="2.3"/>
<circle cx="90.0" cy="757.3" r="2.3"/>
<circle cx="88.6" cy="754.2" r="2.3"/>
<circle cx="89.1" cy="752.6" r="2.3"/>
<circle cx="92.8" cy="759.6" r="2.3"/>
<circle cx="88.8" cy="750.2" r="2.3"/>
<circle cx="108.0" cy="758.0" r="2.3"/>
<circle cx="107.2" cy="751.1" r="2.3"/>
<circle cx="115.9" cy="757.1" r="2.3"/>
<circle cx="120.2" cy="752.9" r="2.3"/>
<circle cx="120.2" cy="757.6" r="2.3"/>
<circle cx="123.7" cy="758.3" r="2.3"/>
<circle cx="128.3" cy="758.1" r="2.3"/>
<circle cx="133.3" cy="758.7" r="2.3"/>
<circle cx="131.5" cy="755.9" r="2.3"/>
<circle cx="129.1" cy="758.5" r="2.3"/>
<circle cx="140.3" cy="757.2" r="2.3"/>
<circle cx="136.3" cy="750.9" r="2.3"/>
<circle cx="136.7" cy="755.8" r="2.3"/>
<circle cx="149.7" cy="752.0" r="2.3"/>
<circle cx="145.9" cy="759.5" r="2.3"/>
<circle cx="144.7" cy="759.3" r="2.3"/>
<circle cx="161.7" cy="755.7" r="2.3"/>
<circle cx="164.0" cy="756.8" r="2.3"/>
<circle cx="164.1" cy="759.4" r="2.3"/>
<circle cx="178.1" cy="759.2" r="2.3"/>
<circle cx="182.1" cy="751.4" r="2.3"/>
<circle cx="174.4" cy="750.2" r="2.3"/>
<circle cx="191.8" cy="757.9" r="2.3"/>
<circle cx="186.3" cy="751.1" r="2.3"/>
<circle cx="87.7" cy="768.0" r="2.3"/>
<circle cx="91.4" cy="768.7" r="2.3"/>
<circle cx="93.7" cy="767.5" r="2.3"/>
<circle cx="92.4" cy="760.2" r="2.3"/>
<circle cx="84.1" cy="768.6" r="2.3"/>
<circle cx="90.2" cy="763.3" r="2.3"/>
<circle cx="85.3" cy="763.3" r="2.3"/>
<circle cx="87.4" cy="765.0" r="2.3"/>
<circle cx="88.5" cy="762.0" r="2.3"/>
<circle cx="84.8" cy="762.0" r="2.3"/>
<circle cx="85.3" cy="761.0" r="2.3"/>
<circle cx="88.1" cy="761.3" r="2.3"/>
<circle cx="92.0" cy="765.4" r="2.3"/>
<circle cx="98.6" cy="766.4" r="2.3"/>
<circle cx="96.3" cy="760.2" r="2.3"/>
<circle cx="94.8" cy="763.4" r="2.3"/>
<circle cx="97.6" cy="762.5" r="2.3"/>
<circle cx="97.1" cy="768.3" r="2.3"/>
<circle cx="94.1" cy="764.5" r="2.3"/>
<circle cx="107.8" cy="762.8" r="2.3"/>
<circle cx="111.2" cy="762.2" r="2.3"/>
<circle cx="104.4" cy="761.6" r="2.3"/>
<circle cx="113.8" cy="763.5" r="2.3"/>
<circle cx="115.2" cy="769.7" r="2.3"/>
<circle cx="120.5" cy="769.6" r="2.3"/>
<circle cx="117.3" cy="768.1" r="2.3"/>
<circle cx="114.4" cy="762.4" r="2.3"/>
<circle cx="121.9" cy="765.2" r="2.3"/>
<circle cx="121.9" cy="763.9" r="2.3"/>
<circle cx="122.8" cy="760.8" r="2.3"/>
<circle cx="120.2" cy="761.9" r="2.3"/>
<circle cx="126.0" cy="768.8" r="2.3"/>
<circle cx="128.3" cy="768.1" r="2.3"/>
<circle cx="126.8" cy="767.3" r="2.3"/>
<circle cx="133.1" cy="766.3" r="2.3"/>
<circle cx="126.3" cy="766.7" r="2.3"/>
<circle cx="133.5" cy="768.0" r="2.3"/>
<circle cx="128.4" cy="764.0" r="2.3"/>
<circle cx="125.0" cy="767.7" r="2.3"/>
<circle cx="135.6" cy="762.2" r="2.3"/>
<circle cx="134.3" cy="761.6" r="2.3"/>
<circle cx="137.8" cy="764.8" r="2.3"/>
<circle cx="135.8" cy="764.2" r="2.3"/>
<circle cx="141.6" cy="761.0" r="2.3"/>
<circle cx="135.4" cy="765.2" r="2.3"/>
<circle cx="143.0" cy="769.2" r="2.3"/>
<circle cx="139.7" cy="760.9" r="2.3"/>
<circle cx="142.7" cy="769.9" r="2.3"/>
<circle cx="143.0" cy="765.3" r="2.3"/>
<circle cx="147.8" cy="765.9" r="2.3"/>
<circle cx="151.9" cy="769.9" r="2.3"/>
<circle cx="148.9" cy="765.1" r="2.3"/>
<circle cx="147.1" cy="765.4" r="2.3"/>
<circle cx="149.4" cy="762.8" r="2.3"/>
<circle cx="148.6" cy="769.2" r="2.3"/>
<circle cx="146.4" cy="762.5" r="2.3"/>
<circle cx="147.0" cy="768.6" r="2.3"/>
<circle cx="157.0" cy="768.3" r="2.3"/>
<circle cx="163.3" cy="768.8" r="2.3"/>
<circle cx="162.0" cy="761.9" r="2.3"/>
<circle cx="158.5" cy="768.2" r="2.3"/>
<circle cx="156.5" cy="766.0" r="2.3"/>
<circle cx="162.7" cy="769.3" r="2.3"/>
<circle cx="157.5" cy="761.2" r="2.3"/>
<circle cx="154.3" cy="763.2" r="2.3"/>
<circle cx="169.5" cy="762.8" r="2.3"/>
<circle cx="172.2" cy="766.5" r="2.3"/>
<circle cx="170.2" cy="768.3" r="2.3"/>
<circle cx="167.3" cy="766.5" r="2.3"/>
<circle cx="167.5" cy="762.9" r="2.3"/>
<circle cx="165.1" cy="767.9" r="2.3"/>
<circle cx="183.0" cy="760.3" r="2.3"/>
<circle cx="181.2" cy="760.6" r="2.3"/>
<circle cx="178.2" cy="763.2" r="2.3"/>
<circle cx="183.0" cy="764.3" r="2.3"/>
<circle cx="179.1" cy="763.6" r="2.3"/>
<circle cx="176.5" cy="762.4" r="2.3"/>
<circle cx="174.6" cy="760.1" r="2.3"/>
<circle cx="179.5" cy="767.4" r="2.3"/>
<circle cx="190.7" cy="762.6" r="2.3"/>
<circle cx="193.9" cy="760.8" r="2.3"/>
<circle cx="188.3" cy="763.3" r="2.3"/>
<circle cx="185.8" cy="769.6" r="2.3"/>
<circle cx="191.2" cy="761.3" r="2.3"/>
<circle cx="185.8" cy="768.1" r="2.3"/>
<circle cx="187.7" cy="763.0" r="2.3"/>
<circle cx="187.0" cy="763.3" r="2.3"/>
<circle cx="89.9" cy="773.1" r="2.3"/>
<circle cx="89.9" cy="770.6" r="2.3"/>
<circle cx="89.4" cy="775.8" r="2.3"/>
<circle cx="87.2" cy="778.7" r="2.3"/>
<circle cx="93.3" cy="776.6" r="2.3"/>
<circle cx="88.1" cy="771.7" r="2.3"/>
<circle cx="90.3" cy="772.9" r="2.3"/>
<circle cx="85.6" cy="775.3" r="2.3"/>
<circle cx="86.0" cy="776.4" r="2.3"/>
<circle cx="91.6" cy="770.1" r="2.3"/>
<circle cx="90.3" cy="771.9" r="2.3"/>
<circle cx="87.4" cy="777.2" r="2.3"/>
<circle cx="93.7" cy="773.1" r="2.3"/>
<circle cx="101.5" cy="773.5" r="2.3"/>
<circle cx="103.4" cy="771.7" r="2.3"/>
<circle cx="100.6" cy="770.8" r="2.3"/>
<circle cx="99.6" cy="777.4" r="2.3"/>
<circle cx="103.1" cy="777.7" r="2.3"/>
<circle cx="99.5" cy="774.0" r="2.3"/>
<circle cx="100.3" cy="776.5" r="2.3"/>
<circle cx="100.1" cy="777.1" r="2.3"/>
<circle cx="111.5" cy="779.4" r="2.3"/>
<circle cx="110.2" cy="778.8" r="2.3"/>
<circle cx="111.4" cy="773.8" r="2.3"/>
<circle cx="112.0" cy="773.7" r="2.3"/>
<circle cx="112.3" cy="778.8" r="2.3"/>
<circle cx="113.0" cy="779.1" r="2.3"/>
<circle cx="120.9" cy="775.0" r="2.3"/>
<circle cx="116.9" cy="776.4" r="2.3"/>
<circle cx="122.9" cy="773.6" r="2.3"/>
<circle cx="116.1" cy="777.6" r="2.3"/>
<circle cx="123.1" cy="772.1" r="2.3"/>
<circle cx="115.4" cy="771.1" r="2.3"/>
<circle cx="119.5" cy="778.3" r="2.3"/>
<circle cx="116.5" cy="777.9" r="2.3"/>
<circle cx="114.5" cy="772.1" r="2.3"/>
<circle cx="119.5" cy="777.6" r="2.3"/>
<circle cx="118.9" cy="776.9" r="2.3"/>
<circle cx="117.6" cy="773.8" r="2.3"/>
<circle cx="119.2" cy="770.0" r="2.3"/>
<circle cx="126.0" cy="773.5" r="2.3"/>
<circle cx="130.6" cy="772.0" r="2.3"/>
<circle cx="126.4" cy="779.9" r="2.3"/>
<circle cx="130.5" cy="774.1" r="2.3"/>
<circle cx="131.8" cy="777.1" r="2.3"/>
<circle cx="132.2" cy="775.6" r="2.3"/>
<circle cx="130.1" cy="771.0" r="2.3"/>
<circle cx="128.3" cy="773.9" r="2.3"/>
<circle cx="126.6" cy="773.6" r="2.3"/>
<circle cx="132.9" cy="772.2" r="2.3"/>
<circle cx="135.1" cy="773.3" r="2.3"/>
<circle cx="135.7" cy="770.2" r="2.3"/>
<circle cx="143.1" cy="775.5" r="2.3"/>
<circle cx="134.3" cy="775.3" r="2.3"/>
<circle cx="135.7" cy="774.8" r="2.3"/>
<circle cx="143.4" cy="779.8" r="2.3"/>
<circle cx="138.0" cy="777.8" r="2.3"/>
<circle cx="138.9" cy="770.8" r="2.3"/>
<circle cx="138.0" cy="778.1" r="2.3"/>
<circle cx="141.8" cy="777.2" r="2.3"/>
<circle cx="143.9" cy="773.8" r="2.3"/>
<circle cx="141.0" cy="778.2" r="2.3"/>
<circle cx="143.2" cy="778.7" r="2.3"/>
<circle cx="152.7" cy="773.4" r="2.3"/>
<circle cx="147.8" cy="776.2" r="2.3"/>
<circle cx="145.2" cy="773.1" r="2.3"/>
<circle cx="147.7" cy="772.1" r="2.3"/>
<circle cx="145.9" cy="776.5" r="2.3"/>
<circle cx="147.1" cy="770.6" r="2.3"/>
<circle cx="152.0" cy="779.5" r="2.3"/>
<circle cx="146.2" cy="776.8" r="2.3"/>
<circle cx="144.8" cy="772.2" r="2.3"/>
<circle cx="145.6" cy="776.4" r="2.3"/>
<circle cx="159.6" cy="778.2" r="2.3"/>
<circle cx="160.6" cy="777.6" r="2.3"/>
<circle cx="162.7" cy="775.8" r="2.3"/>
<circle cx="156.3" cy="771.6" r="2.3"/>
<circle cx="162.6" cy="778.2" r="2.3"/>
<circle cx="160.5" cy="779.5" r="2.3"/>
<circle cx="162.1" cy="774.0" r="2.3"/>
<circle cx="155.9" cy="774.3" r="2.3"/>
<circle cx="163.2" cy="778.9" r="2.3"/>
<circle cx="154.1" cy="770.1" r="2.3"/>
<circle cx="158.5" cy="779.1" r="2.3"/>
<circle cx="162.8" cy="778.4" r="2.3"/>
<circle cx="154.7" cy="772.1" r="2.3"/>
<circle cx="171.7" cy="774.4" r="2.3"/>
<circle cx="167.2" cy="779.6" r="2.3"/>
<circle cx="164.2" cy="774.9" r="2.3"/>
<circle cx="172.8" cy="777.0" r="2.3"/>
<circle cx="172.9" cy="772.7" r="2.3"/>
<circle cx="169.6" cy="779.8" r="2.3"/>
<circle cx="165.3" cy="774.3" r="2.3"/>
<circle cx="173.9" cy="771.6" r="2.3"/>
<circle cx="171.7" cy="777.5" r="2.3"/>
<circle cx="166.6" cy="779.9" r="2.3"/>
<circle cx="181.8" cy="771.3" r="2.3"/>
<circle cx="183.9" cy="778.8" r="2.3"/>
<circle cx="178.8" cy="770.3" r="2.3"/>
<circle cx="181.8" cy="775.8" r="2.3"/>
<circle cx="181.4" cy="770.8" r="2.3"/>
<circle cx="178.8" cy="778.1" r="2.3"/>
<circle cx="181.3" cy="771.7" r="2.3"/>
<circle cx="177.3" cy="774.5" r="2.3"/>
<circle cx="188.6" cy="779.9" r="2.3"/>
<circle cx="193.3" cy="770.0" r="2.3"/>
<circle cx="190.2" cy="771.4" r="2.3"/>
<circle cx="192.6" cy="775.3" r="2.3"/>
<circle cx="193.0" cy="779.1" r="2.3"/>
<circle cx="193.3" cy="771.7" r="2.3"/>
<circle cx="184.6" cy="777.7" r="2.3"/>
<circle cx="188.7" cy="777.8" r="2.3"/>
<circle cx="188.4" cy="774.1" r="2.3"/>
<circle cx="191.3" cy="773.7" r="2.3"/>
<circle cx="89.0" cy="784.0" r="2.3"/>
<circle cx="90.7" cy="780.7" r="2.3"/>
<circle cx="88.6" cy="785.8" r="2.3"/>
<circle cx="90.9" cy="789.0" r="2.3"/>
<circle cx="87.7" cy="789.6" r="2.3"/>
<circle cx="91.0" cy="783.8" r="2.3"/>
<circle cx="89.6" cy="783.6" r="2.3"/>
<circle cx="90.5" cy="780.2" r="2.3"/>
<circle cx="93.0" cy="783.6" r="2.3"/>
<circle cx="84.1" cy="780.9" r="2.3"/>
<circle cx="87.4" cy="782.6" r="2.3"/>
<circle cx="92.4" cy="783.8" r="2.3"/>
<circle cx="93.2" cy="782.8" r="2.3"/>
<circle cx="97.4" cy="789.5" r="2.3"/>
<circle cx="102.6" cy="789.4" r="2.3"/>
<circle cx="95.1" cy="780.7" r="2.3"/>
<circle cx="100.9" cy="783.4" r="2.3"/>
<circle cx="95.0" cy="780.9" r="2.3"/>
<circle cx="97.2" cy="783.1" r="2.3"/>
<circle cx="100.6" cy="789.9" r="2.3"/>
<circle cx="95.7" cy="787.9" r="2.3"/>
<circle cx="109.9" cy="788.7" r="2.3"/>
<circle cx="113.9" cy="789.2" r="2.3"/>
<circle cx="105.3" cy="787.4" r="2.3"/>
<circle cx="111.7" cy="783.8" r="2.3"/>
<circle cx="104.3" cy="787.6" r="2.3"/>
<circle cx="110.3" cy="787.6" r="2.3"/>
<circle cx="111.6" cy="787.4" r="2.3"/>
<circle cx="104.4" cy="789.4" r="2.3"/>
<circle cx="123.6" cy="783.5" r="2.3"/>
<circle cx="121.9" cy="789.4" r="2.3"/>
<circle cx="118.3" cy="783.4" r="2.3"/>
<circle cx="120.0" cy="787.8" r="2.3"/>
<circle cx="118.1" cy="787.0" r="2.3"/>
<circle cx="123.5" cy="783.7" r="2.3"/>
<circle cx="123.1" cy="781.4" r="2.3"/>
<circle cx="119.9" cy="788.3" r="2.3"/>
<circle cx="118.1" cy="782.8" r="2.3"/>
<circle cx="116.8" cy="783.6" r="2.3"/>
<circle cx="127.9" cy="784.1" r="2.3"/>
<circle cx="126.4" cy="786.0" r="2.3"/>
<circle cx="126.2" cy="782.6" r="2.3"/>
<circle cx="128.7" cy="789.1" r="2.3"/>
<circle cx="126.8" cy="781.8" r="2.3"/>
<circle cx="131.7" cy="785.8" r="2.3"/>
<circle cx="125.2" cy="789.7" r="2.3"/>
<circle cx="126.0" cy="786.3" r="2.3"/>
<circle cx="126.4" cy="788.3" r="2.3"/>
<circle cx="127.7" cy="786.3" r="2.3"/>
<circle cx="132.0" cy="787.0" r="2.3"/>
<circle cx="127.1" cy="783.0" r="2.3"/>
<circle cx="129.8" cy="785.3" r="2.3"/>
<circle cx="141.1" cy="780.7" r="2.3"/>
<circle cx="134.6" cy="780.0" r="2.3"/>
<circle cx="142.1" cy="781.7" r="2.3"/>
<circle cx="141.5" cy="784.6" r="2.3"/>
<circle cx="143.5" cy="786.4" r="2.3"/>
<circle cx="142.5" cy="781.0" r="2.3"/>
<circle cx="142.9" cy="783.8" r="2.3"/>
<circle cx="134.4" cy="788.6" r="2.3"/>
<circle cx="136.3" cy="786.5" r="2.3"/>
<circle cx="134.2" cy="784.4" r="2.3"/>
<circle cx="138.7" cy="784.5" r="2.3"/>
<circle cx="142.3" cy="782.9" r="2.3"/>
<circle cx="143.1" cy="781.6" r="2.3"/>
<circle cx="153.7" cy="782.9" r="2.3"/>
<circle cx="150.8" cy="789.3" r="2.3"/>
<circle cx="150.8" cy="788.5" r="2.3"/>
<circle cx="144.9" cy="789.7" r="2.3"/>
<circle cx="144.4" cy="786.8" r="2.3"/>
<circle cx="152.2" cy="787.7" r="2.3"/>
<circle cx="151.3" cy="786.1" r="2.3"/>
<circle cx="153.9" cy="782.2" r="2.3"/>
<circle cx="153.1" cy="788.1" r="2.3"/>
<circle cx="145.9" cy="784.6" r="2.3"/>
<circle cx="148.4" cy="781.5" r="2.3"/>
<circle cx="152.5" cy="788.6" r="2.3"/>
<circle cx="151.5" cy="780.3" r="2.3"/>
<circle cx="161.3" cy="789.3" r="2.3"/>
<circle cx="161.2" cy="789.3" r="2.3"/>
<circle cx="163.6" cy="787.0" r="2.3"/>
<circle cx="161.4" cy="783.0" r="2.3"/>
<circle cx="161.7" cy="783.1" r="2.3"/>
<circle cx="156.7" cy="783.3" r="2.3"/>
<circle cx="157.1" cy="780.4" r="2.3"/>
<circle cx="155.5" cy="782.8" r="2.3"/>
<circle cx="156.2" cy="780.2" r="2.3"/>
<circle cx="161.4" cy="788.3" r="2.3"/>
<circle cx="157.3" cy="787.1" r="2.3"/>
<circle cx="162.7" cy="780.3" r="2.3"/>
<circle cx="159.7" cy="785.9" r="2.3"/>
<circle cx="165.7" cy="789.0" r="2.3"/>
<circle cx="172.0" cy="785.4" r="2.3"/>
<circle cx="169.4" cy="788.3" r="2.3"/>
<circle cx="164.6" cy="788.8" r="2.3"/>
<circle cx="169.2" cy="783.0" r="2.3"/>
<circle cx="166.6" cy="785.4" r="2.3"/>
<circle cx="165.0" cy="788.3" r="2.3"/>
<circle cx="168.1" cy="789.0" r="2.3"/>
<circle cx="173.5" cy="787.9" r="2.3"/>
<circle cx="165.1" cy="782.4" r="2.3"/>
<circle cx="180.3" cy="789.4" r="2.3"/>
<circle cx="180.3" cy="783.6" r="2.3"/>
<circle cx="182.1" cy="784.6" r="2.3"/>
<circle cx="179.9" cy="784.6" r="2.3"/>
<circle cx="183.5" cy="786.1" r="2.3"/>
<circle cx="175.1" cy="786.4" r="2.3"/>
<circle cx="178.0" cy="781.7" r="2.3"/>
<circle cx="179.0" cy="782.7" r="2.3"/>
<circle cx="183.5" cy="782.2" r="2.3"/>
<circle cx="179.4" cy="780.1" r="2.3"/>
<circle cx="187.0" cy="786.5" r="2.3"/>
<circle cx="189.0" cy="786.6" r="2.3"/>
<circle cx="189.7" cy="786.1" r="2.3"/>
<circle cx="186.6" cy="789.2" r="2.3"/>
<circle cx="190.5" cy="780.3" r="2.3"/>
<circle cx="192.4" cy="781.7" r="2.3"/>
<circle cx="188.2" cy="786.5" r="2.3"/>
<circle cx="193.0" cy="781.7" r="2.3"/>
<circle cx="187.0" cy="785.2" r="2.3"/>
<circle cx="190.8" cy="784.6" r="2.3"/>
<circle cx="91.1" cy="799.9" r="2.3"/>
<circle cx="84.7" cy="794.0" r="2.3"/>
<circle cx="91.9" cy="798.1" r="2.3"/>
<circle cx="93.6" cy="793.4" r="2.3"/>
<circle cx="86.5" cy="796.7" r="2.3"/>
<circle cx="92.3" cy="798.0" r="2.3"/>
<circle cx="89.4" cy="791.3" r="2.3"/>
<circle cx="91.0" cy="792.6" r="2.3"/>
<circle cx="84.3" cy="790.0" r="2.3"/>
<circle cx="87.4" cy="793.7" r="2.3"/>
<circle cx="89.5" cy="794.5" r="2.3"/>
<circle cx="89.1" cy="796.3" r="2.3"/>
<circle cx="85.8" cy="798.0" r="2.3"/>
<circle cx="100.7" cy="798.1" r="2.3"/>
<circle cx="99.6" cy="795.4" r="2.3"/>
<circle cx="102.4" cy="796.6" r="2.3"/>
<circle cx="96.7" cy="798.7" r="2.3"/>
<circle cx="95.9" cy="792.8" r="2.3"/>
<circle cx="102.3" cy="794.5" r="2.3"/>
<circle cx="95.5" cy="799.0" r="2.3"/>
<circle cx="100.0" cy="790.2" r="2.3"/>
<circle cx="107.5" cy="793.4" r="2.3"/>
<circle cx="106.8" cy="797.2" r="2.3"/>
<circle cx="106.3" cy="790.8" r="2.3"/>
<circle cx="112.6" cy="795.8" r="2.3"/>
<circle cx="108.8" cy="798.9" r="2.3"/>
<circle cx="110.8" cy="798.5" r="2.3"/>
<circle cx="107.3" cy="793.0" r="2.3"/>
<circle cx="107.3" cy="794.7" r="2.3"/>
<circle cx="119.8" cy="792.0" r="2.3"/>
<circle cx="119.7" cy="799.4" r="2.3"/>
<circle cx="121.5" cy="790.0" r="2.3"/>
<circle cx="118.8" cy="796.3" r="2.3"/>
<circle cx="114.5" cy="799.9" r="2.3"/>
<circle cx="121.9" cy="795.6" r="2.3"/>
<circle cx="119.2" cy="796.4" r="2.3"/>
<circle cx="118.0" cy="795.8" r="2.3"/>
<circle cx="119.1" cy="793.5" r="2.3"/>
<circle cx="118.7" cy="790.6" r="2.3"/>
<circle cx="130.1" cy="792.4" r="2.3"/>
<circle cx="126.7" cy="791.5" r="2.3"/>
<circle cx="131.5" cy="794.5" r="2.3"/>
<circle cx="129.8" cy="795.1" r="2.3"/>
<circle cx="129.9" cy="793.6" r="2.3"/>
<circle cx="126.6" cy="797.7" r="2.3"/>
<circle cx="131.2" cy="791.5" r="2.3"/>
<circle cx="125.4" cy="793.5" r="2.3"/>
<circle cx="131.9" cy="793.1" r="2.3"/>
<circle cx="126.3" cy="794.3" r="2.3"/>
<circle cx="129.0" cy="796.3" r="2.3"/>
<circle cx="127.2" cy="794.0" r="2.3"/>
<circle cx="133.8" cy="797.6" r="2.3"/>
<circle cx="136.2" cy="795.1" r="2.3"/>
<circle cx="135.5" cy="799.8" r="2.3"/>
<circle cx="136.6" cy="799.3" r="2.3"/>
<circle cx="136.2" cy="792.2" r="2.3"/>
<circle cx="137.4" cy="793.3" r="2.3"/>
<circle cx="137.4" cy="793.9" r="2.3"/>
<circle cx="138.1" cy="791.1" r="2.3"/>
<circle cx="140.3" cy="796.9" r="2.3"/>
<circle cx="136.2" cy="791.3" r="2.3"/>
<circle cx="134.3" cy="791.8" r="2.3"/>
<circle cx="139.2" cy="796.2" r="2.3"/>
<circle cx="143.4" cy="798.2" r="2.3"/>
<circle cx="135.6" cy="792.6" r="2.3"/>
<circle cx="146.0" cy="790.7" r="2.3"/>
<circle cx="144.3" cy="795.4" r="2.3"/>
<circle cx="153.6" cy="799.8" r="2.3"/>
<circle cx="144.2" cy="792.5" r="2.3"/>
<circle cx="147.5" cy="798.6" r="2.3"/>
<circle cx="145.0" cy="794.4" r="2.3"/>
<circle cx="152.7" cy="797.8" r="2.3"/>
<circle cx="145.8" cy="795.2" r="2.3"/>
<circle cx="150.8" cy="791.3" r="2.3"/>
<circle cx="152.6" cy="796.8" r="2.3"/>
<circle cx="147.7" cy="793.3" r="2.3"/>
<circle cx="144.9" cy="799.0" r="2.3"/>
<circle cx="145.9" cy="795.9" r="2.3"/>
<circle cx="161.0" cy="796.0" r="2.3"/>
<circle cx="162.0" cy="792.7" r="2.3"/>
<circle cx="160.7" cy="792.1" r="2.3"/>
<circle cx="161.1" cy="797.5" r="2.3"/>
<circle cx="158.7" cy="797.3" r="2.3"/>
<circle cx="160.8" cy="790.2" r="2.3"/>
<circle cx="156.1" cy="792.1" r="2.3"/>
<circle cx="160.9" cy="798.3" r="2.3"/>
<circle cx="156.3" cy="799.2" r="2.3"/>
<circle cx="156.0" cy="794.3" r="2.3"/>
<circle cx="162.5" cy="792.8" r="2.3"/>
<circle cx="162.6" cy="790.4" r="2.3"/>
<circle cx="156.9" cy="798.4" r="2.3"/>
<circle cx="170.6" cy="791.2" r="2.3"/>
<circle cx="168.9" cy="795.3" r="2.3"/>
<circle cx="164.3" cy="799.3" r="2.3"/>
<circle cx="164.3" cy="799.3" r="2.3"/>
<circle cx="171.0" cy="796.6" r="2.3"/>
<circle cx="167.7" cy="792.5" r="2.3"/>
<circle cx="168.9" cy="799.5" r="2.3"/>
<circle cx="165.0" cy="794.8" r="2.3"/>
<circle cx="170.1" cy="799.7" r="2.3"/>
<circle cx="171.0" cy="799.5" r="2.3"/>
<circle cx="171.0" cy="794.4" r="2.3"/>
<circle cx="173.4" cy="790.4" r="2.3"/>
<circle cx="171.5" cy="790.1" r="2.3"/>
<circle cx="174.9" cy="790.5" r="2.3"/>
<circle cx="178.5" cy="798.0" r="2.3"/>
<circle cx="182.0" cy="796.2" r="2.3"/>
<circle cx="177.7" cy="792.9" r="2.3"/>
<circle cx="178.5" cy="793.3" r="2.3"/>
<circle cx="179.1" cy="796.5" r="2.3"/>
<circle cx="174.9" cy="799.3" r="2.3"/>
<circle cx="175.3" cy="798.7" r="2.3"/>
<circle cx="174.2" cy="790.0" r="2.3"/>
<circle cx="183.6" cy="793.3" r="2.3"/>
<circle cx="187.9" cy="797.7" r="2.3"/>
<circle cx="184.8" cy="796.1" r="2.3"/>
<circle cx="192.7" cy="794.8" r="2.3"/>
<circle cx="184.2" cy="791.5" r="2.3"/>
<circle cx="192.8" cy="792.0" r="2.3"/>
<circle cx="191.1" cy="796.4" r="2.3"/>
<circle cx="191.7" cy="796.5" r="2.3"/>
<circle cx="189.4" cy="798.0" r="2.3"/>
<circle cx="191.2" cy="792.3" r="2.3"/>
<circle cx="184.7" cy="795.9" r="2.3"/>
<circle cx="245.1" cy="715.6" r="2.3"/>
<circle cx="216.5" cy="722.9" r="2.3"/>
<circle cx="192.9" cy="730.8" r="2.3"/>
<circle cx="249.8" cy="729.9" r="2.3"/>
<circle cx="254.7" cy="730.5" r="2.3"/>
<circle cx="260.3" cy="732.2" r="2.3"/>
<circle cx="239.3" cy="735.7" r="2.3"/>
<circle cx="246.0" cy="739.0" r="2.3"/>
<circle cx="206.5" cy="741.0" r="2.3"/>
<circle cx="218.8" cy="741.0" r="2.3"/>
<circle cx="223.9" cy="748.0" r="2.3"/>
<circle cx="195.9" cy="750.1" r="2.3"/>
<circle cx="205.1" cy="756.2" r="2.3"/>
<circle cx="200.8" cy="758.8" r="2.3"/>
<circle cx="210.9" cy="758.8" r="2.3"/>
<circle cx="223.0" cy="757.1" r="2.3"/>
<circle cx="231.8" cy="755.7" r="2.3"/>
<circle cx="227.9" cy="760.6" r="2.3"/>
<circle cx="234.6" cy="762.3" r="2.3"/>
<circle cx="252.1" cy="759.7" r="2.3"/>
<circle cx="286.3" cy="782.0" r="2.3"/>
<circle cx="294.5" cy="794.8" r="2.3"/>
<circle cx="274.3" cy="787.2" r="2.3"/>
<circle cx="268.2" cy="769.4" r="2.3"/>
<circle cx="271.7" cy="772.0" r="2.3"/>
<circle cx="197.7" cy="766.6" r="2.3"/>
<circle cx="194.9" cy="769.9" r="2.3"/>
<circle cx="198.0" cy="764.2" r="2.3"/>
<circle cx="203.7" cy="761.8" r="2.3"/>
<circle cx="204.7" cy="766.8" r="2.3"/>
<circle cx="206.1" cy="768.1" r="2.3"/>
<circle cx="205.2" cy="768.4" r="2.3"/>
<circle cx="221.7" cy="766.7" r="2.3"/>
<circle cx="220.0" cy="762.9" r="2.3"/>
<circle cx="216.6" cy="763.8" r="2.3"/>
<circle cx="216.0" cy="769.7" r="2.3"/>
<circle cx="225.3" cy="769.7" r="2.3"/>
<circle cx="229.3" cy="762.7" r="2.3"/>
<circle cx="226.3" cy="764.3" r="2.3"/>
<circle cx="236.6" cy="769.5" r="2.3"/>
<circle cx="238.4" cy="765.0" r="2.3"/>
<circle cx="237.8" cy="763.4" r="2.3"/>
<circle cx="243.3" cy="763.9" r="2.3"/>
<circle cx="250.1" cy="767.9" r="2.3"/>
<circle cx="242.3" cy="766.4" r="2.3"/>
<circle cx="249.7" cy="766.3" r="2.3"/>
<circle cx="261.6" cy="763.1" r="2.3"/>
<circle cx="253.7" cy="764.0" r="2.3"/>
<circle cx="262.2" cy="768.6" r="2.3"/>
<circle cx="276.4" cy="766.6" r="2.3"/>
<circle cx="197.0" cy="775.3" r="2.3"/>
<circle cx="195.8" cy="777.8" r="2.3"/>
<circle cx="200.7" cy="779.9" r="2.3"/>
<circle cx="197.7" cy="774.7" r="2.3"/>
<circle cx="197.7" cy="779.6" r="2.3"/>
<circle cx="195.3" cy="770.2" r="2.3"/>
<circle cx="197.0" cy="778.6" r="2.3"/>
<circle cx="193.4" cy="773.5" r="2.3"/>
<circle cx="208.3" cy="776.3" r="2.3"/>
<circle cx="205.3" cy="777.6" r="2.3"/>
<circle cx="210.3" cy="777.0" r="2.3"/>
<circle cx="210.7" cy="771.4" r="2.3"/>
<circle cx="206.1" cy="774.1" r="2.3"/>
<circle cx="204.9" cy="774.3" r="2.3"/>
<circle cx="211.3" cy="777.4" r="2.3"/>
<circle cx="203.9" cy="776.9" r="2.3"/>
<circle cx="218.5" cy="772.5" r="2.3"/>
<circle cx="215.4" cy="771.3" r="2.3"/>
<circle cx="216.5" cy="777.4" r="2.3"/>
<circle cx="215.5" cy="773.1" r="2.3"/>
<circle cx="214.4" cy="779.7" r="2.3"/>
<circle cx="214.5" cy="774.4" r="2.3"/>
<circle cx="214.3" cy="774.9" r="2.3"/>
<circle cx="219.8" cy="778.7" r="2.3"/>
<circle cx="217.8" cy="779.3" r="2.3"/>
<circle cx="214.9" cy="776.9" r="2.3"/>
<circle cx="225.7" cy="772.6" r="2.3"/>
<circle cx="226.0" cy="772.1" r="2.3"/>
<circle cx="228.3" cy="771.6" r="2.3"/>
<circle cx="229.1" cy="777.3" r="2.3"/>
<circle cx="222.2" cy="773.8" r="2.3"/>
<circle cx="228.5" cy="776.5" r="2.3"/>
<circle cx="228.2" cy="770.1" r="2.3"/>
<circle cx="229.5" cy="771.4" r="2.3"/>
<circle cx="232.2" cy="777.5" r="2.3"/>
<circle cx="236.3" cy="771.9" r="2.3"/>
<circle cx="233.4" cy="773.8" r="2.3"/>
<circle cx="238.6" cy="770.3" r="2.3"/>
<circle cx="237.2" cy="774.5" r="2.3"/>
<circle cx="240.7" cy="774.3" r="2.3"/>
<circle cx="243.6" cy="775.9" r="2.3"/>
<circle cx="242.9" cy="771.0" r="2.3"/>
<circle cx="251.0" cy="775.6" r="2.3"/>
<circle cx="245.5" cy="772.1" r="2.3"/>
<circle cx="243.4" cy="774.1" r="2.3"/>
<circle cx="246.2" cy="779.4" r="2.3"/>
<circle cx="256.7" cy="773.9" r="2.3"/>
<circle cx="257.0" cy="773.0" r="2.3"/>
<circle cx="257.0" cy="773.9" r="2.3"/>
<circle cx="254.0" cy="773.7" r="2.3"/>
<circle cx="259.8" cy="770.9" r="2.3"/>
<circle cx="258.1" cy="779.3" r="2.3"/>
<circle cx="267.9" cy="774.6" r="2.3"/>
<circle cx="270.7" cy="777.3" r="2.3"/>
<circle cx="265.4" cy="770.0" r="2.3"/>
<circle cx="271.1" cy="774.5" r="2.3"/>
<circle cx="265.2" cy="770.1" r="2.3"/>
<circle cx="264.2" cy="777.3" r="2.3"/>
<circle cx="278.0" cy="771.6" r="2.3"/>
<circle cx="279.6" cy="777.9" r="2.3"/>
<circle cx="192.9" cy="786.2" r="2.3"/>
<circle cx="195.3" cy="783.8" r="2.3"/>
<circle cx="194.9" cy="785.4" r="2.3"/>
<circle cx="192.9" cy="789.6" r="2.3"/>
<circle cx="193.5" cy="789.9" r="2.3"/>
<circle cx="192.3" cy="784.1" r="2.3"/>
<circle cx="194.7" cy="789.9" r="2.3"/>
<circle cx="195.4" cy="790.0" r="2.3"/>
<circle cx="205.7" cy="781.1" r="2.3"/>
<circle cx="205.8" cy="780.6" r="2.3"/>
<circle cx="206.9" cy="781.6" r="2.3"/>
<circle cx="204.2" cy="781.4" r="2.3"/>
<circle cx="205.2" cy="789.9" r="2.3"/>
<circle cx="207.4" cy="786.3" r="2.3"/>
<circle cx="210.3" cy="784.3" r="2.3"/>
<circle cx="208.6" cy="780.1" r="2.3"/>
<circle cx="207.3" cy="788.3" r="2.3"/>
<circle cx="205.6" cy="781.2" r="2.3"/>
<circle cx="221.2" cy="787.9" r="2.3"/>
<circle cx="215.2" cy="781.2" r="2.3"/>
<circle cx="215.8" cy="784.8" r="2.3"/>
<circle cx="214.6" cy="788.5" r="2.3"/>
<circle cx="217.6" cy="788.1" r="2.3"/>
<circle cx="217.2" cy="789.4" r="2.3"/>
<circle cx="218.4" cy="785.0" r="2.3"/>
<circle cx="216.9" cy="788.6" r="2.3"/>
<circle cx="218.2" cy="785.5" r="2.3"/>
<circle cx="213.7" cy="788.8" r="2.3"/>
<circle cx="228.7" cy="789.8" r="2.3"/>
<circle cx="226.1" cy="782.0" r="2.3"/>
<circle cx="222.5" cy="783.3" r="2.3"/>
<circle cx="227.0" cy="782.5" r="2.3"/>
<circle cx="229.2" cy="781.9" r="2.3"/>
<circle cx="231.2" cy="781.5" r="2.3"/>
<circle cx="223.8" cy="781.2" r="2.3"/>
<circle cx="229.9" cy="788.8" r="2.3"/>
<circle cx="238.9" cy="782.4" r="2.3"/>
<circle cx="240.4" cy="787.0" r="2.3"/>
<circle cx="234.5" cy="789.0" r="2.3"/>
<circle cx="239.6" cy="782.7" r="2.3"/>
<circle cx="237.3" cy="780.1" r="2.3"/>
<circle cx="233.1" cy="780.8" r="2.3"/>
<circle cx="240.2" cy="784.5" r="2.3"/>
<circle cx="238.0" cy="789.2" r="2.3"/>
<circle cx="244.9" cy="781.4" r="2.3"/>
<circle cx="244.6" cy="789.4" r="2.3"/>
<circle cx="245.2" cy="780.4" r="2.3"/>
<circle cx="242.7" cy="783.8" r="2.3"/>
<circle cx="250.9" cy="782.3" r="2.3"/>
<circle cx="249.8" cy="783.6" r="2.3"/>
<circle cx="251.8" cy="786.1" r="2.3"/>
<circle cx="244.4" cy="783.3" r="2.3"/>
<circle cx="257.3" cy="784.0" r="2.3"/>
<circle cx="256.5" cy="789.6" r="2.3"/>
<circle cx="252.4" cy="783.6" r="2.3"/>
<circle cx="259.5" cy="789.0" r="2.3"/>
<circle cx="260.7" cy="783.8" r="2.3"/>
<circle cx="255.6" cy="788.9" r="2.3"/>
<circle cx="257.7" cy="789.6" r="2.3"/>
<circle cx="253.2" cy="787.7" r="2.3"/>
<circle cx="269.3" cy="789.9" r="2.3"/>
<circle cx="264.5" cy="786.0" r="2.3"/>
<circle cx="270.5" cy="784.5" r="2.3"/>
<circle cx="263.2" cy="786.8" r="2.3"/>
<circle cx="263.7" cy="781.7" r="2.3"/>
<circle cx="271.9" cy="784.7" r="2.3"/>
<circle cx="271.6" cy="789.4" r="2.3"/>
<circle cx="263.5" cy="782.3" r="2.3"/>
<circle cx="279.6" cy="781.8" r="2.3"/>
<circle cx="193.0" cy="790.9" r="2.3"/>
<circle cx="200.7" cy="798.9" r="2.3"/>
<circle cx="200.7" cy="793.8" r="2.3"/>
<circle cx="194.4" cy="795.3" r="2.3"/>
<circle cx="192.3" cy="792.1" r="2.3"/>
<circle cx="201.1" cy="799.9" r="2.3"/>
<circle cx="195.7" cy="792.3" r="2.3"/>
<circle cx="198.1" cy="799.1" r="2.3"/>
<circle cx="207.7" cy="795.3" r="2.3"/>
<circle cx="208.7" cy="797.2" r="2.3"/>
<circle cx="204.9" cy="793.3" r="2.3"/>
<circle cx="206.8" cy="794.7" r="2.3"/>
<circle cx="211.9" cy="791.9" r="2.3"/>
<circle cx="202.2" cy="795.5" r="2.3"/>
<circle cx="211.7" cy="799.4" r="2.3"/>
<circle cx="203.5" cy="800.0" r="2.3"/>
<circle cx="211.1" cy="792.6" r="2.3"/>
<circle cx="204.4" cy="792.0" r="2.3"/>
<circle cx="216.8" cy="795.6" r="2.3"/>
<circle cx="214.1" cy="795.0" r="2.3"/>
<circle cx="217.3" cy="791.5" r="2.3"/>
<circle cx="218.5" cy="791.2" r="2.3"/>
<circle cx="216.6" cy="791.9" r="2.3"/>
<circle cx="213.4" cy="795.7" r="2.3"/>
<circle cx="220.1" cy="795.2" r="2.3"/>
<circle cx="213.3" cy="791.8" r="2.3"/>
<circle cx="220.7" cy="795.6" r="2.3"/>
<circle cx="214.8" cy="793.9" r="2.3"/>
<circle cx="223.4" cy="795.8" r="2.3"/>
<circle cx="222.1" cy="797.8" r="2.3"/>
<circle cx="224.0" cy="793.5" r="2.3"/>
<circle cx="231.7" cy="790.6" r="2.3"/>
<circle cx="225.4" cy="796.3" r="2.3"/>
<circle cx="228.3" cy="798.3" r="2.3"/>
<circle cx="230.2" cy="794.6" r="2.3"/>
<circle cx="229.8" cy="792.4" r="2.3"/>
<circle cx="239.9" cy="798.3" r="2.3"/>
<circle cx="232.2" cy="797.7" r="2.3"/>
<circle cx="235.5" cy="791.2" r="2.3"/>
<circle cx="233.4" cy="792.7" r="2.3"/>
<circle cx="240.1" cy="798.6" r="2.3"/>
<circle cx="238.3" cy="793.5" r="2.3"/>
<circle cx="234.7" cy="792.1" r="2.3"/>
<circle cx="232.7" cy="794.6" r="2.3"/>
<circle cx="248.5" cy="798.1" r="2.3"/>
<circle cx="249.6" cy="798.8" r="2.3"/>
<circle cx="247.7" cy="797.4" r="2.3"/>
<circle cx="248.2" cy="796.5" r="2.3"/>
<circle cx="249.7" cy="791.0" r="2.3"/>
<circle cx="242.3" cy="792.2" r="2.3"/>
<circle cx="256.0" cy="794.4" r="2.3"/>
<circle cx="252.7" cy="796.6" r="2.3"/>
<circle cx="258.3" cy="793.5" r="2.3"/>
<circle cx="260.9" cy="792.7" r="2.3"/>
<circle cx="255.3" cy="799.8" r="2.3"/>
<circle cx="254.5" cy="792.0" r="2.3"/>
<circle cx="262.6" cy="793.7" r="2.3"/>
<circle cx="267.9" cy="793.7" r="2.3"/>
<circle cx="267.6" cy="796.4" r="2.3"/>
<circle cx="267.6" cy="800.0" r="2.3"/>
<circle cx="269.5" cy="790.8" r="2.3"/>
<circle cx="271.1" cy="797.2" r="2.3"/>
<circle cx="269.7" cy="798.6" r="2.3"/>
<circle cx="270.5" cy="792.4" r="2.3"/>
<circle cx="276.0" cy="796.6" r="2.3"/>
<circle cx="277.2" cy="797.7" r="2.3"/>
<circle cx="276.3" cy="797.0" r="2.3"/>
<circle cx="295.7" cy="793.4" r="2.3"/>
<circle cx="90.4" cy="804.5" r="2.3"/>
<circle cx="87.7" cy="804.4" r="2.3"/>
<circle cx="87.8" cy="803.3" r="2.3"/>
<circle cx="87.8" cy="805.6" r="2.3"/>
<circle cx="85.4" cy="803.7" r="2.3"/>
<circle cx="90.6" cy="803.7" r="2.3"/>
<circle cx="91.9" cy="802.9" r="2.3"/>
<circle cx="88.6" cy="804.5" r="2.3"/>
<circle cx="87.3" cy="805.0" r="2.3"/>
<circle cx="93.0" cy="809.3" r="2.3"/>
<circle cx="85.2" cy="808.0" r="2.3"/>
<circle cx="90.3" cy="805.0" r="2.3"/>
<circle cx="86.1" cy="802.7" r="2.3"/>
<circle cx="98.4" cy="801.4" r="2.3"/>
<circle cx="102.7" cy="808.9" r="2.3"/>
<circle cx="103.8" cy="800.8" r="2.3"/>
<circle cx="95.6" cy="809.7" r="2.3"/>
<circle cx="99.8" cy="802.6" r="2.3"/>
<circle cx="101.3" cy="805.9" r="2.3"/>
<circle cx="101.2" cy="808.8" r="2.3"/>
<circle cx="96.4" cy="802.8" r="2.3"/>
<circle cx="110.6" cy="809.6" r="2.3"/>
<circle cx="109.3" cy="806.1" r="2.3"/>
<circle cx="108.9" cy="800.2" r="2.3"/>
<circle cx="112.9" cy="805.3" r="2.3"/>
<circle cx="106.0" cy="800.9" r="2.3"/>
<circle cx="108.4" cy="808.2" r="2.3"/>
<circle cx="112.3" cy="808.1" r="2.3"/>
<circle cx="113.6" cy="806.6" r="2.3"/>
<circle cx="106.8" cy="802.0" r="2.3"/>
<circle cx="109.7" cy="804.8" r="2.3"/>
<circle cx="116.2" cy="809.5" r="2.3"/>
<circle cx="114.7" cy="801.9" r="2.3"/>
<circle cx="115.9" cy="805.1" r="2.3"/>
<circle cx="121.2" cy="802.2" r="2.3"/>
<circle cx="116.1" cy="807.2" r="2.3"/>
<circle cx="123.0" cy="804.8" r="2.3"/>
<circle cx="123.1" cy="806.0" r="2.3"/>
<circle cx="118.8" cy="802.7" r="2.3"/>
<circle cx="116.3" cy="803.7" r="2.3"/>
<circle cx="123.2" cy="806.6" r="2.3"/>
<circle cx="131.5" cy="808.8" r="2.3"/>
<circle cx="132.5" cy="803.2" r="2.3"/>
<circle cx="125.8" cy="800.2" r="2.3"/>
<circle cx="130.7" cy="801.6" r="2.3"/>
<circle cx="131.8" cy="808.3" r="2.3"/>
<circle cx="125.6" cy="808.3" r="2.3"/>
<circle cx="127.2" cy="805.2" r="2.3"/>
<circle cx="132.5" cy="800.4" r="2.3"/>
<circle cx="126.3" cy="802.6" r="2.3"/>
<circle cx="132.3" cy="809.0" r="2.3"/>
<circle cx="138.5" cy="801.1" r="2.3"/>
<circle cx="142.3" cy="803.0" r="2.3"/>
<circle cx="140.1" cy="809.6" r="2.3"/>
<circle cx="141.6" cy="806.3" r="2.3"/>
<circle cx="140.1" cy="805.2" r="2.3"/>
<circle cx="139.4" cy="804.4" r="2.3"/>
<circle cx="141.1" cy="809.2" r="2.3"/>
<circle cx="134.3" cy="802.3" r="2.3"/>
<circle cx="150.6" cy="808.4" r="2.3"/>
<circle cx="149.7" cy="804.2" r="2.3"/>
<circle cx="146.4" cy="806.4" r="2.3"/>
<circle cx="144.5" cy="802.5" r="2.3"/>
<circle cx="152.2" cy="805.3" r="2.3"/>
<circle cx="150.0" cy="801.7" r="2.3"/>
<circle cx="144.7" cy="808.3" r="2.3"/>
<circle cx="145.2" cy="805.1" r="2.3"/>
<circle cx="159.9" cy="804.1" r="2.3"/>
<circle cx="157.4" cy="805.7" r="2.3"/>
<circle cx="159.7" cy="801.0" r="2.3"/>
<circle cx="157.4" cy="807.0" r="2.3"/>
<circle cx="160.0" cy="802.7" r="2.3"/>
<circle cx="159.3" cy="804.3" r="2.3"/>
<circle cx="154.8" cy="801.5" r="2.3"/>
<circle cx="161.9" cy="806.6" r="2.3"/>
<circle cx="167.0" cy="804.0" r="2.3"/>
<circle cx="166.2" cy="800.5" r="2.3"/>
<circle cx="166.8" cy="803.5" r="2.3"/>
<circle cx="168.0" cy="801.0" r="2.3"/>
<circle cx="171.9" cy="804.5" r="2.3"/>
<circle cx="164.1" cy="806.5" r="2.3"/>
<circle cx="165.1" cy="806.8" r="2.3"/>
<circle cx="168.5" cy="805.3" r="2.3"/>
<circle cx="167.6" cy="808.6" r="2.3"/>
<circle cx="167.0" cy="801.2" r="2.3"/>
<circle cx="179.5" cy="807.0" r="2.3"/>
<circle cx="176.3" cy="805.3" r="2.3"/>
<circle cx="181.2" cy="801.1" r="2.3"/>
<circle cx="182.5" cy="803.3" r="2.3"/>
<circle cx="179.0" cy="802.9" r="2.3"/>
<circle cx="181.8" cy="806.1" r="2.3"/>
<circle cx="178.1" cy="803.4" r="2.3"/>
<circle cx="181.7" cy="803.2" r="2.3"/>
<circle cx="186.3" cy="800.3" r="2.3"/>
<circle cx="192.7" cy="808.7" r="2.3"/>
<circle cx="192.0" cy="809.9" r="2.3"/>
<circle cx="188.3" cy="809.0" r="2.3"/>
<circle cx="190.3" cy="802.6" r="2.3"/>
<circle cx="187.5" cy="803.2" r="2.3"/>
<circle cx="187.2" cy="802.7" r="2.3"/>
<circle cx="187.4" cy="809.4" r="2.3"/>
<circle cx="84.5" cy="814.6" r="2.3"/>
<circle cx="91.6" cy="817.9" r="2.3"/>
<circle cx="84.3" cy="818.2" r="2.3"/>
<circle cx="87.2" cy="816.4" r="2.3"/>
<circle cx="89.9" cy="818.3" r="2.3"/>
<circle cx="93.2" cy="817.5" r="2.3"/>
<circle cx="85.5" cy="813.0" r="2.3"/>
<circle cx="86.9" cy="810.9" r="2.3"/>
<circle cx="86.5" cy="812.1" r="2.3"/>
<circle cx="93.8" cy="816.2" r="2.3"/>
<circle cx="92.8" cy="819.6" r="2.3"/>
<circle cx="92.6" cy="817.3" r="2.3"/>
<circle cx="87.5" cy="813.2" r="2.3"/>
<circle cx="98.2" cy="818.5" r="2.3"/>
<circle cx="97.0" cy="815.1" r="2.3"/>
<circle cx="101.9" cy="810.9" r="2.3"/>
<circle cx="100.5" cy="810.3" r="2.3"/>
<circle cx="96.5" cy="816.7" r="2.3"/>
<circle cx="100.8" cy="819.7" r="2.3"/>
<circle cx="100.6" cy="818.8" r="2.3"/>
<circle cx="101.9" cy="812.3" r="2.3"/>
<circle cx="113.7" cy="810.3" r="2.3"/>
<circle cx="111.4" cy="814.1" r="2.3"/>
<circle cx="106.4" cy="813.3" r="2.3"/>
<circle cx="111.3" cy="819.1" r="2.3"/>
<circle cx="108.7" cy="818.8" r="2.3"/>
<circle cx="107.3" cy="818.6" r="2.3"/>
<circle cx="113.4" cy="816.9" r="2.3"/>
<circle cx="107.7" cy="812.8" r="2.3"/>
<circle cx="115.4" cy="818.1" r="2.3"/>
<circle cx="122.2" cy="812.2" r="2.3"/>
<circle cx="115.5" cy="819.1" r="2.3"/>
<circle cx="122.3" cy="815.1" r="2.3"/>
<circle cx="114.2" cy="818.0" r="2.3"/>
<circle cx="116.5" cy="815.1" r="2.3"/>
<circle cx="115.9" cy="818.5" r="2.3"/>
<circle cx="120.1" cy="810.2" r="2.3"/>
<circle cx="120.7" cy="812.3" r="2.3"/>
<circle cx="121.7" cy="812.6" r="2.3"/>
<circle cx="129.4" cy="816.5" r="2.3"/>
<circle cx="127.6" cy="811.2" r="2.3"/>
<circle cx="127.8" cy="810.6" r="2.3"/>
<circle cx="132.2" cy="813.1" r="2.3"/>
<circle cx="124.1" cy="814.7" r="2.3"/>
<circle cx="128.4" cy="816.7" r="2.3"/>
<circle cx="128.6" cy="810.6" r="2.3"/>
<circle cx="124.0" cy="819.7" r="2.3"/>
<circle cx="139.9" cy="813.9" r="2.3"/>
<circle cx="136.2" cy="817.1" r="2.3"/>
<circle cx="142.1" cy="816.0" r="2.3"/>
<circle cx="136.1" cy="813.1" r="2.3"/>
<circle cx="142.5" cy="814.0" r="2.3"/>
<circle cx="140.6" cy="810.2" r="2.3"/>
<circle cx="149.8" cy="818.7" r="2.3"/>
<circle cx="152.6" cy="818.4" r="2.3"/>
<circle cx="147.8" cy="813.4" r="2.3"/>
<circle cx="148.9" cy="814.1" r="2.3"/>
<circle cx="160.3" cy="814.0" r="2.3"/>
<circle cx="163.2" cy="819.7" r="2.3"/>
<circle cx="158.4" cy="816.8" r="2.3"/>
<circle cx="163.0" cy="819.6" r="2.3"/>
<circle cx="158.5" cy="813.2" r="2.3"/>
<circle cx="154.1" cy="810.5" r="2.3"/>
<circle cx="168.9" cy="811.3" r="2.3"/>
<circle cx="168.6" cy="818.6" r="2.3"/>
<circle cx="167.1" cy="815.1" r="2.3"/>
<circle cx="173.5" cy="814.6" r="2.3"/>
<circle cx="182.1" cy="819.6" r="2.3"/>
<circle cx="177.0" cy="812.4" r="2.3"/>
<circle cx="181.6" cy="814.9" r="2.3"/>
<circle cx="176.4" cy="813.0" r="2.3"/>
<circle cx="180.5" cy="813.6" r="2.3"/>
<circle cx="180.8" cy="812.9" r="2.3"/>
<circle cx="186.7" cy="813.1" r="2.3"/>
<circle cx="192.1" cy="811.8" r="2.3"/>
<circle cx="185.6" cy="810.9" r="2.3"/>
<circle cx="190.8" cy="818.7" r="2.3"/>
<circle cx="86.6" cy="829.8" r="2.3"/>
<circle cx="90.8" cy="824.7" r="2.3"/>
<circle cx="88.5" cy="828.5" r="2.3"/>
<circle cx="89.9" cy="827.3" r="2.3"/>
<circle cx="85.8" cy="825.6" r="2.3"/>
<circle cx="92.0" cy="823.0" r="2.3"/>
<circle cx="86.9" cy="822.7" r="2.3"/>
<circle cx="85.7" cy="823.3" r="2.3"/>
<circle cx="86.5" cy="820.2" r="2.3"/>
<circle cx="88.3" cy="824.0" r="2.3"/>
<circle cx="100.2" cy="822.7" r="2.3"/>
<circle cx="103.4" cy="821.5" r="2.3"/>
<circle cx="98.8" cy="820.9" r="2.3"/>
<circle cx="98.6" cy="823.5" r="2.3"/>
<circle cx="108.5" cy="822.2" r="2.3"/>
<circle cx="107.8" cy="826.6" r="2.3"/>
<circle cx="106.9" cy="822.7" r="2.3"/>
<circle cx="105.1" cy="824.0" r="2.3"/>
<circle cx="116.2" cy="826.8" r="2.3"/>
<circle cx="118.9" cy="822.3" r="2.3"/>
<circle cx="120.5" cy="829.8" r="2.3"/>
<circle cx="119.1" cy="824.6" r="2.3"/>
<circle cx="120.1" cy="825.7" r="2.3"/>
<circle cx="124.0" cy="825.3" r="2.3"/>
<circle cx="124.7" cy="826.3" r="2.3"/>
<circle cx="130.0" cy="824.2" r="2.3"/>
<circle cx="130.4" cy="828.0" r="2.3"/>
<circle cx="138.6" cy="822.7" r="2.3"/>
<circle cx="144.5" cy="824.0" r="2.3"/>
<circle cx="150.3" cy="820.3" r="2.3"/>
<circle cx="153.3" cy="825.9" r="2.3"/>
<circle cx="146.8" cy="825.0" r="2.3"/>
<circle cx="161.1" cy="825.3" r="2.3"/>
<circle cx="157.6" cy="828.5" r="2.3"/>
<circle cx="161.4" cy="829.9" r="2.3"/>
<circle cx="167.9" cy="825.8" r="2.3"/>
<circle cx="165.0" cy="823.3" r="2.3"/>
<circle cx="182.1" cy="829.2" r="2.3"/>
<circle cx="182.6" cy="821.9" r="2.3"/>
<circle cx="177.0" cy="826.7" r="2.3"/>
<circle cx="193.1" cy="822.4" r="2.3"/>
<circle cx="185.6" cy="823.0" r="2.3"/>
<circle cx="87.4" cy="832.0" r="2.3"/>
<circle cx="85.0" cy="832.5" r="2.3"/>
<circle cx="102.9" cy="837.8" r="2.3"/>
<circle cx="102.1" cy="835.7" r="2.3"/>
<circle cx="109.4" cy="834.2" r="2.3"/>
<circle cx="107.3" cy="831.9" r="2.3"/>
<circle cx="114.2" cy="835.3" r="2.3"/>
<circle cx="117.9" cy="833.8" r="2.3"/>
<circle cx="123.4" cy="830.3" r="2.3"/>
<circle cx="125.2" cy="837.8" r="2.3"/>
<circle cx="138.6" cy="836.1" r="2.3"/>
<circle cx="140.3" cy="837.8" r="2.3"/>
<circle cx="142.6" cy="838.1" r="2.3"/>
<circle cx="150.7" cy="835.8" r="2.3"/>
<circle cx="145.8" cy="836.9" r="2.3"/>
<circle cx="159.5" cy="837.6" r="2.3"/>
<circle cx="155.2" cy="839.3" r="2.3"/>
<circle cx="173.0" cy="831.2" r="2.3"/>
<circle cx="173.2" cy="839.0" r="2.3"/>
<circle cx="174.4" cy="833.0" r="2.3"/>
<circle cx="179.2" cy="838.4" r="2.3"/>
<circle cx="192.3" cy="831.5" r="2.3"/>
<circle cx="192.2" cy="837.8" r="2.3"/>
<circle cx="84.3" cy="841.2" r="2.3"/>
<circle cx="93.9" cy="841.2" r="2.3"/>
<circle cx="109.3" cy="836.8" r="2.3"/>
<circle cx="113.2" cy="838.5" r="2.3"/>
<circle cx="117.5" cy="835.9" r="2.3"/>
<circle cx="129.8" cy="835.0" r="2.3"/>
<circle cx="133.3" cy="839.4" r="2.3"/>
<circle cx="138.6" cy="842.9" r="2.3"/>
<circle cx="145.6" cy="841.2" r="2.3"/>
<circle cx="147.3" cy="836.8" r="2.3"/>
<circle cx="152.6" cy="836.8" r="2.3"/>
<circle cx="158.7" cy="835.0" r="2.3"/>
<circle cx="164.0" cy="840.0" r="2.3"/>
<circle cx="175.4" cy="840.3" r="2.3"/>
<circle cx="179.7" cy="840.3" r="2.3"/>
<circle cx="167.5" cy="847.3" r="2.3"/>
<circle cx="171.0" cy="851.7" r="2.3"/>
<circle cx="178.0" cy="848.7" r="2.3"/>
<circle cx="188.5" cy="853.4" r="2.3"/>
<circle cx="107.6" cy="847.0" r="2.3"/>
<circle cx="87.2" cy="854.7" r="2.3"/>
<circle cx="83.9" cy="863.6" r="2.3"/>
<circle cx="105.3" cy="858.3" r="2.3"/>
<circle cx="135.4" cy="851.7" r="2.3"/>
<circle cx="122.8" cy="862.2" r="2.3"/>
<circle cx="129.8" cy="866.6" r="2.3"/>
<circle cx="134.2" cy="867.4" r="2.3"/>
<circle cx="135.9" cy="868.0" r="2.3"/>
<circle cx="112.6" cy="869.7" r="2.3"/>
<circle cx="183.2" cy="865.2" r="2.3"/>
<circle cx="168.4" cy="889.3" r="2.3"/>
<circle cx="126.7" cy="897.2" r="2.3"/>
<circle cx="147.3" cy="896.4" r="2.3"/>
<circle cx="192.6" cy="809.1" r="2.3"/>
<circle cx="195.3" cy="801.1" r="2.3"/>
<circle cx="199.2" cy="806.9" r="2.3"/>
<circle cx="201.8" cy="801.9" r="2.3"/>
<circle cx="193.9" cy="802.6" r="2.3"/>
<circle cx="201.2" cy="808.1" r="2.3"/>
<circle cx="201.7" cy="808.2" r="2.3"/>
<circle cx="201.7" cy="808.1" r="2.3"/>
<circle cx="197.2" cy="807.5" r="2.3"/>
<circle cx="196.8" cy="808.1" r="2.3"/>
<circle cx="202.4" cy="802.5" r="2.3"/>
<circle cx="203.8" cy="807.6" r="2.3"/>
<circle cx="202.1" cy="805.4" r="2.3"/>
<circle cx="211.4" cy="807.0" r="2.3"/>
<circle cx="209.3" cy="801.8" r="2.3"/>
<circle cx="206.7" cy="800.4" r="2.3"/>
<circle cx="206.7" cy="800.4" r="2.3"/>
<circle cx="205.3" cy="805.1" r="2.3"/>
<circle cx="209.3" cy="802.7" r="2.3"/>
<circle cx="209.6" cy="805.3" r="2.3"/>
<circle cx="218.7" cy="807.2" r="2.3"/>
<circle cx="221.9" cy="808.1" r="2.3"/>
<circle cx="221.6" cy="808.0" r="2.3"/>
<circle cx="219.8" cy="808.2" r="2.3"/>
<circle cx="213.9" cy="803.9" r="2.3"/>
<circle cx="216.9" cy="809.6" r="2.3"/>
<circle cx="220.8" cy="807.9" r="2.3"/>
<circle cx="216.4" cy="807.8" r="2.3"/>
<circle cx="218.9" cy="805.7" r="2.3"/>
<circle cx="214.3" cy="808.8" r="2.3"/>
<circle cx="222.6" cy="804.9" r="2.3"/>
<circle cx="228.5" cy="806.7" r="2.3"/>
<circle cx="226.0" cy="802.7" r="2.3"/>
<circle cx="225.3" cy="807.7" r="2.3"/>
<circle cx="231.4" cy="809.2" r="2.3"/>
<circle cx="226.2" cy="805.2" r="2.3"/>
<circle cx="223.5" cy="802.3" r="2.3"/>
<circle cx="222.9" cy="806.1" r="2.3"/>
<circle cx="225.4" cy="801.7" r="2.3"/>
<circle cx="226.1" cy="804.6" r="2.3"/>
<circle cx="232.8" cy="809.7" r="2.3"/>
<circle cx="233.3" cy="805.8" r="2.3"/>
<circle cx="241.9" cy="801.0" r="2.3"/>
<circle cx="234.1" cy="808.1" r="2.3"/>
<circle cx="240.5" cy="806.7" r="2.3"/>
<circle cx="240.0" cy="806.7" r="2.3"/>
<circle cx="240.0" cy="802.5" r="2.3"/>
<circle cx="240.2" cy="809.2" r="2.3"/>
<circle cx="234.6" cy="807.2" r="2.3"/>
<circle cx="233.0" cy="804.0" r="2.3"/>
<circle cx="252.0" cy="806.3" r="2.3"/>
<circle cx="244.3" cy="808.2" r="2.3"/>
<circle cx="248.7" cy="807.8" r="2.3"/>
<circle cx="249.7" cy="801.8" r="2.3"/>
<circle cx="244.3" cy="804.7" r="2.3"/>
<circle cx="242.2" cy="802.9" r="2.3"/>
<circle cx="248.9" cy="803.2" r="2.3"/>
<circle cx="245.4" cy="803.3" r="2.3"/>
<circle cx="200.4" cy="812.2" r="2.3"/>
<circle cx="200.7" cy="817.9" r="2.3"/>
<circle cx="193.9" cy="815.1" r="2.3"/>
<circle cx="196.7" cy="816.2" r="2.3"/>
<circle cx="198.6" cy="816.9" r="2.3"/>
<circle cx="192.4" cy="817.0" r="2.3"/>
<circle cx="194.4" cy="815.4" r="2.3"/>
<circle cx="192.7" cy="819.4" r="2.3"/>
<circle cx="202.4" cy="810.9" r="2.3"/>
<circle cx="202.9" cy="810.7" r="2.3"/>
<circle cx="202.1" cy="819.5" r="2.3"/>
<circle cx="206.7" cy="815.1" r="2.3"/>
<circle cx="211.5" cy="810.1" r="2.3"/>
<circle cx="208.9" cy="813.7" r="2.3"/>
<circle cx="209.1" cy="815.3" r="2.3"/>
<circle cx="210.5" cy="817.7" r="2.3"/>
<circle cx="221.7" cy="812.8" r="2.3"/>
<circle cx="221.5" cy="816.2" r="2.3"/>
<circle cx="212.6" cy="820.0" r="2.3"/>
<circle cx="215.5" cy="813.1" r="2.3"/>
<circle cx="216.2" cy="817.4" r="2.3"/>
<circle cx="216.9" cy="814.3" r="2.3"/>
<circle cx="221.1" cy="813.9" r="2.3"/>
<circle cx="215.1" cy="817.0" r="2.3"/>
<circle cx="230.4" cy="812.5" r="2.3"/>
<circle cx="230.8" cy="811.0" r="2.3"/>
<circle cx="230.3" cy="816.2" r="2.3"/>
<circle cx="227.7" cy="816.6" r="2.3"/>
<circle cx="227.4" cy="812.2" r="2.3"/>
<circle cx="225.4" cy="810.9" r="2.3"/>
<circle cx="225.7" cy="818.7" r="2.3"/>
<circle cx="224.4" cy="819.8" r="2.3"/>
<circle cx="238.4" cy="814.6" r="2.3"/>
<circle cx="238.7" cy="815.3" r="2.3"/>
<circle cx="241.6" cy="812.2" r="2.3"/>
<circle cx="241.3" cy="816.0" r="2.3"/>
<circle cx="238.3" cy="818.5" r="2.3"/>
<circle cx="232.1" cy="819.2" r="2.3"/>
<circle cx="242.9" cy="813.4" r="2.3"/>
<circle cx="243.8" cy="812.0" r="2.3"/>
<circle cx="243.4" cy="818.8" r="2.3"/>
<circle cx="249.3" cy="814.1" r="2.3"/>
<circle cx="251.3" cy="813.9" r="2.3"/>
<circle cx="248.6" cy="810.1" r="2.3"/>
<circle cx="194.9" cy="824.8" r="2.3"/>
<circle cx="193.9" cy="827.9" r="2.3"/>
<circle cx="195.9" cy="829.2" r="2.3"/>
<circle cx="193.5" cy="825.3" r="2.3"/>
<circle cx="209.2" cy="824.3" r="2.3"/>
<circle cx="205.6" cy="822.4" r="2.3"/>
<circle cx="204.2" cy="821.7" r="2.3"/>
<circle cx="208.5" cy="827.7" r="2.3"/>
<circle cx="202.4" cy="829.1" r="2.3"/>
<circle cx="205.8" cy="820.5" r="2.3"/>
<circle cx="214.7" cy="820.6" r="2.3"/>
<circle cx="220.4" cy="826.4" r="2.3"/>
<circle cx="213.5" cy="821.1" r="2.3"/>
<circle cx="213.6" cy="825.6" r="2.3"/>
<circle cx="227.6" cy="829.3" r="2.3"/>
<circle cx="230.6" cy="820.8" r="2.3"/>
<circle cx="227.4" cy="825.6" r="2.3"/>
<circle cx="226.0" cy="820.6" r="2.3"/>
<circle cx="235.4" cy="821.9" r="2.3"/>
<circle cx="241.4" cy="828.6" r="2.3"/>
<circle cx="236.0" cy="823.0" r="2.3"/>
<circle cx="241.2" cy="826.2" r="2.3"/>
<circle cx="251.1" cy="825.0" r="2.3"/>
<circle cx="245.3" cy="824.3" r="2.3"/>
<circle cx="242.1" cy="822.9" r="2.3"/>
<circle cx="243.0" cy="824.0" r="2.3"/>
<circle cx="199.3" cy="836.1" r="2.3"/>
<circle cx="197.5" cy="834.1" r="2.3"/>
<circle cx="201.4" cy="835.5" r="2.3"/>
<circle cx="209.5" cy="835.6" r="2.3"/>
<circle cx="211.4" cy="833.9" r="2.3"/>
<circle cx="218.1" cy="834.1" r="2.3"/>
<circle cx="219.3" cy="835.5" r="2.3"/>
<circle cx="214.3" cy="836.4" r="2.3"/>
<circle cx="229.0" cy="833.5" r="2.3"/>
<circle cx="222.9" cy="832.4" r="2.3"/>
<circle cx="230.3" cy="830.2" r="2.3"/>
<circle cx="234.3" cy="838.3" r="2.3"/>
<circle cx="233.1" cy="834.0" r="2.3"/>
<circle cx="243.7" cy="839.0" r="2.3"/>
<circle cx="244.7" cy="832.9" r="2.3"/>
<circle cx="262.1" cy="803.5" r="2.3"/>
<circle cx="267.3" cy="806.1" r="2.3"/>
<circle cx="271.7" cy="808.8" r="2.3"/>
<circle cx="257.7" cy="807.9" r="2.3"/>
<circle cx="261.2" cy="812.3" r="2.3"/>
<circle cx="269.1" cy="816.6" r="2.3"/>
<circle cx="274.3" cy="814.0" r="2.3"/>
<circle cx="282.8" cy="812.6" r="2.3"/>
<circle cx="263.8" cy="818.4" r="2.3"/>
<circle cx="259.4" cy="821.9" r="2.3"/>
<circle cx="263.0" cy="825.4" r="2.3"/>
<circle cx="257.7" cy="828.0" r="2.3"/>
<circle cx="270.0" cy="832.4" r="2.3"/>
<circle cx="271.7" cy="831.5" r="2.3"/>
<circle cx="282.8" cy="836.3" r="2.3"/>
<circle cx="248.1" cy="835.9" r="2.3"/>
<circle cx="255.1" cy="837.7" r="2.3"/>
<circle cx="261.2" cy="835.9" r="2.3"/>
<circle cx="262.1" cy="840.3" r="2.3"/>
<circle cx="265.6" cy="843.8" r="2.3"/>
<circle cx="194.6" cy="836.8" r="2.3"/>
<circle cx="198.1" cy="840.3" r="2.3"/>
<circle cx="199.9" cy="834.2" r="2.3"/>
<circle cx="193.8" cy="851.7" r="2.3"/>
<circle cx="200.4" cy="852.2" r="2.3"/>
<circle cx="201.6" cy="860.4" r="2.3"/>
<circle cx="205.1" cy="865.7" r="2.3"/>
<circle cx="210.4" cy="871.0" r="2.3"/>
<circle cx="213.9" cy="873.2" r="2.3"/>
<circle cx="216.5" cy="861.3" r="2.3"/>
<circle cx="207.4" cy="855.7" r="2.3"/>
<circle cx="238.4" cy="847.3" r="2.3"/>
<circle cx="239.0" cy="854.3" r="2.3"/>
<circle cx="246.7" cy="847.0" r="2.3"/>
<circle cx="252.4" cy="845.5" r="2.3"/>
<circle cx="254.2" cy="842.9" r="2.3"/>
<circle cx="251.6" cy="850.8" r="2.3"/>
<circle cx="253.3" cy="856.1" r="2.3"/>
<circle cx="243.7" cy="856.1" r="2.3"/>
<circle cx="244.6" cy="860.4" r="2.3"/>
<circle cx="242.8" cy="861.7" r="2.3"/>
<circle cx="248.1" cy="859.6" r="2.3"/>
<circle cx="246.3" cy="864.8" r="2.3"/>
<circle cx="262.6" cy="868.0" r="2.3"/>
<circle cx="246.7" cy="872.7" r="2.3"/>
<circle cx="247.2" cy="876.2" r="2.3"/>
<circle cx="246.3" cy="881.5" r="2.3"/>
<circle cx="249.8" cy="882.3" r="2.3"/>
<circle cx="252.4" cy="880.6" r="2.3"/>
<circle cx="255.1" cy="880.9" r="2.3"/>
<circle cx="249.8" cy="885.0" r="2.3"/>
<circle cx="234.6" cy="880.2" r="2.3"/>
<circle cx="274.9" cy="880.6" r="2.3"/>
<circle cx="279.6" cy="884.1" r="2.3"/>
<circle cx="244.6" cy="890.2" r="2.3"/>
<circle cx="252.4" cy="888.5" r="2.3"/>
<circle cx="254.2" cy="891.1" r="2.3"/>
<circle cx="258.6" cy="888.5" r="2.3"/>
<circle cx="260.3" cy="892.9" r="2.3"/>
<circle cx="251.6" cy="895.5" r="2.3"/>
<circle cx="254.2" cy="897.2" r="2.3"/>
<circle cx="260.3" cy="896.4" r="2.3"/>
<circle cx="262.1" cy="897.2" r="2.3"/>
<circle cx="229.3" cy="896.4" r="2.3"/>
<circle cx="234.9" cy="895.5" r="2.3"/>
<circle cx="237.5" cy="897.2" r="2.3"/>
<circle cx="236.7" cy="899.9" r="2.3"/>
<circle cx="234.0" cy="902.5" r="2.3"/>
<circle cx="246.3" cy="898.5" r="2.3"/>
<circle cx="252.4" cy="899.9" r="2.3"/>
<circle cx="257.7" cy="902.0" r="2.3"/>
<circle cx="265.6" cy="899.5" r="2.3"/>
<circle cx="271.7" cy="902.5" r="2.3"/>
<circle cx="280.0" cy="897.2" r="2.3"/>
</g>
<line x1="72.70" y1="779.90" x2="305.00" y2="819.60" stroke="#333" stroke-width="2.6"/>
<circle cx="100.60" cy="743.10" r="4.3" fill="#f00" stroke="#000" stroke-width="1.2"/>
<rect x="91.65" y="749.20" width="17.5" height="54.30" rx="2.5" fill="#fff" stroke="#000" stroke-width="1.2"/>
<text x="104.70" y="776.35" font-size="12" font-weight="bold" text-anchor="middle" fill="#000" transform="rotate(-90 104.70 776.35)">HS746T</text>
<circle cx="189.70" cy="783.90" r="4.3" fill="#f00" stroke="#000" stroke-width="1.2"/>
<rect x="180.85" y="790.40" width="17.5" height="41.60" rx="2.5" fill="#fff" stroke="#000" stroke-width="1.2"/>
<text x="193.90" y="811.20" font-size="12" font-weight="bold" text-anchor="middle" fill="#000" transform="rotate(-90 193.90 811.20)">MKN7</text>
<circle cx="210.90" cy="796.00" r="4.3" fill="#f00" stroke="#000" stroke-width="1.2"/>
<rect x="202.45" y="802.60" width="17.5" height="48.20" rx="2.5" fill="#fff" stroke="#000" stroke-width="1.2"/>
<text x="215.50" y="826.70" font-size="12" font-weight="bold" text-anchor="middle" fill="#000" transform="rotate(-90 215.50 826.70)">MKN74</text>
<circle cx="227.00" cy="813.10" r="4.3" fill="#f00" stroke="#000" stroke-width="1.2"/>
<rect x="218.25" y="820.10" width="17.5" height="49.90" rx="2.5" fill="#fff" stroke="#000" stroke-width="1.2"/>
<text x="231.30" y="845.05" font-size="12" font-weight="bold" text-anchor="middle" fill="#000" transform="rotate(-90 231.30 845.05)">NCIN87</text>
<circle cx="232.80" cy="779.50" r="4.3" fill="#f00" stroke="#000" stroke-width="1.2"/>
<rect x="236.65" y="786.00" width="17.5" height="47.30" rx="2.5" fill="#fff" stroke="#000" stroke-width="1.2"/>
<text x="249.70" y="809.65" font-size="12" font-weight="bold" text-anchor="middle" fill="#000" transform="rotate(-90 249.70 809.65)">MKN45</text>
<g fill="#10a2ec" stroke="#0e96dc" stroke-width="0.4">
<circle cx="431.4" cy="720.1" r="2.0"/>
<circle cx="442.5" cy="737.5" r="2.0"/>
<circle cx="626.0" cy="805.0" r="2.0"/>
<circle cx="586.5" cy="891.2" r="2.0"/>
<circle cx="577.5" cy="843.1" r="2.0"/>
<circle cx="575.6" cy="845.1" r="2.0"/>
<circle cx="588.0" cy="850.9" r="2.0"/>
<circle cx="591.1" cy="856.6" r="2.0"/>
<circle cx="567.2" cy="697.5" r="2.0"/>
<circle cx="587.4" cy="717.2" r="2.0"/>
<circle cx="574.2" cy="720.9" r="2.0"/>
<circle cx="564.0" cy="724.5" r="2.0"/>
<circle cx="575.7" cy="725.3" r="2.0"/>
<circle cx="582.6" cy="726.4" r="2.0"/>
<circle cx="591.0" cy="726.7" r="2.0"/>
<circle cx="594.2" cy="726.4" r="2.0"/>
<circle cx="550.9" cy="731.8" r="2.0"/>
<circle cx="560.4" cy="729.6" r="2.0"/>
<circle cx="567.7" cy="730.8" r="2.0"/>
<circle cx="568.4" cy="731.4" r="2.0"/>
<circle cx="573.5" cy="729.6" r="2.0"/>
<circle cx="574.2" cy="732.8" r="2.0"/>
<circle cx="576.4" cy="732.6" r="2.0"/>
<circle cx="572.0" cy="735.5" r="2.0"/>
<circle cx="575.0" cy="735.2" r="2.0"/>
<circle cx="577.9" cy="735.5" r="2.0"/>
<circle cx="581.5" cy="736.9" r="2.0"/>
<circle cx="564.3" cy="735.5" r="2.0"/>
<circle cx="569.6" cy="737.7" r="2.0"/>
<circle cx="529.0" cy="735.2" r="2.0"/>
<circle cx="537.7" cy="737.4" r="2.0"/>
<circle cx="541.1" cy="756.6" r="2.0"/>
<circle cx="546.9" cy="756.2" r="2.0"/>
<circle cx="548.7" cy="764.4" r="2.0"/>
<circle cx="538.5" cy="768.3" r="2.0"/>
<circle cx="542.1" cy="767.6" r="2.0"/>
<circle cx="545.0" cy="768.3" r="2.0"/>
<circle cx="539.9" cy="777.1" r="2.0"/>
<circle cx="549.4" cy="776.4" r="2.0"/>
<circle cx="539.9" cy="777.0" r="2.0"/>
<circle cx="544.7" cy="781.0" r="2.0"/>
<circle cx="549.4" cy="776.6" r="2.0"/>
<circle cx="584.5" cy="812.6" r="2.0"/>
<circle cx="588.1" cy="810.9" r="2.0"/>
<circle cx="593.2" cy="812.6" r="2.0"/>
<circle cx="597.6" cy="814.1" r="2.0"/>
<circle cx="574.0" cy="815.3" r="2.0"/>
<circle cx="577.4" cy="816.4" r="2.0"/>
<circle cx="570.1" cy="819.9" r="2.0"/>
<circle cx="584.2" cy="819.3" r="2.0"/>
<circle cx="578.3" cy="824.0" r="2.0"/>
<circle cx="545.0" cy="821.4" r="2.0"/>
<circle cx="574.5" cy="832.5" r="2.0"/>
<circle cx="578.6" cy="834.2" r="2.0"/>
<circle cx="580.1" cy="836.4" r="2.0"/>
<circle cx="588.1" cy="831.6" r="2.0"/>
<circle cx="575.7" cy="844.5" r="2.0"/>
<circle cx="577.4" cy="842.7" r="2.0"/>
<circle cx="588.1" cy="850.7" r="2.0"/>
<circle cx="591.0" cy="856.6" r="2.0"/>
<circle cx="554.1" cy="745.4" r="2.0"/>
<circle cx="558.6" cy="741.8" r="2.0"/>
<circle cx="552.3" cy="740.3" r="2.0"/>
<circle cx="561.2" cy="740.1" r="2.0"/>
<circle cx="561.6" cy="745.1" r="2.0"/>
<circle cx="579.9" cy="746.9" r="2.0"/>
<circle cx="573.8" cy="744.1" r="2.0"/>
<circle cx="576.9" cy="743.3" r="2.0"/>
<circle cx="580.7" cy="748.4" r="2.0"/>
<circle cx="596.2" cy="741.1" r="2.0"/>
<circle cx="590.7" cy="740.9" r="2.0"/>
<circle cx="609.6" cy="741.1" r="2.0"/>
<circle cx="606.3" cy="749.7" r="2.0"/>
<circle cx="550.4" cy="753.9" r="2.0"/>
<circle cx="554.8" cy="759.2" r="2.0"/>
<circle cx="551.9" cy="752.6" r="2.0"/>
<circle cx="552.5" cy="750.5" r="2.0"/>
<circle cx="566.7" cy="758.2" r="2.0"/>
<circle cx="564.4" cy="750.4" r="2.0"/>
<circle cx="567.1" cy="757.4" r="2.0"/>
<circle cx="576.5" cy="753.3" r="2.0"/>
<circle cx="578.3" cy="756.3" r="2.0"/>
<circle cx="575.9" cy="755.4" r="2.0"/>
<circle cx="572.3" cy="754.6" r="2.0"/>
<circle cx="577.9" cy="756.8" r="2.0"/>
<circle cx="573.5" cy="758.2" r="2.0"/>
<circle cx="578.4" cy="750.4" r="2.0"/>
<circle cx="571.6" cy="752.2" r="2.0"/>
<circle cx="580.1" cy="757.5" r="2.0"/>
<circle cx="586.5" cy="755.4" r="2.0"/>
<circle cx="589.9" cy="753.6" r="2.0"/>
<circle cx="582.0" cy="751.1" r="2.0"/>
<circle cx="583.4" cy="758.4" r="2.0"/>
<circle cx="586.1" cy="750.6" r="2.0"/>
<circle cx="584.3" cy="750.5" r="2.0"/>
<circle cx="586.2" cy="751.2" r="2.0"/>
<circle cx="591.8" cy="756.4" r="2.0"/>
<circle cx="598.4" cy="756.2" r="2.0"/>
<circle cx="592.9" cy="756.5" r="2.0"/>
<circle cx="602.7" cy="750.1" r="2.0"/>
<circle cx="552.7" cy="766.9" r="2.0"/>
<circle cx="556.3" cy="761.9" r="2.0"/>
<circle cx="558.4" cy="768.3" r="2.0"/>
<circle cx="562.8" cy="769.6" r="2.0"/>
<circle cx="562.6" cy="760.6" r="2.0"/>
<circle cx="565.1" cy="768.6" r="2.0"/>
<circle cx="566.0" cy="765.5" r="2.0"/>
<circle cx="574.9" cy="762.8" r="2.0"/>
<circle cx="573.0" cy="764.0" r="2.0"/>
<circle cx="575.5" cy="769.4" r="2.0"/>
<circle cx="570.7" cy="762.5" r="2.0"/>
<circle cx="579.4" cy="766.6" r="2.0"/>
<circle cx="570.7" cy="764.4" r="2.0"/>
<circle cx="576.5" cy="769.1" r="2.0"/>
<circle cx="570.8" cy="769.0" r="2.0"/>
<circle cx="577.7" cy="762.8" r="2.0"/>
<circle cx="575.3" cy="768.3" r="2.0"/>
<circle cx="572.4" cy="767.0" r="2.0"/>
<circle cx="575.6" cy="760.7" r="2.0"/>
<circle cx="572.7" cy="764.1" r="2.0"/>
<circle cx="571.4" cy="769.4" r="2.0"/>
<circle cx="572.5" cy="762.3" r="2.0"/>
<circle cx="576.0" cy="765.3" r="2.0"/>
<circle cx="573.2" cy="763.3" r="2.0"/>
<circle cx="585.0" cy="769.1" r="2.0"/>
<circle cx="580.8" cy="769.1" r="2.0"/>
<circle cx="589.4" cy="766.8" r="2.0"/>
<circle cx="588.0" cy="763.8" r="2.0"/>
<circle cx="589.6" cy="767.4" r="2.0"/>
<circle cx="586.9" cy="764.5" r="2.0"/>
<circle cx="582.2" cy="766.9" r="2.0"/>
<circle cx="587.4" cy="760.1" r="2.0"/>
<circle cx="583.1" cy="765.4" r="2.0"/>
<circle cx="582.1" cy="761.3" r="2.0"/>
<circle cx="581.9" cy="760.2" r="2.0"/>
<circle cx="581.2" cy="763.9" r="2.0"/>
<circle cx="585.0" cy="766.4" r="2.0"/>
<circle cx="583.1" cy="761.3" r="2.0"/>
<circle cx="589.2" cy="766.3" r="2.0"/>
<circle cx="586.8" cy="766.9" r="2.0"/>
<circle cx="583.2" cy="765.9" r="2.0"/>
<circle cx="593.2" cy="766.5" r="2.0"/>
<circle cx="598.2" cy="760.2" r="2.0"/>
<circle cx="598.0" cy="761.2" r="2.0"/>
<circle cx="590.2" cy="760.8" r="2.0"/>
<circle cx="595.6" cy="768.6" r="2.0"/>
<circle cx="599.3" cy="761.6" r="2.0"/>
<circle cx="604.3" cy="769.4" r="2.0"/>
<circle cx="608.9" cy="768.3" r="2.0"/>
<circle cx="552.5" cy="772.7" r="2.0"/>
<circle cx="551.5" cy="772.6" r="2.0"/>
<circle cx="554.0" cy="778.0" r="2.0"/>
<circle cx="566.6" cy="771.7" r="2.0"/>
<circle cx="561.8" cy="774.5" r="2.0"/>
<circle cx="568.9" cy="774.7" r="2.0"/>
<circle cx="567.9" cy="776.9" r="2.0"/>
<circle cx="568.8" cy="775.0" r="2.0"/>
<circle cx="563.8" cy="774.6" r="2.0"/>
<circle cx="568.0" cy="772.8" r="2.0"/>
<circle cx="561.9" cy="778.4" r="2.0"/>
<circle cx="574.8" cy="776.4" r="2.0"/>
<circle cx="571.7" cy="770.4" r="2.0"/>
<circle cx="572.3" cy="774.3" r="2.0"/>
<circle cx="570.3" cy="772.7" r="2.0"/>
<circle cx="579.4" cy="774.4" r="2.0"/>
<circle cx="570.0" cy="778.0" r="2.0"/>
<circle cx="573.0" cy="771.7" r="2.0"/>
<circle cx="576.4" cy="776.6" r="2.0"/>
<circle cx="573.2" cy="777.1" r="2.0"/>
<circle cx="578.8" cy="773.4" r="2.0"/>
<circle cx="575.0" cy="770.1" r="2.0"/>
<circle cx="575.9" cy="772.9" r="2.0"/>
<circle cx="576.5" cy="777.6" r="2.0"/>
<circle cx="573.4" cy="776.7" r="2.0"/>
<circle cx="579.4" cy="771.7" r="2.0"/>
<circle cx="578.0" cy="774.8" r="2.0"/>
<circle cx="579.4" cy="770.7" r="2.0"/>
<circle cx="583.8" cy="771.6" r="2.0"/>
<circle cx="582.6" cy="778.9" r="2.0"/>
<circle cx="585.3" cy="773.6" r="2.0"/>
<circle cx="589.6" cy="770.5" r="2.0"/>
<circle cx="580.2" cy="777.7" r="2.0"/>
<circle cx="585.6" cy="778.3" r="2.0"/>
<circle cx="585.0" cy="779.4" r="2.0"/>
<circle cx="583.3" cy="772.3" r="2.0"/>
<circle cx="588.8" cy="775.3" r="2.0"/>
<circle cx="580.3" cy="770.1" r="2.0"/>
<circle cx="580.2" cy="777.3" r="2.0"/>
<circle cx="586.4" cy="771.1" r="2.0"/>
<circle cx="588.0" cy="777.8" r="2.0"/>
<circle cx="586.3" cy="775.8" r="2.0"/>
<circle cx="584.3" cy="776.9" r="2.0"/>
<circle cx="583.9" cy="779.3" r="2.0"/>
<circle cx="585.9" cy="776.7" r="2.0"/>
<circle cx="599.3" cy="779.8" r="2.0"/>
<circle cx="595.3" cy="771.1" r="2.0"/>
<circle cx="595.3" cy="779.2" r="2.0"/>
<circle cx="592.1" cy="772.6" r="2.0"/>
<circle cx="592.8" cy="772.3" r="2.0"/>
<circle cx="598.1" cy="775.4" r="2.0"/>
<circle cx="590.9" cy="775.1" r="2.0"/>
<circle cx="597.0" cy="770.3" r="2.0"/>
<circle cx="592.0" cy="770.1" r="2.0"/>
<circle cx="597.0" cy="774.0" r="2.0"/>
<circle cx="600.1" cy="772.5" r="2.0"/>
<circle cx="601.9" cy="775.7" r="2.0"/>
<circle cx="554.3" cy="784.2" r="2.0"/>
<circle cx="553.3" cy="780.4" r="2.0"/>
<circle cx="553.3" cy="786.3" r="2.0"/>
<circle cx="565.4" cy="785.9" r="2.0"/>
<circle cx="561.6" cy="780.4" r="2.0"/>
<circle cx="567.6" cy="787.1" r="2.0"/>
<circle cx="566.6" cy="789.6" r="2.0"/>
<circle cx="563.1" cy="787.3" r="2.0"/>
<circle cx="562.9" cy="786.0" r="2.0"/>
<circle cx="569.1" cy="784.6" r="2.0"/>
<circle cx="566.1" cy="789.9" r="2.0"/>
<circle cx="564.9" cy="782.4" r="2.0"/>
<circle cx="569.5" cy="786.7" r="2.0"/>
<circle cx="573.3" cy="782.7" r="2.0"/>
<circle cx="570.2" cy="780.9" r="2.0"/>
<circle cx="579.8" cy="785.6" r="2.0"/>
<circle cx="577.8" cy="782.4" r="2.0"/>
<circle cx="578.4" cy="787.1" r="2.0"/>
<circle cx="578.7" cy="784.9" r="2.0"/>
<circle cx="579.2" cy="785.7" r="2.0"/>
<circle cx="571.4" cy="789.1" r="2.0"/>
<circle cx="573.0" cy="789.2" r="2.0"/>
<circle cx="575.5" cy="784.0" r="2.0"/>
<circle cx="575.2" cy="783.7" r="2.0"/>
<circle cx="570.8" cy="780.5" r="2.0"/>
<circle cx="570.8" cy="789.0" r="2.0"/>
<circle cx="573.5" cy="780.2" r="2.0"/>
<circle cx="574.0" cy="786.3" r="2.0"/>
<circle cx="576.3" cy="789.1" r="2.0"/>
<circle cx="573.5" cy="789.5" r="2.0"/>
<circle cx="580.1" cy="781.6" r="2.0"/>
<circle cx="584.9" cy="786.5" r="2.0"/>
<circle cx="584.2" cy="787.8" r="2.0"/>
<circle cx="585.5" cy="780.0" r="2.0"/>
<circle cx="583.9" cy="786.4" r="2.0"/>
<circle cx="582.6" cy="781.9" r="2.0"/>
<circle cx="586.4" cy="784.6" r="2.0"/>
<circle cx="589.9" cy="789.5" r="2.0"/>
<circle cx="583.1" cy="780.3" r="2.0"/>
<circle cx="581.8" cy="784.3" r="2.0"/>
<circle cx="584.2" cy="784.3" r="2.0"/>
<circle cx="580.9" cy="783.0" r="2.0"/>
<circle cx="584.1" cy="787.5" r="2.0"/>
<circle cx="581.2" cy="786.3" r="2.0"/>
<circle cx="583.8" cy="787.7" r="2.0"/>
<circle cx="586.8" cy="781.9" r="2.0"/>
<circle cx="587.1" cy="783.7" r="2.0"/>
<circle cx="598.3" cy="780.2" r="2.0"/>
<circle cx="593.1" cy="785.2" r="2.0"/>
<circle cx="592.9" cy="783.9" r="2.0"/>
<circle cx="595.8" cy="782.4" r="2.0"/>
<circle cx="598.6" cy="782.8" r="2.0"/>
<circle cx="596.9" cy="789.6" r="2.0"/>
<circle cx="591.0" cy="788.8" r="2.0"/>
<circle cx="591.8" cy="784.5" r="2.0"/>
<circle cx="601.2" cy="789.3" r="2.0"/>
<circle cx="603.1" cy="785.1" r="2.0"/>
<circle cx="609.7" cy="781.5" r="2.0"/>
<circle cx="560.8" cy="796.9" r="2.0"/>
<circle cx="560.5" cy="791.3" r="2.0"/>
<circle cx="562.5" cy="790.1" r="2.0"/>
<circle cx="563.4" cy="790.6" r="2.0"/>
<circle cx="579.3" cy="795.1" r="2.0"/>
<circle cx="570.3" cy="797.5" r="2.0"/>
<circle cx="572.4" cy="798.8" r="2.0"/>
<circle cx="570.4" cy="791.2" r="2.0"/>
<circle cx="573.7" cy="798.2" r="2.0"/>
<circle cx="579.3" cy="799.6" r="2.0"/>
<circle cx="572.1" cy="793.7" r="2.0"/>
<circle cx="578.5" cy="798.1" r="2.0"/>
<circle cx="579.4" cy="790.8" r="2.0"/>
<circle cx="570.4" cy="794.0" r="2.0"/>
<circle cx="578.4" cy="796.9" r="2.0"/>
<circle cx="574.2" cy="796.8" r="2.0"/>
<circle cx="574.4" cy="798.3" r="2.0"/>
<circle cx="572.9" cy="797.5" r="2.0"/>
<circle cx="571.5" cy="795.9" r="2.0"/>
<circle cx="573.1" cy="793.4" r="2.0"/>
<circle cx="572.7" cy="790.3" r="2.0"/>
<circle cx="580.9" cy="796.7" r="2.0"/>
<circle cx="586.7" cy="796.6" r="2.0"/>
<circle cx="584.3" cy="795.9" r="2.0"/>
<circle cx="587.9" cy="799.8" r="2.0"/>
<circle cx="583.9" cy="797.5" r="2.0"/>
<circle cx="588.1" cy="798.4" r="2.0"/>
<circle cx="586.7" cy="792.3" r="2.0"/>
<circle cx="588.1" cy="795.6" r="2.0"/>
<circle cx="587.4" cy="797.4" r="2.0"/>
<circle cx="582.1" cy="790.7" r="2.0"/>
<circle cx="587.8" cy="796.7" r="2.0"/>
<circle cx="580.2" cy="790.5" r="2.0"/>
<circle cx="584.2" cy="796.5" r="2.0"/>
<circle cx="581.2" cy="797.0" r="2.0"/>
<circle cx="583.4" cy="796.5" r="2.0"/>
<circle cx="582.7" cy="792.3" r="2.0"/>
<circle cx="581.5" cy="796.9" r="2.0"/>
<circle cx="596.2" cy="790.7" r="2.0"/>
<circle cx="591.1" cy="798.4" r="2.0"/>
<circle cx="592.6" cy="799.3" r="2.0"/>
<circle cx="599.8" cy="798.1" r="2.0"/>
<circle cx="561.4" cy="801.0" r="2.0"/>
<circle cx="568.3" cy="804.2" r="2.0"/>
<circle cx="560.3" cy="801.0" r="2.0"/>
<circle cx="572.8" cy="802.5" r="2.0"/>
<circle cx="570.4" cy="807.2" r="2.0"/>
<circle cx="570.6" cy="802.9" r="2.0"/>
<circle cx="577.0" cy="807.5" r="2.0"/>
<circle cx="577.9" cy="802.4" r="2.0"/>
<circle cx="571.7" cy="806.2" r="2.0"/>
<circle cx="588.1" cy="807.4" r="2.0"/>
<circle cx="587.4" cy="804.1" r="2.0"/>
<circle cx="587.2" cy="809.1" r="2.0"/>
<circle cx="586.2" cy="801.5" r="2.0"/>
<circle cx="588.3" cy="800.4" r="2.0"/>
<circle cx="580.1" cy="803.0" r="2.0"/>
<circle cx="593.7" cy="809.7" r="2.0"/>
<circle cx="597.4" cy="804.4" r="2.0"/>
<circle cx="595.7" cy="804.2" r="2.0"/>
</g>
<line x1="431.40" y1="722.00" x2="625.80" y2="794.50" stroke="#cf4a44" stroke-width="1.1"/>
</svg></body></html>
